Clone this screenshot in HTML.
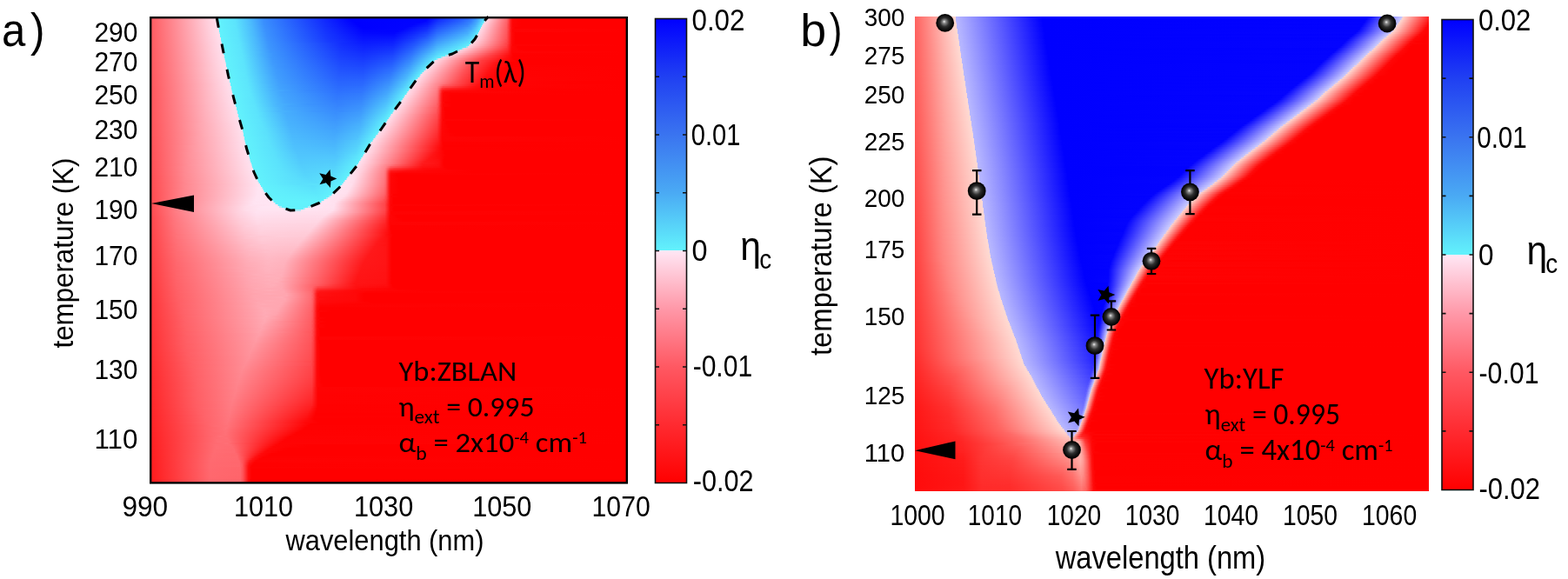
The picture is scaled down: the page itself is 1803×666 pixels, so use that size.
<!DOCTYPE html>
<html><head><meta charset="utf-8"><title>Cooling efficiency maps</title>
<style>
html,body{margin:0;padding:0;background:#fff}
body{width:1803px;height:666px;overflow:hidden;position:relative}
.hm{position:absolute;overflow:hidden}
.hm i{position:absolute;left:0;width:100%;display:block}
svg{position:absolute;left:0;top:0}
</style></head><body>
<div class="hm" style="left:172px;top:19px;width:550px;height:537px"><i style="top:0px;height:2px;background:linear-gradient(90deg,#ff5a60 0.5px,#ffd4e1 69.5px,#ffdeec 76.5px,#62f2fc 77.5px,#5de5fc 96.5px,#4ec0fd 113.5px,#3a8efd 130.5px,#1027ff 201.5px,#00f 230.5px,#0103ff 321.5px,#1027ff 334.5px,#2050fe 357.5px,#2c6dfe 369.5px,#3b93fd 376.5px,#5febfc 387.5px,#ffd6e3 389.5px,#ff6c72 410.5px,#ff5156 412.5px,#ff191a 415.5px,#ff0505 417.5px,#f00 427.5px,#f00 549.5px)"></i><i style="top:2px;height:2px;background:linear-gradient(90deg,#ff5a60 0.5px,#ffd7e4 71.5px,#ffdeec 76.5px,#62f2fc 78.5px,#5ce4fc 97.5px,#4dbefd 114.5px,#398dfd 131.5px,#1129fe 201.5px,#0101ff 230.5px,#0103ff 319.5px,#122cfe 333.5px,#2a67fe 365.5px,#398dfd 374.5px,#5de6fc 385.5px,#ffd9e6 387.5px,#ff696f 410.5px,#ff4f54 412.5px,#ff1819 415.5px,#ff0505 417.5px,#f00 427.5px,#f00 549.5px)"></i><i style="top:4px;height:2px;background:linear-gradient(90deg,#ff5a60 0.5px,#ffd8e5 72.5px,#ffdfec 77.5px,#62f2fc 78.5px,#5ce3fc 98.5px,#4cbcfd 115.5px,#3a8efd 131.5px,#1129fe 202.5px,#0001ff 233.5px,#0104ff 317.5px,#1533fe 332.5px,#2760fe 357.5px,#337efd 369.5px,#42a4fd 376.5px,#5de7fc 384.5px,#ffd8e5 386.5px,#ff656c 410.5px,#ff4c51 412.5px,#ff1719 415.5px,#ff0505 417.5px,#f00 427.5px,#f00 549.5px)"></i><i style="top:6px;height:2px;background:linear-gradient(90deg,#ff5a5f 0.5px,#ffcad7 64.5px,#ffdeec 77.5px,#62f2fc 78.5px,#5ce4fc 98.5px,#4cbbfd 116.5px,#3a8ffd 131.5px,#112bfe 202.5px,#00f 236.5px,#0204ff 310.5px,#0610ff 319.5px,#173afe 331.5px,#2b6afe 358.5px,#3686fd 369.5px,#46adfd 376.5px,#5ee8fc 383.5px,#ffd8e5 385.5px,#ff6268 410.5px,#ff4a4f 412.5px,#ff1618 415.5px,#ff0505 417.5px,#f00 427.5px,#f00 549.5px)"></i><i style="top:8px;height:2px;background:linear-gradient(90deg,#ff5a5f 0.5px,#ffcdda 66.5px,#ffdfed 78.5px,#62f2fc 79.5px,#5ce3fc 99.5px,#4ab6fd 118.5px,#3a90fd 131.5px,#122dfe 202.5px,#00f 238.5px,#0204ff 303.5px,#0a18ff 319.5px,#1a40fe 330.5px,#3481fd 365.5px,#44a8fd 374.5px,#5ee8fc 382.5px,#ffdae8 383.5px,#ff6066 410.5px,#ff373b 413.5px,#ff1617 415.5px,#ff0405 417.5px,#f00 427.5px,#f00 549.5px)"></i><i style="top:10px;height:2px;background:linear-gradient(90deg,#ff5a5f 0.5px,#ffcedb 67.5px,#ffdfec 78.5px,#62f2fc 79.5px,#5de5fc 98.5px,#4dbdfd 116.5px,#3a90fd 132.5px,#122dfe 203.5px,#00f 241.5px,#0204ff 299.5px,#0d21ff 319.5px,#1e49fe 330.5px,#388afd 365.5px,#48b2fd 374.5px,#5ee9fc 381.5px,#ffdae8 382.5px,#ff5e63 410.5px,#ff3639 413.5px,#ff1517 415.5px,#ff0405 417.5px,#f00 427.5px,#f00 549.5px)"></i><i style="top:12px;height:2px;background:linear-gradient(90deg,#ff5a5f 0.5px,#ffd1de 69.5px,#ffdeec 78.5px,#62f2fc 79.5px,#5ce4fc 99.5px,#4cbcfd 117.5px,#3b91fd 132.5px,#132ffe 203.5px,#00f 244.5px,#0204ff 294.5px,#112afe 319.5px,#2254fe 331.5px,#3787fd 359.5px,#41a1fd 369.5px,#52cafd 376.5px,#5ee9fc 380.5px,#ffdae8 381.5px,#ff5c61 410.5px,#ff3538 413.5px,#ff0a0b 416.5px,#f00 420.5px,#f00 549.5px)"></i><i style="top:14px;height:2px;background:linear-gradient(90deg,#ff5a5f 0.5px,#ffd2df 70.5px,#ffdfed 79.5px,#62f2fc 80.5px,#5ce3fc 100.5px,#4bbafd 118.5px,#3b91fd 133.5px,#1431fe 203.5px,#0102ff 245.5px,#0204ff 290.5px,#132ffe 318.5px,#255bfe 330.5px,#398efd 358.5px,#45aafd 369.5px,#55d3fc 376.5px,#5ee9fc 379.5px,#ffdae8 380.5px,#ff5a5f 410.5px,#ff4448 412.5px,#ff1516 415.5px,#ff0404 417.5px,#f00 549.5px)"></i><i style="top:16px;height:2px;background:linear-gradient(90deg,#ff595f 0.5px,#ffcedb 68.5px,#ffdfec 79.5px,#62f2fc 80.5px,#5ce4fc 100.5px,#4bb9fd 119.5px,#3c93fd 132.5px,#1533fe 203.5px,#0205ff 245.5px,#0103ff 284.5px,#1738fe 318.5px,#2863fe 330.5px,#42a2fd 364.5px,#51c7fd 373.5px,#5ee9fc 378.5px,#ffdae8 379.5px,#ff585e 410.5px,#ff3336 413.5px,#ff1415 415.5px,#ff0404 417.5px,#f00 549.5px)"></i><i style="top:18px;height:2px;background:linear-gradient(90deg,#ff595f 0.5px,#ffd1de 70.5px,#ffdeec 79.5px,#62f2fc 81.5px,#5ce3fc 101.5px,#4ab7fd 120.5px,#3b91fd 134.5px,#1535fe 203.5px,#0308ff 245.5px,#0205ff 281.5px,#112afe 305.5px,#1c44fe 319.5px,#2c6cfe 330.5px,#46adfd 365.5px,#57d7fc 374.5px,#5feafc 377.5px,#ffdae8 378.5px,#ff575c 410.5px,#ff3235 413.5px,#ff0a0a 416.5px,#f00 420.5px,#f00 549.5px)"></i><i style="top:20px;height:2px;background:linear-gradient(90deg,#ff595f 0.5px,#ffd2df 71.5px,#ffdfec 80.5px,#62f2fc 81.5px,#5ce4fc 101.5px,#48b3fd 122.5px,#3b92fd 134.5px,#1637fe 203.5px,#050bff 245.5px,#0409ff 280.5px,#1431fe 305.5px,#1f4dfe 319.5px,#2f75fe 330.5px,#4ab6fd 365.5px,#5adffc 374.5px,#5febfc 376.5px,#ffdae7 377.5px,#ff555a 410.5px,#ff3134 413.5px,#ff0a0a 416.5px,#f00 420.5px,#f00 549.5px)"></i><i style="top:22px;height:2px;background:linear-gradient(90deg,#ff595f 0.5px,#ffd3e0 72.5px,#ffdeec 80.5px,#62f2fc 81.5px,#5ce4fc 101.5px,#4bbafd 120.5px,#3c93fd 134.5px,#1637fe 204.5px,#060fff 245.5px,#060fff 281.5px,#1f4cfe 316.5px,#3480fd 331.5px,#48b3fd 359.5px,#52c9fd 368.5px,#5ee7fc 374.5px,#ffd9e7 376.5px,#ff5358 410.5px,#ff3033 413.5px,#ff090a 416.5px,#f00 420.5px,#f00 549.5px)"></i><i style="top:24px;height:2px;background:linear-gradient(90deg,#ff595e 0.5px,#ffccd9 68.5px,#ffdfed 81.5px,#62f2fc 82.5px,#5de5fc 101.5px,#4bb9fd 121.5px,#3c93fd 135.5px,#1636fe 206.5px,#0712ff 245.5px,#0814ff 280.5px,#1738fe 302.5px,#265ffe 319.5px,#3789fd 331.5px,#4ab8fd 357.5px,#55d2fc 368.5px,#5feafc 373.5px,#ffd9e6 375.5px,#ff5156 410.5px,#ff2f31 413.5px,#ff090a 416.5px,#f00 420.5px,#f00 549.5px)"></i><i style="top:26px;height:2px;background:linear-gradient(90deg,#ff595e 0.5px,#ffc8d5 66.5px,#ffdfec 81.5px,#62f2fc 82.5px,#5ce4fc 102.5px,#4ab7fd 122.5px,#3c94fd 135.5px,#1738fe 206.5px,#0915ff 245.5px,#0a19ff 280.5px,#1b42fe 303.5px,#2b6bfe 320.5px,#3a8ffd 330.5px,#54cefc 364.5px,#60ecfc 372.5px,#ffd7e4 374.5px,#ff5b61 407.5px,#ff464a 411.5px,#ff0909 416.5px,#f00 420.5px,#f00 549.5px)"></i><i style="top:28px;height:2px;background:linear-gradient(90deg,#ff595e 0.5px,#ffc9d6 67.5px,#ffdeec 81.5px,#62f2fc 83.5px,#5ce3fc 103.5px,#48b3fd 124.5px,#3c94fd 136.5px,#173afe 206.5px,#0a19ff 245.5px,#0c1dff 279.5px,#1c46fe 302.5px,#2f74fe 320.5px,#3e98fd 330.5px,#58d9fc 365.5px,#5febfc 370.5px,#ffd8e5 372.5px,#ff4b50 410.5px,#ff2b2e 413.5px,#ff0809 416.5px,#f00 420.5px,#f00 549.5px)"></i><i style="top:30px;height:2px;background:linear-gradient(90deg,#ff595e 0.5px,#ffcad7 68.5px,#ffdfec 82.5px,#62f2fc 83.5px,#5ce3fc 104.5px,#47affd 126.5px,#3c95fd 136.5px,#122dfe 221.5px,#0b1cff 246.5px,#0e23ff 280.5px,#2357fe 306.5px,#337dfd 320.5px,#41a1fd 330.5px,#5ce2fc 365.5px,#5febfc 368.5px,#ffd8e5 370.5px,#ff5a5f 405.5px,#ff4044 411.5px,#ff0809 416.5px,#f00 420.5px,#f00 549.5px)"></i><i style="top:32px;height:2px;background:linear-gradient(90deg,#ff595e 0.5px,#ffd0dd 72.5px,#ffdeec 82.5px,#62f2fc 83.5px,#5de5fc 103.5px,#49b3fd 125.5px,#3c95fd 137.5px,#1430fe 220.5px,#0d20ff 246.5px,#1027ff 279.5px,#2459fe 304.5px,#3686fd 320.5px,#46acfd 331.5px,#5adffc 359.5px,#60ecfc 366.5px,#ffd6e3 368.5px,#ff5459 405.5px,#ff4247 410.5px,#ff1a1b 414.5px,#ff0303 417.5px,#f00 549.5px)"></i><i style="top:34px;height:2px;background:linear-gradient(90deg,#ff595e 0.5px,#ffd1de 73.5px,#ffdfed 83.5px,#62f2fc 84.5px,#5ce4fc 104.5px,#48b2fd 126.5px,#3d97fd 136.5px,#1533fe 219.5px,#0e23ff 247.5px,#132efe 280.5px,#255bfe 302.5px,#3a8efd 320.5px,#48b3fd 330.5px,#60eefc 363.5px,#b0e1ee 364.5px,#b0e0ed 365.5px,#ffd2de 366.5px,#ff5358 403.5px,#ff3c40 410.5px,#ff0707 416.5px,#f00 423.5px,#f00 549.5px)"></i><i style="top:36px;height:2px;background:linear-gradient(90deg,#ff585e 0.5px,#ffccd8 70.5px,#ffdfec 83.5px,#62f2fc 84.5px,#5de4fc 104.5px,#4ab6fd 125.5px,#3d97fd 137.5px,#1534fe 221.5px,#1026ff 246.5px,#1432fe 279.5px,#265ffe 301.5px,#3f9bfd 321.5px,#4dbefd 331.5px,#60edfc 358.5px,#afe1ef 359.5px,#b0e1ee 360.5px,#ffd3e0 361.5px,#ff9ea8 377.5px,#ff4549 405.5px,#ff2f32 411.5px,#ff0606 416.5px,#f00 425.5px,#f00 549.5px)"></i><i style="top:38px;height:2px;background:linear-gradient(90deg,#ff585e 0.5px,#ffcdda 71.5px,#ffdeec 83.5px,#62f2fc 85.5px,#5ce4fc 105.5px,#46acfd 129.5px,#3d95fd 139.5px,#1738fe 219.5px,#1129fe 245.5px,#1637fe 279.5px,#2966fe 301.5px,#43a4fd 321.5px,#4fc4fd 330.5px,#60edfc 354.5px,#b0e1ef 355.5px,#b0e1ee 356.5px,#ffd3e0 357.5px,#ff494d 400.5px,#ff282b 411.5px,#ff0505 416.5px,#f00 431.5px,#f00 549.5px)"></i><i style="top:40px;height:2px;background:linear-gradient(90deg,#ff585e 0.5px,#ffcedb 72.5px,#ffdfec 84.5px,#62f2fc 85.5px,#5ce4fc 105.5px,#4ab6fd 126.5px,#3d98fd 138.5px,#183bfe 219.5px,#122dfe 246.5px,#183cfe 279.5px,#2b6afe 300.5px,#44a9fd 320.5px,#53cdfc 330.5px,#60edfc 350.5px,#b0e0ee 351.5px,#b0e0ed 352.5px,#ffd2df 353.5px,#ff474b 397.5px,#ff2123 411.5px,#ff0404 416.5px,#f00 549.5px)"></i><i style="top:42px;height:2px;background:linear-gradient(90deg,#ff585d 0.5px,#ffc7d4 68.5px,#ffdeec 84.5px,#62f2fc 85.5px,#5ce4fc 106.5px,#46acfd 130.5px,#3c94fd 142.5px,#183cfe 220.5px,#1430fe 246.5px,#1a41fe 279.5px,#2f73fe 301.5px,#4bbafd 322.5px,#58dafc 332.5px,#60edfc 345.5px,#afe0ee 346.5px,#b0dfec 348.5px,#ffcfdc 349.5px,#ff494e 392.5px,#ff1617 412.5px,#ff0101 417.5px,#f00 549.5px)"></i><i style="top:44px;height:2px;background:linear-gradient(90deg,#ff585d 0.5px,#ffc8d5 69.5px,#ffdfed 85.5px,#62f2fc 86.5px,#5ce3fc 107.5px,#45abfd 131.5px,#3c95fd 142.5px,#1a3ffe 219.5px,#1533fe 245.5px,#1d47fe 279.5px,#3077fe 300.5px,#4fc3fd 322.5px,#5ce3fc 332.5px,#60eefc 339.5px,#b0e1ef 340.5px,#b0dfec 342.5px,#ffd0dd 343.5px,#ff939c 363.5px,#ff3b3f 393.5px,#ff0c0d 413.5px,#f00 418.5px,#f00 549.5px)"></i><i style="top:46px;height:2px;background:linear-gradient(90deg,#ff585d 0.5px,#ffc9d6 70.5px,#ffdfec 85.5px,#62f2fc 86.5px,#5de5fc 106.5px,#48b2fd 129.5px,#3e9afd 139.5px,#1b42fe 218.5px,#1637fe 246.5px,#1f4cfe 279.5px,#327bfd 299.5px,#51c7fd 321.5px,#5ee7fc 330.5px,#60eefc 334.5px,#b0e2ef 335.5px,#b0e1ee 336.5px,#ffd4e1 337.5px,#ff4549 385.5px,#ff0101 417.5px,#f00 549.5px)"></i><i style="top:48px;height:2px;background:linear-gradient(90deg,#ff585d 0.5px,#ffcad7 71.5px,#ffdeec 85.5px,#62f2fc 87.5px,#5ce4fc 107.5px,#48b1fd 130.5px,#3e98fd 141.5px,#1c44fe 219.5px,#183afe 246.5px,#2151fe 279.5px,#3481fd 299.5px,#56d4fc 322.5px,#60edfc 329.5px,#afe3f1 330.5px,#b0e3f0 331.5px,#ffd7e4 332.5px,#ff474b 380.5px,#ff1112 406.5px,#f00 419.5px,#f00 549.5px)"></i><i style="top:50px;height:2px;background:linear-gradient(90deg,#ff585d 0.5px,#ffcbd8 72.5px,#ffdfec 86.5px,#62f2fc 87.5px,#5de5fc 107.5px,#47b0fd 131.5px,#3e9afd 141.5px,#1d47fe 218.5px,#193dfe 245.5px,#2356fe 279.5px,#388bfd 300.5px,#5fecfc 326.5px,#ffd9e6 328.5px,#ff929b 351.5px,#ff3a3d 382.5px,#ff090a 408.5px,#f00 422.5px,#f00 549.5px)"></i><i style="top:52px;height:2px;background:linear-gradient(90deg,#ff575d 0.5px,#ffcfdc 75.5px,#ffdeec 86.5px,#62f2fc 88.5px,#5ce4fc 108.5px,#48b1fd 131.5px,#3e99fd 142.5px,#1d48fe 220.5px,#1a41fe 246.5px,#245afe 278.5px,#388bfd 298.5px,#60ecfc 324.5px,#ffd9e6 326.5px,#ff5257 370.5px,#ff1719 396.5px,#f00 416.5px,#f00 549.5px)"></i><i style="top:54px;height:2px;background:linear-gradient(90deg,#ff575d 0.5px,#ffcfdb 75.5px,#ffdfed 87.5px,#62f2fc 88.5px,#5de4fc 108.5px,#48b3fd 131.5px,#3f9cfd 141.5px,#1e4bfe 219.5px,#1b44fe 245.5px,#265ffe 278.5px,#3c95fd 299.5px,#60ecfc 322.5px,#ffd9e6 324.5px,#ff5156 368.5px,#ff1314 396.5px,#f00 416.5px,#f00 549.5px)"></i><i style="top:56px;height:2px;background:linear-gradient(90deg,#ff575d 0.5px,#ffd1de 77.5px,#ffdfec 87.5px,#62f2fc 88.5px,#5ce4fc 109.5px,#47affd 133.5px,#3e99fd 144.5px,#1f4dfe 220.5px,#1d47fe 245.5px,#2864fe 278.5px,#3c95fd 297.5px,#60edfc 320.5px,#ffd9e6 322.5px,#ff5156 366.5px,#ff1314 394.5px,#ff0101 413.5px,#f00 549.5px)"></i><i style="top:58px;height:2px;background:linear-gradient(90deg,#ff575c 0.5px,#ffc5d1 69.5px,#ffdfed 88.5px,#62f2fc 89.5px,#5ce4fc 109.5px,#49b3fd 132.5px,#3e99fd 145.5px,#2050fe 219.5px,#1e4bfe 246.5px,#2b69fe 278.5px,#409ffd 298.5px,#60edfc 318.5px,#ffd9e6 320.5px,#ff5257 364.5px,#ff1315 392.5px,#ff0202 408.5px,#f00 549.5px)"></i><i style="top:60px;height:2px;background:linear-gradient(90deg,#ff575c 0.5px,#ffc6d2 70.5px,#ffdfec 88.5px,#62f2fc 89.5px,#5de5fc 109.5px,#48b2fd 133.5px,#3f9cfd 144.5px,#2152fe 219.5px,#1f4efe 245.5px,#2e70fe 279.5px,#45a9fd 299.5px,#60ecfc 316.5px,#ffd9e6 318.5px,#ff5055 363.5px,#ff1011 392.5px,#ff0202 408.5px,#f00 549.5px)"></i><i style="top:62px;height:2px;background:linear-gradient(90deg,#ff575c 0.5px,#ffcad6 73.5px,#ffdeec 88.5px,#62f2fc 90.5px,#5ce4fc 110.5px,#48b1fd 134.5px,#3f9dfd 144.5px,#2355fe 218.5px,#2151fe 245.5px,#2f73fe 278.5px,#46acfd 298.5px,#60ecfc 314.5px,#ffdae7 316.5px,#ff4f53 362.5px,#ff1112 390.5px,#ff0303 405.5px,#f00 549.5px)"></i><i style="top:64px;height:2px;background:linear-gradient(90deg,#ff575c 0.5px,#ffcbd7 74.5px,#ffdfed 89.5px,#62f2fc 90.5px,#5de5fc 110.5px,#47b0fd 135.5px,#3f9dfd 145.5px,#2458fe 217.5px,#2254fe 245.5px,#2f75fe 276.5px,#45abfd 296.5px,#5febfc 312.5px,#ffdae8 314.5px,#ff5055 360.5px,#ff1112 388.5px,#ff0303 403.5px,#f00 549.5px)"></i><i style="top:66px;height:2px;background:linear-gradient(90deg,#ff565c 0.5px,#ffcad6 74.5px,#ffdfec 89.5px,#62f2fc 90.5px,#5de7fc 109.5px,#4ab7fd 133.5px,#409ffd 144.5px,#255afe 217.5px,#2358fe 245.5px,#327cfd 277.5px,#49b5fd 297.5px,#5febfc 310.5px,#ffdbe8 312.5px,#ff494e 361.5px,#ff0e0f 388.5px,#ff0303 404.5px,#f00 549.5px)"></i><i style="top:68px;height:2px;background:linear-gradient(90deg,#ff565c 0.5px,#ffceda 77.5px,#ffdfed 90.5px,#62f2fc 91.5px,#5de5fc 111.5px,#4ab6fd 134.5px,#409efd 146.5px,#265dfe 216.5px,#255bfe 245.5px,#337ffd 276.5px,#49b4fd 295.5px,#60edfc 309.5px,#ffd9e7 311.5px,#ff4b4f 359.5px,#ff0d0e 387.5px,#ff0304 402.5px,#f00 549.5px)"></i><i style="top:70px;height:2px;background:linear-gradient(90deg,#ff565b 0.5px,#ffc5d1 71.5px,#ffdfec 90.5px,#62f2fc 91.5px,#5ce4fc 112.5px,#49b5fd 135.5px,#409ffd 146.5px,#2760fe 215.5px,#265efe 245.5px,#3584fd 276.5px,#4ab7fd 294.5px,#60ecfc 307.5px,#ffdae7 309.5px,#ff474b 359.5px,#ff0b0b 387.5px,#ff0404 405.5px,#f00 549.5px)"></i><i style="top:72px;height:2px;background:linear-gradient(90deg,#ff565b 0.5px,#ffc8d5 74.5px,#ffdfed 91.5px,#62f2fc 92.5px,#5de5fc 112.5px,#49b4fd 136.5px,#409efd 148.5px,#2761fe 217.5px,#2862fe 245.5px,#3787fd 275.5px,#4dbdfd 294.5px,#5febfc 305.5px,#ffdbe9 307.5px,#ff464a 358.5px,#ff0b0c 385.5px,#ff0404 403.5px,#f00 549.5px)"></i><i style="top:74px;height:2px;background:linear-gradient(90deg,#ff565b 0.5px,#ffc8d4 74.5px,#ffdfec 91.5px,#62f2fc 92.5px,#5de7fc 111.5px,#48b3fd 137.5px,#419ffd 148.5px,#2964fe 216.5px,#2965fe 245.5px,#398cfd 275.5px,#52cbfc 296.5px,#60ecfc 304.5px,#ffdae8 306.5px,#ff4a4e 355.5px,#ff0c0d 383.5px,#ff0405 397.5px,#f00 497.5px,#f00 549.5px)"></i><i style="top:76px;height:2px;background:linear-gradient(90deg,#ff565b 0.5px,#ffcbd8 77.5px,#ffdfed 92.5px,#62f2fc 93.5px,#5de5fc 113.5px,#48b2fd 138.5px,#409efd 150.5px,#2966fe 217.5px,#2a68fe 245.5px,#3b91fd 275.5px,#52cafc 294.5px,#5febfc 302.5px,#ffdbe9 304.5px,#ff565b 348.5px,#ff0c0d 381.5px,#ff0405 397.5px,#f00 497.5px,#f00 549.5px)"></i><i style="top:78px;height:2px;background:linear-gradient(90deg,#ff565b 0.5px,#ffcfdc 80.5px,#ffdfec 92.5px,#62f2fc 93.5px,#5de7fc 112.5px,#4bb9fd 136.5px,#42a3fd 147.5px,#2a68fe 217.5px,#2b6afe 244.5px,#3d96fd 275.5px,#54d0fc 294.5px,#60ecfc 301.5px,#ffdbe8 303.5px,#ff858d 331.5px,#ff6268 338.5px,#ff1112 376.5px,#ff0404 390.5px,#f00 549.5px)"></i><i style="top:80px;height:2px;background:linear-gradient(90deg,#ff555b 0.5px,#ffc9d5 76.5px,#ffdfed 93.5px,#62f2fc 94.5px,#5de5fc 114.5px,#48b3fd 139.5px,#41a1fd 150.5px,#2b6bfe 216.5px,#2c6efe 244.5px,#3d97fd 273.5px,#51c7fd 290.5px,#60edfc 300.5px,#ffdce9 301.5px,#ff848c 330.5px,#ff4c51 337.5px,#ff0f0f 374.5px,#ff0303 390.5px,#f00 549.5px)"></i><i style="top:82px;height:2px;background:linear-gradient(90deg,#ff555a 0.5px,#ffc0cc 70.5px,#ffdfec 93.5px,#62f2fc 94.5px,#5de7fc 113.5px,#4bbafd 137.5px,#42a3fd 149.5px,#2c6dfe 216.5px,#2e72fe 245.5px,#409dfd 274.5px,#59dcfc 294.5px,#60ecfc 298.5px,#ffdbe8 300.5px,#ff7f87 330.5px,#ff5d63 333.5px,#ff3539 336.5px,#ff282a 340.5px,#ff0202 385.5px,#f00 549.5px)"></i><i style="top:84px;height:2px;background:linear-gradient(90deg,#ff555a 0.5px,#ffc6d3 75.5px,#ffdeec 93.5px,#62f2fc 95.5px,#5de5fc 115.5px,#47affd 142.5px,#388afd 179.5px,#2d6ffe 218.5px,#3075fe 245.5px,#42a2fd 274.5px,#5ce2fc 294.5px,#60edfc 297.5px,#ffdcea 298.5px,#ff8189 329.5px,#ff7178 331.5px,#ff2c2e 335.5px,#ff1819 337.5px,#ff0e0f 347.5px,#ff0101 394.5px,#f00 549.5px)"></i><i style="top:86px;height:2px;background:linear-gradient(90deg,#ff555a 0.5px,#ffc6d2 75.5px,#ffdfec 94.5px,#62f2fc 95.5px,#5de7fc 114.5px,#4ab6fd 140.5px,#42a3fd 151.5px,#2e72fe 215.5px,#3076fe 243.5px,#44a7fd 274.5px,#5ee8fc 294.5px,#5fecfc 295.5px,#ffdbe9 297.5px,#ff7d85 329.5px,#ff6d73 331.5px,#ff1314 336.5px,#ff0606 339.5px,#f00 462.5px,#f00 549.5px)"></i><i style="top:88px;height:2px;background:linear-gradient(90deg,#ff555a 0.5px,#ffc4d0 74.5px,#ffdeec 94.5px,#62f2fc 96.5px,#5de5fc 116.5px,#4ab7fd 140.5px,#43a5fd 151.5px,#2f74fe 216.5px,#327bfd 244.5px,#44a7fd 272.5px,#5de6fc 292.5px,#60edfc 294.5px,#ffdbe8 296.5px,#ff7a81 329.5px,#ff696f 331.5px,#ff4549 333.5px,#ff1d1e 335.5px,#ff0707 337.5px,#ff0101 346.5px,#f00 549.5px)"></i><i style="top:90px;height:2px;background:linear-gradient(90deg,#ff555a 0.5px,#ffc2ce 73.5px,#ffdfed 95.5px,#62f2fc 96.5px,#5de7fc 115.5px,#4cbbfd 139.5px,#43a6fd 151.5px,#3077fe 215.5px,#337dfd 243.5px,#46acfd 272.5px,#5fecfc 292.5px,#ffdce9 294.5px,#ff777e 329.5px,#ff666c 331.5px,#ff1b1d 335.5px,#ff0606 337.5px,#f00 346.5px,#f00 549.5px)"></i><i style="top:92px;height:2px;background:linear-gradient(90deg,#ff555a 0.5px,#ffc0cc 72.5px,#ffdeec 95.5px,#62f2fc 97.5px,#5de5fc 117.5px,#4ab6fd 142.5px,#43a5fd 154.5px,#3179fd 215.5px,#3481fd 244.5px,#49b3fd 273.5px,#60edfc 291.5px,#ffdbe8 293.5px,#ff737a 329.5px,#ff6369 331.5px,#ff1a1c 335.5px,#ff0506 337.5px,#f00 346.5px,#f00 549.5px)"></i><i style="top:94px;height:2px;background:linear-gradient(90deg,#ff545a 0.5px,#ffbdc9 70.5px,#ffdfed 96.5px,#62f2fc 97.5px,#5ce4fc 118.5px,#4ab8fd 142.5px,#43a6fd 154.5px,#327bfd 215.5px,#3583fd 243.5px,#4ab6fd 272.5px,#60eefc 290.5px,#ffdce9 291.5px,#ff7077 329.5px,#ff6066 331.5px,#ff191b 335.5px,#ff0506 337.5px,#f00 346.5px,#f00 549.5px)"></i><i style="top:96px;height:2px;background:linear-gradient(90deg,#ff5459 0.5px,#ffb6c1 65.5px,#ffdeec 96.5px,#62f2fc 98.5px,#5ce4fc 119.5px,#49b5fd 144.5px,#43a4fd 157.5px,#337efd 214.5px,#3787fd 243.5px,#4bbafd 272.5px,#60edfc 288.5px,#ffdbe9 290.5px,#ff6c73 329.5px,#ff5d63 331.5px,#ff181a 335.5px,#ff0505 337.5px,#f00 347.5px,#f00 549.5px)"></i><i style="top:98px;height:2px;background:linear-gradient(90deg,#ff5459 0.5px,#ffb4bf 64.5px,#ffdfed 97.5px,#62f2fc 98.5px,#5ce4fc 119.5px,#4bb9fd 143.5px,#44a7fd 155.5px,#3480fd 215.5px,#388afd 243.5px,#4dbffd 272.5px,#60eefc 287.5px,#ffdcea 288.5px,#ff6970 329.5px,#ff5a5f 331.5px,#ff0c0c 336.5px,#f00 340.5px,#f00 549.5px)"></i><i style="top:100px;height:2px;background:linear-gradient(90deg,#ff5459 0.5px,#ffb5c0 65.5px,#ffdeec 97.5px,#62f2fc 99.5px,#5ce3fc 121.5px,#49b4fd 146.5px,#3c95fd 181.5px,#3582fd 217.5px,#3a8efd 244.5px,#4fc4fd 272.5px,#60edfc 285.5px,#ffdbe9 287.5px,#ff666c 329.5px,#ff4a4e 332.5px,#ff1718 335.5px,#ff0505 337.5px,#f00 347.5px,#f00 549.5px)"></i><i style="top:102px;height:2px;background:linear-gradient(90deg,#ff5459 0.5px,#ffb8c4 68.5px,#ffdfed 98.5px,#62f2fc 99.5px,#5de5fc 120.5px,#4ab8fd 145.5px,#43a6fd 159.5px,#3684fd 216.5px,#3b92fd 244.5px,#50c6fd 271.5px,#60eefc 284.5px,#ffdcea 285.5px,#ff6268 329.5px,#ff5459 331.5px,#ff1617 335.5px,#ff0505 337.5px,#f00 347.5px,#f00 549.5px)"></i><i style="top:104px;height:2px;background:linear-gradient(90deg,#ff5459 0.5px,#ffb7c2 67.5px,#ffdfed 99.5px,#62f2fc 100.5px,#5ce3fc 122.5px,#46acfd 154.5px,#3787fd 214.5px,#3b92fd 242.5px,#51c8fd 270.5px,#60edfc 282.5px,#ffdce9 284.5px,#ff5a5f 330.5px,#ff3538 333.5px,#ff0b0b 336.5px,#f00 339.5px,#f00 549.5px)"></i><i style="top:106px;height:2px;background:linear-gradient(90deg,#ff5459 0.5px,#ffb8c3 68.5px,#ffdfec 99.5px,#62f2fc 100.5px,#5ce4fc 122.5px,#46acfd 155.5px,#3889fd 214.5px,#3d95fd 242.5px,#55d2fc 272.5px,#60eefc 281.5px,#ffddea 282.5px,#ff5c61 329.5px,#ff4246 332.5px,#ff0a0b 336.5px,#f00 339.5px,#f00 549.5px)"></i><i style="top:108px;height:2px;background:linear-gradient(90deg,#ff5359 0.5px,#ffafba 62.5px,#ffdfed 100.5px,#62f2fc 101.5px,#5ce3fc 123.5px,#4ab6fd 148.5px,#3d96fd 190.5px,#388bfd 219.5px,#3e9afd 243.5px,#56d4fc 271.5px,#60edfc 279.5px,#ffdce9 281.5px,#ff595e 329.5px,#ff4044 332.5px,#ff0a0a 336.5px,#f00 340.5px,#f00 549.5px)"></i><i style="top:110px;height:2px;background:linear-gradient(90deg,#ff5358 0.5px,#ffadb8 61.5px,#ffdfec 100.5px,#62f2fc 101.5px,#5be2fc 125.5px,#47affd 155.5px,#398efd 213.5px,#409dfd 243.5px,#58d8fc 271.5px,#60eefc 278.5px,#ffdbe8 280.5px,#ff555b 329.5px,#ff3d41 332.5px,#ff090a 336.5px,#f00 340.5px,#f00 549.5px)"></i><i style="top:112px;height:2px;background:linear-gradient(90deg,#ff5358 0.5px,#ffaeb9 62.5px,#ffdfed 101.5px,#62f2fc 102.5px,#5ce4fc 124.5px,#47aefd 157.5px,#3a90fd 214.5px,#409ffd 242.5px,#58dafc 270.5px,#60edfc 276.5px,#ffdce9 278.5px,#ff4d52 330.5px,#ff2d30 333.5px,#ff0909 336.5px,#f00 340.5px,#f00 549.5px)"></i><i style="top:114px;height:2px;background:linear-gradient(90deg,#ff5358 0.5px,#ffafba 63.5px,#ffdfec 101.5px,#62f2fc 102.5px,#5ce4fc 124.5px,#47b0fd 157.5px,#3b92fd 214.5px,#42a2fd 242.5px,#5adffc 270.5px,#60eefc 275.5px,#ffdbe9 277.5px,#ff4a4f 330.5px,#ff2b2e 333.5px,#ff0909 336.5px,#f00 340.5px,#f00 549.5px)"></i><i style="top:116px;height:2px;background:linear-gradient(90deg,#ff5358 0.5px,#ffadb8 62.5px,#ffdfed 102.5px,#62f2fc 103.5px,#5be2fc 127.5px,#48b1fd 157.5px,#3c94fd 215.5px,#44a7fd 243.5px,#5de6fc 271.5px,#61effc 274.5px,#ffdcea 275.5px,#ff484c 330.5px,#ff2a2c 333.5px,#ff0809 336.5px,#f00 340.5px,#f00 549.5px)"></i><i style="top:118px;height:2px;background:linear-gradient(90deg,#ff5358 0.5px,#ffaeb9 63.5px,#ffdfec 102.5px,#62f2fc 104.5px,#5ce4fc 126.5px,#48b1fd 158.5px,#3d96fd 213.5px,#44a7fd 241.5px,#5de5fc 269.5px,#60edfc 272.5px,#ffdce9 274.5px,#ff4549 330.5px,#ff1b1d 334.5px,#ff0303 337.5px,#f00 549.5px)"></i><i style="top:120px;height:2px;background:linear-gradient(90deg,#ff5358 0.5px,#ffb3be 67.5px,#ffdfed 103.5px,#62f2fc 104.5px,#5ce2fc 128.5px,#48b2fd 159.5px,#3e99fd 213.5px,#45aafd 241.5px,#60eefc 271.5px,#ffdbe9 273.5px,#ff4246 330.5px,#ff2628 333.5px,#ff0808 336.5px,#f00 341.5px,#f00 549.5px)"></i><i style="top:122px;height:2px;background:linear-gradient(90deg,#ff5258 0.5px,#ffa7b1 58.5px,#ffdfed 104.5px,#62f2fc 105.5px,#5be2fc 129.5px,#48b2fd 160.5px,#3f9bfd 214.5px,#47affd 242.5px,#60edfc 269.5px,#ffdcea 271.5px,#ff3f43 330.5px,#ff2427 333.5px,#ff0708 336.5px,#f00 341.5px,#f00 549.5px)"></i><i style="top:124px;height:2px;background:linear-gradient(90deg,#ff5257 0.5px,#ffa4ae 56.5px,#ffdfed 104.5px,#62f2fc 105.5px,#5ce3fc 129.5px,#49b4fd 159.5px,#409dfd 214.5px,#48b2fd 242.5px,#60eefc 268.5px,#ffdce9 270.5px,#ff3c40 330.5px,#ff0707 336.5px,#f00 343.5px,#f00 549.5px)"></i><i style="top:126px;height:2px;background:linear-gradient(90deg,#ff5257 0.5px,#ffa5af 57.5px,#ffdfed 105.5px,#62f2fc 106.5px,#5ce2fc 130.5px,#49b4fd 161.5px,#419ffd 213.5px,#49b5fd 242.5px,#61effc 267.5px,#ffddea 268.5px,#ff3a3d 330.5px,#ff0607 336.5px,#f00 343.5px,#f00 549.5px)"></i><i style="top:128px;height:2px;background:linear-gradient(90deg,#ff5257 0.5px,#ffa6b0 58.5px,#ffdfec 105.5px,#62f2fc 107.5px,#5be0fc 133.5px,#4ab6fd 161.5px,#41a1fd 212.5px,#49b5fd 240.5px,#60eefc 265.5px,#ffdcea 267.5px,#ff373a 330.5px,#ff0606 336.5px,#f00 345.5px,#f00 549.5px)"></i><i style="top:130px;height:2px;background:linear-gradient(90deg,#ff5257 0.5px,#ffa7b1 59.5px,#ffdfed 106.5px,#62f2fc 107.5px,#5be2fc 132.5px,#4ab6fd 162.5px,#42a4fd 214.5px,#4bbafd 241.5px,#61effc 264.5px,#ffdbe9 266.5px,#ff3437 330.5px,#ff0606 336.5px,#f00 345.5px,#f00 549.5px)"></i><i style="top:132px;height:2px;background:linear-gradient(90deg,#ff5257 0.5px,#ffaab5 62.5px,#ffdfec 106.5px,#62f2fc 108.5px,#5be0fc 134.5px,#4ab7fd 162.5px,#43a6fd 214.5px,#4dbdfd 241.5px,#60eefc 262.5px,#ffdcea 264.5px,#ff3134 330.5px,#ff0506 336.5px,#f00 345.5px,#f00 549.5px)"></i><i style="top:134px;height:2px;background:linear-gradient(90deg,#ff5257 0.5px,#ffaab4 62.5px,#ffdfed 107.5px,#62f2fc 108.5px,#5be0fc 135.5px,#4bb8fd 163.5px,#44a8fd 213.5px,#4ec0fd 241.5px,#61effc 261.5px,#ffdbe9 263.5px,#ff2e31 330.5px,#ff0505 336.5px,#f00 351.5px,#f00 549.5px)"></i><i style="top:136px;height:2px;background:linear-gradient(90deg,#ff5257 0.5px,#ffaab4 62.5px,#ffdfed 107.5px,#62f2fc 108.5px,#5be2fc 134.5px,#4bbafd 163.5px,#45aafd 212.5px,#4ec0fd 239.5px,#60eefc 259.5px,#ffdcea 261.5px,#ff2b2e 330.5px,#ff0505 336.5px,#f00 351.5px,#f00 549.5px)"></i><i style="top:138px;height:2px;background:linear-gradient(90deg,#ff5156 0.5px,#ff9fa9 54.5px,#ffdfed 108.5px,#62f2fc 109.5px,#5ce3fc 134.5px,#4bbafd 164.5px,#46acfd 212.5px,#4fc3fd 239.5px,#61effc 258.5px,#ffdbe9 260.5px,#ff282b 330.5px,#ff0404 336.5px,#f00 549.5px)"></i><i style="top:140px;height:2px;background:linear-gradient(90deg,#ff5156 0.5px,#ffa0aa 55.5px,#ffdfed 108.5px,#62f2fc 109.5px,#5ce2fc 135.5px,#4cbcfd 164.5px,#47aefd 211.5px,#4fc3fd 237.5px,#60eefc 256.5px,#ffdcea 258.5px,#ff2123 331.5px,#ff0404 336.5px,#f00 549.5px)"></i><i style="top:142px;height:2px;background:linear-gradient(90deg,#ff5156 0.5px,#ffa0aa 55.5px,#ffdfec 108.5px,#62f2fc 110.5px,#5be1fc 137.5px,#4dbdfd 164.5px,#48b1fd 213.5px,#53cdfc 241.5px,#61effc 255.5px,#ffdce9 257.5px,#ff1e20 331.5px,#ff0304 336.5px,#f00 549.5px)"></i><i style="top:144px;height:2px;background:linear-gradient(90deg,#ff5156 0.5px,#ff9da7 53.5px,#ffdfed 109.5px,#62f2fc 110.5px,#5ce3fc 136.5px,#4dbdfd 166.5px,#49b3fd 213.5px,#54cefc 240.5px,#60eefc 253.5px,#ffddeb 255.5px,#ff1a1c 331.5px,#ff0101 337.5px,#f00 549.5px)"></i><i style="top:146px;height:2px;background:linear-gradient(90deg,#ff5156 0.5px,#ffa2ac 57.5px,#ffdfed 109.5px,#62f2fc 111.5px,#5ce2fc 137.5px,#4dbffd 165.5px,#49b5fd 212.5px,#55d1fc 240.5px,#61eefc 252.5px,#ffddea 254.5px,#ff1719 331.5px,#ff0101 337.5px,#f00 549.5px)"></i><i style="top:148px;height:2px;background:linear-gradient(90deg,#ff5055 0.5px,#ff97a0 48.5px,#ffe0ed 110.5px,#62f2fc 111.5px,#5ce2fc 138.5px,#4ec0fd 166.5px,#4ab7fd 212.5px,#55d1fc 238.5px,#61effc 251.5px,#ffdeec 252.5px,#ff1011 332.5px,#f00 338.5px,#f00 549.5px)"></i><i style="top:150px;height:2px;background:linear-gradient(90deg,#ff5055 0.5px,#ff98a1 49.5px,#ffdfed 110.5px,#62f2fc 111.5px,#5be2fc 139.5px,#4ec1fd 166.5px,#4bbafd 213.5px,#56d4fc 238.5px,#61effc 250.5px,#ffdeec 251.5px,#ff0101 337.5px,#f00 549.5px)"></i><i style="top:152px;height:2px;background:linear-gradient(90deg,#ff5055 0.5px,#ff9aa4 51.5px,#ffe0ed 111.5px,#62f2fc 112.5px,#5be2fc 140.5px,#4fc2fd 167.5px,#4cbcfd 213.5px,#57d7fc 238.5px,#60eefc 248.5px,#ffdfec 250.5px,#ff0101 337.5px,#f00 549.5px)"></i><i style="top:154px;height:2px;background:linear-gradient(90deg,#ff5055 0.5px,#ff9ba5 52.5px,#ffe0ed 111.5px,#62f2fc 113.5px,#5be1fc 142.5px,#4fc3fd 168.5px,#4dbefd 212.5px,#57d8fc 237.5px,#60eefc 247.5px,#ffdfec 249.5px,#ff1213 329.5px,#f00 339.5px,#f00 549.5px)"></i><i style="top:156px;height:2px;background:linear-gradient(90deg,#ff4f54 0.5px,#ff929b 45.5px,#ffe0ee 112.5px,#62f2fc 113.5px,#5be2fc 142.5px,#50c4fd 169.5px,#4ec0fd 212.5px,#59dbfc 237.5px,#61effc 246.5px,#ffdfec 248.5px,#ff1416 326.5px,#f00 339.5px,#f00 549.5px)"></i><i style="top:158px;height:2px;background:linear-gradient(90deg,#ff4f54 0.5px,#ff939c 46.5px,#ffe0ee 113.5px,#62f2fc 114.5px,#5ce2fc 142.5px,#50c5fd 171.5px,#4fc3fd 213.5px,#5be0fc 238.5px,#61effc 245.5px,#ffe0ee 246.5px,#ff6b72 291.5px,#ff1415 325.5px,#ff0a0a 333.5px,#f00 340.5px,#f00 549.5px)"></i><i style="top:160px;height:2px;background:linear-gradient(90deg,#ff4f54 0.5px,#ff939c 46.5px,#ffe0ee 113.5px,#62f2fc 115.5px,#5ce2fc 143.5px,#50c6fd 171.5px,#50c6fd 215.5px,#5ee7fc 240.5px,#61effc 244.5px,#ffe0ee 245.5px,#ff8088 282.5px,#ff1516 323.5px,#ff0a0b 333.5px,#f00 339.5px,#f00 549.5px)"></i><i style="top:162px;height:2px;background:linear-gradient(90deg,#ff4f54 0.5px,#ff949d 47.5px,#ffe0ee 114.5px,#62f2fc 115.5px,#5ce3fc 143.5px,#51c7fd 172.5px,#51c8fd 214.5px,#5de6fc 238.5px,#61eefc 242.5px,#ffe0ee 244.5px,#ff777e 284.5px,#ff1617 321.5px,#ff0b0b 333.5px,#f00 339.5px,#f00 549.5px)"></i><i style="top:164px;height:2px;background:linear-gradient(90deg,#ff4f53 0.5px,#ff8d96 42.5px,#ffe0ee 114.5px,#62f2fc 116.5px,#5be2fc 146.5px,#51c9fd 172.5px,#52cafc 214.5px,#5febfc 239.5px,#61effc 241.5px,#ffe0ee 243.5px,#ff7077 285.5px,#ff1718 319.5px,#ff0e0f 332.5px,#f00 338.5px,#f00 549.5px)"></i><i style="top:166px;height:2px;background:linear-gradient(90deg,#ff4e53 0.5px,#ff8d96 42.5px,#ffe1ee 115.5px,#62f2fc 116.5px,#5be2fc 147.5px,#52cafc 173.5px,#52cbfc 212.5px,#5ee8fc 236.5px,#61effc 240.5px,#ffe1ef 241.5px,#ffbdc9 256.5px,#ff191a 316.5px,#ff0f10 332.5px,#f00 338.5px,#f00 549.5px)"></i><i style="top:168px;height:2px;background:linear-gradient(90deg,#ff4e53 0.5px,#ff8e97 43.5px,#ffe1ef 116.5px,#62f2fc 117.5px,#5be2fc 148.5px,#52cbfc 173.5px,#53cefc 213.5px,#61eefc 238.5px,#61f0fc 239.5px,#ffe1ef 240.5px,#ffbdc8 255.5px,#ff1b1d 313.5px,#ff1415 326.5px,#ff0f10 332.5px,#f00 338.5px,#f00 549.5px)"></i><i style="top:170px;height:2px;background:linear-gradient(90deg,#ff4e53 0.5px,#ff929b 46.5px,#ffe1ee 116.5px,#62f2fc 118.5px,#5be2fc 149.5px,#53cdfc 174.5px,#54d0fc 213.5px,#61effc 237.5px,#ffe1ef 239.5px,#ffaeb8 259.5px,#ff828a 273.5px,#ff646a 282.5px,#ff1617 314.5px,#ff0e0f 332.5px,#f00 338.5px,#f00 549.5px)"></i><i style="top:172px;height:2px;background:linear-gradient(90deg,#ff4e52 0.5px,#ff8a93 40.5px,#ffe1ef 117.5px,#62f2fc 118.5px,#5be2fc 150.5px,#53cefc 175.5px,#55d2fc 212.5px,#61f0fc 236.5px,#ffe1ee 238.5px,#ffbbc7 253.5px,#ff848c 271.5px,#ff5c62 277.5px,#ff1213 313.5px,#ff0c0d 332.5px,#f00 339.5px,#f00 549.5px)"></i><i style="top:174px;height:2px;background:linear-gradient(90deg,#ff4d52 0.5px,#ff8b94 41.5px,#ffe2ef 118.5px,#62f2fc 119.5px,#5ce2fc 151.5px,#54cffc 176.5px,#56d5fc 213.5px,#61effc 234.5px,#ffe2ef 236.5px,#ffc9d5 247.5px,#ff848c 270.5px,#ff666d 273.5px,#ff4549 276.5px,#ff3639 281.5px,#ff0b0c 314.5px,#ff0607 333.5px,#f00 343.5px,#f00 549.5px)"></i><i style="top:176px;height:2px;background:linear-gradient(90deg,#ff4d52 0.5px,#ff8a92 40.5px,#ffe1ef 118.5px,#62f2fc 120.5px,#5be1fc 154.5px,#55d1fc 176.5px,#57d6fc 212.5px,#61f0fc 233.5px,#ffe2f0 234.5px,#ffcedb 244.5px,#ff848c 269.5px,#ff767d 271.5px,#ff3539 275.5px,#ff2325 277.5px,#ff1011 296.5px,#ff0506 319.5px,#f00 373.5px,#f00 549.5px)"></i><i style="top:178px;height:2px;background:linear-gradient(90deg,#ff4d52 0.5px,#ff8d96 43.5px,#ffe2ef 119.5px,#62f2fc 120.5px,#5ce4fc 151.5px,#55d2fc 178.5px,#58d9fc 213.5px,#61f0fc 231.5px,#ffe2f0 233.5px,#ffd1de 242.5px,#ff8189 269.5px,#ff7177 271.5px,#ff2628 275.5px,#ff1011 277.5px,#ff0708 290.5px,#f00 370.5px,#f00 549.5px)"></i><i style="top:180px;height:2px;background:linear-gradient(90deg,#ff4d51 0.5px,#ff8890 39.5px,#ffe2f0 120.5px,#62f2fc 121.5px,#5ce3fc 154.5px,#56d4fc 178.5px,#59dbfc 212.5px,#61effc 229.5px,#ffe3f1 231.5px,#ffd7e4 239.5px,#ff7f87 269.5px,#ff6d74 271.5px,#ff1f21 275.5px,#ff0909 277.5px,#ff0202 284.5px,#f00 549.5px)"></i><i style="top:182px;height:2px;background:linear-gradient(90deg,#ff4c51 0.5px,#ff8991 40.5px,#ffe2f0 121.5px,#62f2fc 122.5px,#5ce2fc 157.5px,#56d5fc 179.5px,#5adefc 213.5px,#61f0fc 228.5px,#ffe3f1 230.5px,#ffd8e5 238.5px,#ff7d85 269.5px,#ff6c72 271.5px,#ff1d1e 275.5px,#ff0607 277.5px,#f00 284.5px,#f00 549.5px)"></i><i style="top:184px;height:2px;background:linear-gradient(90deg,#ff4c51 0.5px,#ff8b93 42.5px,#ffe2f0 122.5px,#62f2fc 123.5px,#5be1fc 160.5px,#57d7fc 181.5px,#5be0fc 213.5px,#61f0fc 226.5px,#ffe3f1 228.5px,#ffdce9 236.5px,#ff7b83 269.5px,#ff6a71 271.5px,#ff1c1e 275.5px,#ff0606 277.5px,#f00 286.5px,#f00 549.5px)"></i><i style="top:186px;height:2px;background:linear-gradient(90deg,#ff4c50 0.5px,#ff8890 40.5px,#ffe2f0 122.5px,#62f2fc 124.5px,#5be0fc 163.5px,#58d9fc 184.5px,#5ce3fc 214.5px,#61f0fc 225.5px,#ffe3f1 227.5px,#ffdcea 235.5px,#ff7a81 269.5px,#ff696f 271.5px,#ff1c1d 275.5px,#ff0606 277.5px,#f00 286.5px,#f00 549.5px)"></i><i style="top:188px;height:2px;background:linear-gradient(90deg,#ff4b50 0.5px,#ff868e 39.5px,#ffe2f0 123.5px,#62f2fc 125.5px,#5ce2fc 162.5px,#58dafc 186.5px,#5ee7fc 216.5px,#61f0fc 223.5px,#ffe4f1 225.5px,#ffddeb 234.5px,#ff7880 269.5px,#ff676e 271.5px,#ff1b1d 275.5px,#ff0606 277.5px,#f00 286.5px,#f00 549.5px)"></i><i style="top:190px;height:2px;background:linear-gradient(90deg,#ff4b50 0.5px,#ff8b93 43.5px,#ffe3f0 124.5px,#62f2fc 126.5px,#5be1fc 166.5px,#59dcfc 191.5px,#5febfc 217.5px,#61f0fc 222.5px,#ffe4f2 223.5px,#ffdbe9 234.5px,#ff777e 269.5px,#ff666c 271.5px,#ff1b1c 275.5px,#ff0606 277.5px,#f00 286.5px,#f00 549.5px)"></i><i style="top:192px;height:2px;background:linear-gradient(90deg,#ff4b4f 0.5px,#ff848c 38.5px,#ffe3f1 125.5px,#ffe4f1 126.5px,#62f2fc 127.5px,#5be0fc 171.5px,#5ce2fc 204.5px,#61f0fc 220.5px,#ffe4f2 222.5px,#ffdeec 232.5px,#ff757c 269.5px,#ff646b 271.5px,#ff1a1c 275.5px,#ff0506 277.5px,#f00 286.5px,#f00 549.5px)"></i><i style="top:194px;height:2px;background:linear-gradient(90deg,#ff4b4f 0.5px,#ff878f 40.5px,#ffe4f2 126.5px,#ffe4f2 127.5px,#62f2fc 128.5px,#5adffc 187.5px,#60eefc 216.5px,#61f0fc 218.5px,#ffe4f2 220.5px,#ffdfec 231.5px,#ff737a 269.5px,#ff6369 271.5px,#ff1a1b 275.5px,#ff0506 277.5px,#f00 286.5px,#f00 549.5px)"></i><i style="top:196px;height:2px;background:linear-gradient(90deg,#ff4a4f 0.5px,#ff8890 41.5px,#ffe4f2 125.5px,#ffe4f2 128.5px,#62f2fc 130.5px,#5be1fc 188.5px,#61f0fc 216.5px,#ffe4f2 218.5px,#ffdeec 230.5px,#ff7077 269.5px,#ff6066 271.5px,#ff191b 275.5px,#ff0506 277.5px,#f00 286.5px,#f00 549.5px)"></i><i style="top:198px;height:2px;background:linear-gradient(90deg,#ff4a4e 0.5px,#ff848c 38.5px,#ffe4f2 125.5px,#ffe4f2 129.5px,#62f2fc 131.5px,#5ce3fc 188.5px,#61f0fc 214.5px,#ffe4f2 216.5px,#ffdeec 229.5px,#ff6e74 269.5px,#ff5e64 271.5px,#ff191a 275.5px,#ff0505 277.5px,#f00 287.5px,#f00 549.5px)"></i><i style="top:200px;height:2px;background:linear-gradient(90deg,#ff4a4e 0.5px,#ff848c 38.5px,#ffe4f2 124.5px,#ffe4f2 130.5px,#62f2fc 132.5px,#5de5fc 190.5px,#61f0fc 212.5px,#ffe4f2 214.5px,#ffe0ed 227.5px,#ff6b71 269.5px,#ff5b61 271.5px,#ff1819 275.5px,#ff0505 277.5px,#f00 287.5px,#f00 549.5px)"></i><i style="top:202px;height:2px;background:linear-gradient(90deg,#ff494e 0.5px,#ff878f 40.5px,#ffe4f2 124.5px,#ffe5f3 132.5px,#62f2fc 134.5px,#5de7fc 191.5px,#61f0fc 210.5px,#ffe5f3 212.5px,#ffdfed 226.5px,#ff686e 269.5px,#ff595e 271.5px,#ff1719 275.5px,#ff0505 277.5px,#f00 287.5px,#f00 549.5px)"></i><i style="top:204px;height:2px;background:linear-gradient(90deg,#ff494e 0.5px,#ff878f 40.5px,#ffe4f2 124.5px,#ffe5f3 133.5px,#62f2fc 135.5px,#5ee9fc 192.5px,#61f1fc 208.5px,#ffe5f3 210.5px,#ffdeeb 225.5px,#ff646a 269.5px,#ff555b 271.5px,#ff0b0c 276.5px,#f00 280.5px,#f00 549.5px)"></i><i style="top:206px;height:2px;background:linear-gradient(90deg,#ff494d 0.5px,#ff838b 37.5px,#ffe4f2 123.5px,#ffe5f3 135.5px,#62f2fc 137.5px,#5febfc 194.5px,#61f1fc 205.5px,#b0ebf7 206.5px,#b0ebf7 207.5px,#ffe5f3 208.5px,#ffdeeb 223.5px,#ff5f65 269.5px,#ff4549 272.5px,#ff1516 275.5px,#ff0405 277.5px,#f00 287.5px,#f00 549.5px)"></i><i style="top:208px;height:2px;background:linear-gradient(90deg,#ff494d 0.5px,#ff868e 39.5px,#ffe4f2 122.5px,#ffe5f3 137.5px,#62f2fc 139.5px,#60edfc 195.5px,#62f1fc 202.5px,#b0ebf7 203.5px,#b0ebf7 204.5px,#ffe5f3 205.5px,#ffdeec 220.5px,#ff5a5f 269.5px,#ff4044 272.5px,#ff0a0a 276.5px,#f00 280.5px,#f00 549.5px)"></i><i style="top:210px;height:2px;background:linear-gradient(90deg,#ff494d 0.5px,#ff8189 35.5px,#ffe4f2 121.5px,#ffe5f3 139.5px,#62f2fc 141.5px,#61effc 195.5px,#62f1fc 199.5px,#ffe5f3 201.5px,#ffdfec 217.5px,#ff5b60 267.5px,#ff474b 271.5px,#ff090a 276.5px,#f00 280.5px,#f00 549.5px)"></i><i style="top:212px;height:2px;background:linear-gradient(90deg,#ff494d 0.5px,#ff828a 35.5px,#ffe3f1 119.5px,#ffe5f3 141.5px,#62f2fc 143.5px,#62f1fc 196.5px,#ffe5f3 198.5px,#ffe0ee 214.5px,#ff4f54 269.5px,#ff383b 272.5px,#ff0809 276.5px,#f00 280.5px,#f00 549.5px)"></i><i style="top:214px;height:2px;background:linear-gradient(90deg,#ff494e 0.5px,#ff838b 35.5px,#ffe4f2 120.5px,#ffe5f3 143.5px,#62f2fc 145.5px,#62f1fc 191.5px,#b0ebf7 192.5px,#b0ebf7 194.5px,#ffe5f3 195.5px,#ffe1ef 212.5px,#ff464b 270.5px,#ff292b 273.5px,#ff0809 276.5px,#f00 280.5px,#f00 549.5px)"></i><i style="top:216px;height:2px;background:linear-gradient(90deg,#ff494e 0.5px,#ff828a 34.5px,#ffe1ef 116.5px,#ffe5f3 146.5px,#62f2fc 148.5px,#62f1fc 186.5px,#b0ebf7 187.5px,#b0ebf7 189.5px,#ffe5f3 190.5px,#ffe0ee 212.5px,#ff4549 270.5px,#ff1b1d 274.5px,#ff0303 277.5px,#f00 549.5px)"></i><i style="top:218px;height:2px;background:linear-gradient(90deg,#ff494e 0.5px,#ff8088 32.5px,#ffddea 111.5px,#ffe5f3 129.5px,#ffe5f3 148.5px,#b0ebf7 149.5px,#b0ebf7 151.5px,#62f2fc 152.5px,#62f1fc 181.5px,#b0ebf7 182.5px,#b0ebf7 184.5px,#ffe5f3 185.5px,#ffe1ef 211.5px,#ff454a 270.5px,#ff282b 273.5px,#ff0808 276.5px,#f00 281.5px,#f00 549.5px)"></i><i style="top:220px;height:2px;background:linear-gradient(90deg,#ff494e 0.5px,#ff7f87 31.5px,#ffdbe8 109.5px,#ffe4f2 125.5px,#ffe4f2 154.5px,#b0ebf7 155.5px,#b0ebf7 157.5px,#62f2fc 158.5px,#62f2fc 176.5px,#b0ebf7 177.5px,#b0ebf7 178.5px,#ffe4f2 179.5px,#ffe0ee 211.5px,#ff464a 270.5px,#ff292b 273.5px,#ff0809 276.5px,#f00 280.5px,#f00 549.5px)"></i><i style="top:222px;height:2px;background:linear-gradient(90deg,#ff494d 0.5px,#ff7f87 31.5px,#ffddea 111.5px,#ffe4f1 127.5px,#ffe4f1 160.5px,#b0ebf7 161.5px,#b0ebf7 173.5px,#ffe4f1 174.5px,#ffdfed 210.5px,#ff454a 270.5px,#ff282b 273.5px,#ff0808 276.5px,#f00 281.5px,#f00 549.5px)"></i><i style="top:224px;height:2px;background:linear-gradient(90deg,#ff484d 0.5px,#ff7d84 30.5px,#ffd1de 101.5px,#ffe2f0 122.5px,#ffdeec 207.5px,#ff9da7 235.5px,#ff4246 270.5px,#ff1a1c 274.5px,#ff0303 277.5px,#f00 549.5px)"></i><i style="top:226px;height:2px;background:linear-gradient(90deg,#ff484c 0.5px,#ff7a82 29.5px,#ffd2df 103.5px,#ffe1ef 123.5px,#ffdeeb 203.5px,#ffbbc7 220.5px,#ff3e42 270.5px,#ff181a 274.5px,#ff0303 277.5px,#f00 549.5px)"></i><i style="top:228px;height:2px;background:linear-gradient(90deg,#ff474b 0.5px,#ff7981 29.5px,#ffcedb 101.5px,#ffdfed 122.5px,#ffdbe9 201.5px,#ffafb9 222.5px,#ff383c 270.5px,#ff0607 276.5px,#f00 283.5px,#f00 549.5px)"></i><i style="top:230px;height:2px;background:linear-gradient(90deg,#ff464a 0.5px,#ff7880 29.5px,#ffd0dd 104.5px,#ffdeeb 124.5px,#ffdae8 198.5px,#ffacb6 220.5px,#ff3336 270.5px,#ff0606 276.5px,#f00 285.5px,#f00 549.5px)"></i><i style="top:232px;height:2px;background:linear-gradient(90deg,#ff454a 0.5px,#ff767d 28.5px,#ffc8d4 98.5px,#ffdce9 122.5px,#ffd8e6 196.5px,#ff7980 239.5px,#ff2f31 270.5px,#ff0505 276.5px,#f00 291.5px,#f00 549.5px)"></i><i style="top:234px;height:2px;background:linear-gradient(90deg,#ff4549 0.5px,#ff7981 31.5px,#ffcedb 106.5px,#ffdae8 124.5px,#ffd7e4 194.5px,#ff2a2d 270.5px,#ff0505 276.5px,#f00 291.5px,#f00 549.5px)"></i><i style="top:236px;height:2px;background:linear-gradient(90deg,#ff4449 0.5px,#ff767d 29.5px,#ffcbd7 104.5px,#ffd9e6 124.5px,#ffd6e3 192.5px,#ff2729 270.5px,#ff0404 276.5px,#f00 549.5px)"></i><i style="top:238px;height:2px;background:linear-gradient(90deg,#ff4448 0.5px,#ff747b 28.5px,#ffc9d5 104.5px,#ffd7e4 124.5px,#ffd3e0 191.5px,#ff1f21 271.5px,#ff0404 276.5px,#f00 549.5px)"></i><i style="top:240px;height:2px;background:linear-gradient(90deg,#ff4448 0.5px,#ff767d 30.5px,#ffcfdc 112.5px,#ffd6e3 133.5px,#ffd2df 189.5px,#ff1c1e 271.5px,#ff0101 277.5px,#f00 549.5px)"></i><i style="top:242px;height:2px;background:linear-gradient(90deg,#ff4448 0.5px,#ff757c 30.5px,#ffcad7 109.5px,#ffd4e1 127.5px,#ffd1de 187.5px,#ff1a1b 271.5px,#ff0101 277.5px,#f00 549.5px)"></i><i style="top:244px;height:2px;background:linear-gradient(90deg,#ff4347 0.5px,#ff737a 29.5px,#ffc8d4 108.5px,#ffd3e0 128.5px,#ffd0dc 185.5px,#ff1415 272.5px,#ff0101 277.5px,#f00 549.5px)"></i><i style="top:246px;height:2px;background:linear-gradient(90deg,#ff4347 0.5px,#ff737b 30.5px,#ffc5d1 107.5px,#ffd1de 127.5px,#ffcdda 184.5px,#ff1214 272.5px,#f00 278.5px,#f00 549.5px)"></i><i style="top:248px;height:2px;background:linear-gradient(90deg,#ff4347 0.5px,#ff747b 31.5px,#ffc5d1 109.5px,#ffd0dc 127.5px,#ffccd8 182.5px,#ff0e0f 273.5px,#f00 278.5px,#f00 549.5px)"></i><i style="top:250px;height:2px;background:linear-gradient(90deg,#ff4246 0.5px,#ff6e75 27.5px,#ffbeca 103.5px,#ffcedb 127.5px,#ffcbd7 180.5px,#ff191a 268.5px,#ff090a 274.5px,#f00 280.5px,#f00 549.5px)"></i><i style="top:252px;height:2px;background:linear-gradient(90deg,#ff4246 0.5px,#ff737a 31.5px,#ffc8d4 116.5px,#ffcdd9 151.5px,#ffc9d6 178.5px,#ff181a 267.5px,#ff0e0e 273.5px,#f00 279.5px,#f00 549.5px)"></i><i style="top:254px;height:2px;background:linear-gradient(90deg,#ff4246 0.5px,#ff7279 31.5px,#ffc1cd 110.5px,#ffcbd7 130.5px,#ffc7d3 177.5px,#ff191a 265.5px,#ff1112 272.5px,#f00 278.5px,#f00 549.5px)"></i><i style="top:256px;height:2px;background:linear-gradient(90deg,#ff4145 0.5px,#ff6d74 28.5px,#ffb9c4 103.5px,#ffcad6 128.5px,#ffc6d2 175.5px,#ff181a 264.5px,#ff1112 272.5px,#f00 278.5px,#f00 549.5px)"></i><i style="top:258px;height:2px;background:linear-gradient(90deg,#ff4145 0.5px,#ff6e75 29.5px,#ffbcc7 108.5px,#ffc8d4 129.5px,#ffc5d1 173.5px,#ff191a 262.5px,#ff1112 272.5px,#f00 278.5px,#f00 549.5px)"></i><i style="top:260px;height:2px;background:linear-gradient(90deg,#ff4145 0.5px,#ff6e75 30.5px,#ffb7c3 105.5px,#ffc6d3 129.5px,#ffc3cf 171.5px,#ff181a 261.5px,#ff1415 271.5px,#f00 278.5px,#f00 549.5px)"></i><i style="top:262px;height:2px;background:linear-gradient(90deg,#ff4145 0.5px,#ff7077 32.5px,#ffc0cb 117.5px,#ffc5d1 141.5px,#ffc1cd 170.5px,#ff181a 260.5px,#ff1112 272.5px,#f00 278.5px,#f00 549.5px)"></i><i style="top:264px;height:2px;background:linear-gradient(90deg,#ff4044 0.5px,#ff6b71 28.5px,#ffbbc6 113.5px,#ffc3cf 132.5px,#ffc0cb 168.5px,#ff181a 258.5px,#ff1415 271.5px,#f00 278.5px,#f00 549.5px)"></i><i style="top:266px;height:2px;background:linear-gradient(90deg,#ff4044 0.5px,#ff6c73 30.5px,#ffb6c1 109.5px,#ffc2ce 133.5px,#ffbeca 166.5px,#ff181a 257.5px,#ff1415 271.5px,#f00 278.5px,#f00 549.5px)"></i><i style="top:268px;height:2px;background:linear-gradient(90deg,#ff4044 0.5px,#ff6e75 32.5px,#ffbac6 117.5px,#ffc0cc 141.5px,#ffbcc7 165.5px,#ff191a 255.5px,#ff1415 271.5px,#f00 278.5px,#f00 549.5px)"></i><i style="top:270px;height:2px;background:linear-gradient(90deg,#ff3f43 0.5px,#ff696f 28.5px,#ffb1bc 107.5px,#ffbfcb 133.5px,#ffbbc6 163.5px,#ff181a 254.5px,#ff1415 271.5px,#f00 278.5px,#f00 549.5px)"></i><i style="top:272px;height:2px;background:linear-gradient(90deg,#ff3f43 0.5px,#ff6a71 30.5px,#ffb5c0 114.5px,#ffbdc9 137.5px,#ffb8c4 162.5px,#ff1819 253.5px,#ff1415 271.5px,#f00 278.5px,#f00 549.5px)"></i><i style="top:274px;height:2px;background:linear-gradient(90deg,#ff3f43 0.5px,#ff6b71 31.5px,#ffb4bf 115.5px,#ffbcc7 137.5px,#ffb7c2 160.5px,#ff181a 251.5px,#ff1415 271.5px,#f00 278.5px,#f00 549.5px)"></i><i style="top:276px;height:2px;background:linear-gradient(90deg,#ff3f42 0.5px,#ff696f 30.5px,#ffafba 111.5px,#ffbac6 136.5px,#ffb5c0 159.5px,#ff1819 250.5px,#ff1415 271.5px,#f00 278.5px,#f00 549.5px)"></i><i style="top:278px;height:2px;background:linear-gradient(90deg,#ff3e42 0.5px,#ff6970 31.5px,#ffb0ba 114.5px,#ffb9c4 135.5px,#ffb4bf 157.5px,#ff181a 248.5px,#ff1415 271.5px,#f00 278.5px,#f00 549.5px)"></i><i style="top:280px;height:2px;background:linear-gradient(90deg,#ff3e42 0.5px,#ff6a70 32.5px,#ffb0bb 116.5px,#ffb8c3 140.5px,#ffb3be 156.5px,#ff1819 247.5px,#ff1415 271.5px,#f00 278.5px,#f00 549.5px)"></i><i style="top:282px;height:2px;background:linear-gradient(90deg,#ff3e41 0.5px,#ff676d 30.5px,#ffabb6 111.5px,#ffb7c2 136.5px,#ffb2bd 155.5px,#ff1719 246.5px,#ff1415 271.5px,#f00 278.5px,#f00 549.5px)"></i><i style="top:284px;height:2px;background:linear-gradient(90deg,#ff3d41 0.5px,#ff666d 30.5px,#ffacb6 113.5px,#ffb6c1 136.5px,#ffb2bd 154.5px,#ff1719 245.5px,#ff1415 271.5px,#f00 278.5px,#f00 549.5px)"></i><i style="top:286px;height:2px;background:linear-gradient(90deg,#ff3d41 0.5px,#ff676d 31.5px,#ffabb6 113.5px,#ffb5c0 138.5px,#ffb1bb 154.5px,#ff1718 244.5px,#ff1315 271.5px,#f00 278.5px,#f00 549.5px)"></i><i style="top:288px;height:2px;background:linear-gradient(90deg,#ff3c40 0.5px,#ff6369 28.5px,#ffa2ac 101.5px,#ffb4bf 133.5px,#ffb1bc 153.5px,#ff1718 243.5px,#ff1314 271.5px,#f00 278.5px,#f00 549.5px)"></i><i style="top:290px;height:2px;background:linear-gradient(90deg,#ff3c40 0.5px,#ff656b 30.5px,#ffa8b3 111.5px,#ffb4bf 136.5px,#ffaeb9 154.5px,#ff1617 243.5px,#ff1314 271.5px,#f00 278.5px,#f00 549.5px)"></i><i style="top:292px;height:2px;background:linear-gradient(90deg,#ff3c3f 0.5px,#ff6167 27.5px,#ffa3ad 104.5px,#ffb3be 135.5px,#ffafb9 153.5px,#ff1617 242.5px,#ff1314 271.5px,#f00 278.5px,#f00 549.5px)"></i><i style="top:294px;height:2px;background:linear-gradient(90deg,#ff3b3f 0.5px,#ff646a 30.5px,#ffa8b3 113.5px,#ffb2bd 136.5px,#ffadb8 153.5px,#ff1617 241.5px,#ff1213 271.5px,#f00 278.5px,#f00 549.5px)"></i><i style="top:296px;height:2px;background:linear-gradient(90deg,#ff3b3f 0.5px,#ff666c 32.5px,#ffaeb9 122.5px,#ffafba 151.5px,#ff1517 240.5px,#ff1213 271.5px,#f00 278.5px,#f00 549.5px)"></i><i style="top:298px;height:2px;background:linear-gradient(90deg,#ff3b3e 0.5px,#ff6167 28.5px,#ffa4ae 108.5px,#ffb1bc 136.5px,#ffadb7 152.5px,#ff1516 239.5px,#ff1213 271.5px,#f00 278.5px,#f00 549.5px)"></i><i style="top:300px;height:2px;background:linear-gradient(90deg,#ff3a3e 0.5px,#ff646a 31.5px,#ffabb6 120.5px,#ffb0ba 148.5px,#ff1516 238.5px,#ff1213 271.5px,#f00 278.5px,#f00 549.5px)"></i><i style="top:302px;height:2px;background:linear-gradient(90deg,#ff3a3e 0.5px,#ff6369 31.5px,#ffa6b1 114.5px,#ffb0ba 137.5px,#ffacb6 151.5px,#ff1415 238.5px,#ff1112 271.5px,#f00 278.5px,#f00 549.5px)"></i><i style="top:304px;height:2px;background:linear-gradient(90deg,#ff3a3d 0.5px,#ff6369 31.5px,#ffa9b4 119.5px,#ffafb9 146.5px,#ff959e 163.5px,#ff1415 237.5px,#ff1112 271.5px,#f00 278.5px,#f00 549.5px)"></i><i style="top:306px;height:2px;background:linear-gradient(90deg,#ff393d 0.5px,#ff6167 30.5px,#ffa4af 113.5px,#ffaeb9 136.5px,#ffa9b4 151.5px,#ff1415 235.5px,#ff1011 271.5px,#f00 278.5px,#f00 549.5px)"></i><i style="top:308px;height:2px;background:linear-gradient(90deg,#ff393c 0.5px,#ff6167 30.5px,#ffa7b1 117.5px,#ffaeb8 142.5px,#ffa7b1 152.5px,#ff6167 189.5px,#ff3639 212.5px,#ff1213 237.5px,#ff0d0e 272.5px,#f00 279.5px,#f00 549.5px)"></i><i style="top:310px;height:2px;background:linear-gradient(90deg,#ff393c 0.5px,#ff6167 31.5px,#ffa5af 115.5px,#ffadb7 139.5px,#ffa7b1 152.5px,#ff646a 187.5px,#ff494d 193.5px,#ff1011 237.5px,#ff0a0b 272.5px,#f00 280.5px,#f00 549.5px)"></i><i style="top:312px;height:2px;background:linear-gradient(90deg,#ff383c 0.5px,#ff6268 32.5px,#ffa9b4 123.5px,#ffa8b3 151.5px,#ff676d 186.5px,#ff3639 193.5px,#ff090a 243.5px,#ff0506 273.5px,#f00 285.5px,#f00 549.5px)"></i><i style="top:314px;height:2px;background:linear-gradient(90deg,#ff383b 0.5px,#ff5f65 30.5px,#ffa2ac 113.5px,#ffacb6 138.5px,#ffa5b0 154.5px,#ff666d 186.5px,#ff4a4e 189.5px,#ff282b 192.5px,#ff1e20 196.5px,#ff0808 238.5px,#f00 316.5px,#f00 549.5px)"></i><i style="top:316px;height:2px;background:linear-gradient(90deg,#ff383b 0.5px,#ff6268 33.5px,#ffa7b1 121.5px,#ffa7b1 154.5px,#ff6c72 185.5px,#ff5459 188.5px,#ff1d1f 192.5px,#ff1314 195.5px,#ff0708 237.5px,#ff0202 249.5px,#f00 549.5px)"></i><i style="top:318px;height:2px;background:linear-gradient(90deg,#ff373b 0.5px,#ff5f65 31.5px,#ffa0aa 112.5px,#ffaab5 137.5px,#ffa5af 157.5px,#ff6d73 185.5px,#ff6066 187.5px,#ff2325 191.5px,#ff1213 193.5px,#ff0d0d 208.5px,#ff0809 236.5px,#f00 246.5px,#f00 549.5px)"></i><i style="top:320px;height:2px;background:linear-gradient(90deg,#ff373a 0.5px,#ff5f65 31.5px,#ffa6b0 121.5px,#ffa6b0 157.5px,#ff6d74 185.5px,#ff5459 188.5px,#ff2224 191.5px,#ff1011 193.5px,#ff0c0c 213.5px,#ff0808 236.5px,#f00 246.5px,#f00 549.5px)"></i><i style="top:322px;height:2px;background:linear-gradient(90deg,#ff373a 0.5px,#ff6166 33.5px,#ffa5af 120.5px,#ffa9b4 152.5px,#ff949d 166.5px,#ff6d74 185.5px,#ff6066 187.5px,#ff1718 192.5px,#ff0c0d 195.5px,#ff0808 236.5px,#f00 246.5px,#f00 549.5px)"></i><i style="top:324px;height:2px;background:linear-gradient(90deg,#ff363a 0.5px,#ff6066 33.5px,#ffa6b1 123.5px,#ffa7b1 155.5px,#ff6c73 185.5px,#ff5358 188.5px,#ff2123 191.5px,#ff1011 193.5px,#ff0b0c 203.5px,#ff0808 236.5px,#f00 246.5px,#f00 549.5px)"></i><i style="top:326px;height:2px;background:linear-gradient(90deg,#ff3639 0.5px,#ff5d62 30.5px,#ffa1ab 115.5px,#ffaab4 138.5px,#ffa5af 155.5px,#ff6b71 185.5px,#ff5e64 187.5px,#ff1517 192.5px,#ff0a0b 196.5px,#ff0708 236.5px,#f00 246.5px,#f00 549.5px)"></i><i style="top:328px;height:2px;background:linear-gradient(90deg,#ff3639 0.5px,#ff5f65 33.5px,#ffa7b1 124.5px,#ffa7b1 152.5px,#ff6a70 185.5px,#ff5d62 187.5px,#ff1415 192.5px,#ff090a 195.5px,#ff0505 237.5px,#f00 257.5px,#f00 549.5px)"></i><i style="top:330px;height:2px;background:linear-gradient(90deg,#ff3539 0.5px,#ff6268 36.5px,#ffaab4 129.5px,#ffa6b0 151.5px,#ff686e 185.5px,#ff5b61 187.5px,#ff1112 192.5px,#ff0607 195.5px,#ff0202 238.5px,#f00 549.5px)"></i><i style="top:332px;height:2px;background:linear-gradient(90deg,#ff3538 0.5px,#ff5f64 33.5px,#ffa7b1 124.5px,#ffa7b1 149.5px,#ff676d 185.5px,#ff5a5f 187.5px,#ff0e0f 192.5px,#ff0303 196.5px,#f00 549.5px)"></i><i style="top:334px;height:2px;background:linear-gradient(90deg,#ff3538 0.5px,#ff6066 35.5px,#ffaab4 129.5px,#ffa6b0 148.5px,#ff656c 185.5px,#ff585e 187.5px,#ff0d0d 192.5px,#ff0101 196.5px,#f00 549.5px)"></i><i style="top:336px;height:2px;background:linear-gradient(90deg,#ff3538 0.5px,#ff6369 38.5px,#ffabb5 132.5px,#ffa6b0 147.5px,#ff646a 185.5px,#ff575d 187.5px,#ff0c0d 192.5px,#ff0101 195.5px,#f00 549.5px)"></i><i style="top:338px;height:2px;background:linear-gradient(90deg,#ff3438 0.5px,#ff6167 37.5px,#ffabb5 131.5px,#ffa4ae 147.5px,#ff6369 185.5px,#ff4a4e 188.5px,#ff1718 191.5px,#ff0505 193.5px,#f00 208.5px,#f00 549.5px)"></i><i style="top:340px;height:2px;background:linear-gradient(90deg,#ff3437 0.5px,#ff6167 37.5px,#ffabb6 133.5px,#ffa3ad 146.5px,#ff6268 185.5px,#ff555b 187.5px,#ff0b0c 192.5px,#f00 196.5px,#f00 549.5px)"></i><i style="top:342px;height:2px;background:linear-gradient(90deg,#ff3437 0.5px,#ff6066 37.5px,#ffaab5 131.5px,#ffa4ae 144.5px,#ff6167 185.5px,#ff545a 187.5px,#ff0b0c 192.5px,#f00 196.5px,#f00 549.5px)"></i><i style="top:344px;height:2px;background:linear-gradient(90deg,#ff3437 0.5px,#ff656b 42.5px,#ffabb5 134.5px,#ff959e 152.5px,#ff6066 185.5px,#ff5459 187.5px,#ff0b0c 192.5px,#f00 196.5px,#f00 549.5px)"></i><i style="top:346px;height:2px;background:linear-gradient(90deg,#ff3337 0.5px,#ff6166 38.5px,#ffaab4 131.5px,#ffa1aa 143.5px,#ff5f65 185.5px,#ff5358 187.5px,#ff1617 191.5px,#ff0505 193.5px,#f00 203.5px,#f00 549.5px)"></i><i style="top:348px;height:2px;background:linear-gradient(90deg,#ff3336 0.5px,#ff6268 40.5px,#ffa9b3 132.5px,#ff949d 150.5px,#ff5e64 185.5px,#ff5257 187.5px,#ff0b0c 192.5px,#f00 196.5px,#f00 549.5px)"></i><i style="top:350px;height:2px;background:linear-gradient(90deg,#ff3336 0.5px,#ff636a 42.5px,#ffa8b2 132.5px,#ff5d63 185.5px,#ff464a 188.5px,#ff1617 191.5px,#ff0505 193.5px,#f00 203.5px,#f00 549.5px)"></i><i style="top:352px;height:2px;background:linear-gradient(90deg,#ff3336 0.5px,#ff6167 40.5px,#ffa7b1 130.5px,#ff8088 161.5px,#ff5d62 185.5px,#ff5156 187.5px,#ff0b0b 192.5px,#f00 196.5px,#f00 549.5px)"></i><i style="top:354px;height:2px;background:linear-gradient(90deg,#ff3235 0.5px,#ff6167 40.5px,#ffa5af 129.5px,#ff9099 148.5px,#ff5c61 185.5px,#ff4449 188.5px,#ff1517 191.5px,#ff0405 193.5px,#f00 203.5px,#f00 549.5px)"></i><i style="top:356px;height:2px;background:linear-gradient(90deg,#ff3235 0.5px,#ff5f64 38.5px,#ffa4ae 128.5px,#ff8b94 150.5px,#ff5b61 185.5px,#ff4448 188.5px,#ff1517 191.5px,#ff0405 193.5px,#f00 203.5px,#f00 549.5px)"></i><i style="top:358px;height:2px;background:linear-gradient(90deg,#ff3235 0.5px,#ff6268 42.5px,#ffa3ad 129.5px,#ff5a60 185.5px,#ff4f53 187.5px,#ff0b0b 192.5px,#f00 195.5px,#f00 549.5px)"></i><i style="top:360px;height:2px;background:linear-gradient(90deg,#ff3235 0.5px,#ff6267 42.5px,#ffa2ac 127.5px,#ff595f 185.5px,#ff4347 188.5px,#ff0a0b 192.5px,#f00 196.5px,#f00 549.5px)"></i><i style="top:362px;height:2px;background:linear-gradient(90deg,#ff3134 0.5px,#ff5d63 38.5px,#ffa1aa 125.5px,#ff828a 153.5px,#ff555a 186.5px,#ff3336 189.5px,#ff0a0b 192.5px,#f00 196.5px,#f00 549.5px)"></i><i style="top:364px;height:2px;background:linear-gradient(90deg,#ff3134 0.5px,#ff6167 42.5px,#ff9fa9 126.5px,#ff585d 185.5px,#ff4246 188.5px,#ff0a0b 192.5px,#f00 196.5px,#f00 549.5px)"></i><i style="top:366px;height:2px;background:linear-gradient(90deg,#ff3134 0.5px,#ff6066 42.5px,#ff9ea8 125.5px,#ff575c 185.5px,#ff4c51 187.5px,#ff0a0b 192.5px,#f00 196.5px,#f00 549.5px)"></i><i style="top:368px;height:2px;background:linear-gradient(90deg,#ff3033 0.5px,#ff5c62 38.5px,#ff9da6 123.5px,#ff565c 185.5px,#ff4044 188.5px,#ff1415 191.5px,#ff0404 193.5px,#f00 549.5px)"></i><i style="top:370px;height:2px;background:linear-gradient(90deg,#ff3033 0.5px,#ff5d63 39.5px,#ff9ca5 122.5px,#ff555b 185.5px,#ff4044 188.5px,#ff1415 191.5px,#ff0404 193.5px,#f00 549.5px)"></i><i style="top:372px;height:2px;background:linear-gradient(90deg,#ff3033 0.5px,#ff5f65 42.5px,#ff9aa4 122.5px,#ff555a 185.5px,#ff4a4f 187.5px,#ff0a0b 192.5px,#f00 195.5px,#f00 549.5px)"></i><i style="top:374px;height:2px;background:linear-gradient(90deg,#ff3033 0.5px,#ff5f65 42.5px,#ff99a2 121.5px,#ff5459 185.5px,#ff3f43 188.5px,#ff0a0b 192.5px,#f00 195.5px,#f00 549.5px)"></i><i style="top:376px;height:2px;background:linear-gradient(90deg,#ff2f32 0.5px,#ff5a5f 37.5px,#ff98a1 119.5px,#ff5358 185.5px,#ff3e42 188.5px,#ff0a0a 192.5px,#f00 196.5px,#f00 549.5px)"></i><i style="top:378px;height:2px;background:linear-gradient(90deg,#ff2f32 0.5px,#ff5e64 42.5px,#ff97a0 119.5px,#ff5257 185.5px,#ff3e42 188.5px,#ff0a0a 192.5px,#f00 196.5px,#f00 549.5px)"></i><i style="top:380px;height:2px;background:linear-gradient(90deg,#ff2f32 0.5px,#ff5e63 42.5px,#ff969f 118.5px,#ff5257 185.5px,#ff3d41 188.5px,#ff0a0a 192.5px,#f00 196.5px,#f00 549.5px)"></i><i style="top:382px;height:2px;background:linear-gradient(90deg,#ff2f31 0.5px,#ff5b61 40.5px,#ff959e 117.5px,#ff5156 185.5px,#ff3d40 188.5px,#ff0a0a 192.5px,#f00 196.5px,#f00 549.5px)"></i><i style="top:384px;height:2px;background:linear-gradient(90deg,#ff2e31 0.5px,#ff5a60 39.5px,#ff949d 116.5px,#ff5055 185.5px,#ff3c40 188.5px,#ff090a 192.5px,#f00 196.5px,#f00 549.5px)"></i><i style="top:386px;height:2px;background:linear-gradient(90deg,#ff2e31 0.5px,#ff6066 46.5px,#ff939c 115.5px,#ff4f54 185.5px,#ff3b3f 188.5px,#ff090a 192.5px,#f00 196.5px,#f00 549.5px)"></i><i style="top:388px;height:2px;background:linear-gradient(90deg,#ff2e30 0.5px,#ff5c62 42.5px,#ff929b 114.5px,#ff4e53 185.5px,#ff3b3e 188.5px,#ff090a 192.5px,#f00 196.5px,#f00 549.5px)"></i><i style="top:390px;height:2px;background:linear-gradient(90deg,#ff2d30 0.5px,#ff5d63 44.5px,#ff919a 114.5px,#ff4d52 185.5px,#ff3a3e 188.5px,#ff090a 192.5px,#f00 196.5px,#f00 549.5px)"></i><i style="top:392px;height:2px;background:linear-gradient(90deg,#ff2d30 0.5px,#ff5f64 46.5px,#ff9099 113.5px,#ff4d51 185.5px,#ff393d 188.5px,#ff090a 192.5px,#f00 196.5px,#f00 549.5px)"></i><i style="top:394px;height:2px;background:linear-gradient(90deg,#ff2d2f 0.5px,#ff5b60 42.5px,#ff8f98 112.5px,#ff4c50 185.5px,#ff393c 188.5px,#ff090a 192.5px,#f00 196.5px,#f00 549.5px)"></i><i style="top:396px;height:2px;background:linear-gradient(90deg,#ff2c2f 0.5px,#ff6066 48.5px,#ff8e97 111.5px,#ff484c 186.5px,#ff2c2e 189.5px,#ff0909 192.5px,#f00 196.5px,#f00 549.5px)"></i><i style="top:398px;height:2px;background:linear-gradient(90deg,#ff2c2f 0.5px,#ff6268 51.5px,#ff8d96 110.5px,#ff4a4f 185.5px,#ff383b 188.5px,#ff0909 192.5px,#f00 196.5px,#f00 549.5px)"></i><i style="top:400px;height:2px;background:linear-gradient(90deg,#ff2c2e 0.5px,#ff5d63 46.5px,#ff8c95 109.5px,#ff494e 185.5px,#ff373a 188.5px,#ff0909 192.5px,#f00 196.5px,#f00 549.5px)"></i><i style="top:402px;height:2px;background:linear-gradient(90deg,#ff2b2e 0.5px,#ff5f64 48.5px,#ff8c94 108.5px,#ff454a 186.5px,#ff2a2d 189.5px,#ff0909 192.5px,#f00 196.5px,#f00 549.5px)"></i><i style="top:404px;height:2px;background:linear-gradient(90deg,#ff2b2e 0.5px,#ff6369 53.5px,#ff8b93 107.5px,#ff4549 186.5px,#ff2a2c 189.5px,#ff0809 192.5px,#f00 196.5px,#f00 549.5px)"></i><i style="top:406px;height:2px;background:linear-gradient(90deg,#ff2b2d 0.5px,#ff5f65 49.5px,#ff8a92 106.5px,#ff4448 186.5px,#ff292c 189.5px,#ff0809 192.5px,#f00 196.5px,#f00 549.5px)"></i><i style="top:408px;height:2px;background:linear-gradient(90deg,#ff2a2d 0.5px,#ff6066 51.5px,#ff8991 105.5px,#ff4347 186.5px,#ff292b 189.5px,#ff0809 192.5px,#f00 196.5px,#f00 549.5px)"></i><i style="top:410px;height:2px;background:linear-gradient(90deg,#ff2a2d 0.5px,#ff6268 53.5px,#ff8890 105.5px,#ff4246 186.5px,#ff282b 189.5px,#ff0809 192.5px,#f00 196.5px,#f00 549.5px)"></i><i style="top:412px;height:2px;background:linear-gradient(90deg,#ff2a2c 0.5px,#ff5e64 49.5px,#ff8790 104.5px,#ff4145 186.5px,#ff282a 189.5px,#ff0809 192.5px,#f00 196.5px,#f00 549.5px)"></i><i style="top:414px;height:2px;background:linear-gradient(90deg,#ff292c 0.5px,#ff5f65 51.5px,#ff878f 103.5px,#ff4044 186.5px,#ff2729 189.5px,#ff0808 192.5px,#f00 197.5px,#f00 549.5px)"></i><i style="top:416px;height:2px;background:linear-gradient(90deg,#ff292c 0.5px,#ff6268 54.5px,#ff868e 103.5px,#ff3e42 186.5px,#ff2628 189.5px,#ff0808 192.5px,#f00 197.5px,#f00 549.5px)"></i><i style="top:418px;height:2px;background:linear-gradient(90deg,#ff292b 0.5px,#ff5f65 51.5px,#ff858d 102.5px,#ff3d40 186.5px,#ff2527 189.5px,#ff0708 192.5px,#f00 197.5px,#f00 549.5px)"></i><i style="top:420px;height:2px;background:linear-gradient(90deg,#ff292b 0.5px,#ff6167 54.5px,#ff858d 101.5px,#ff3b3f 186.5px,#ff2426 189.5px,#ff0708 192.5px,#f00 197.5px,#f00 549.5px)"></i><i style="top:422px;height:2px;background:linear-gradient(90deg,#ff282b 0.5px,#ff6167 54.5px,#ff848c 101.5px,#ff393d 186.5px,#ff2325 189.5px,#ff0707 192.5px,#f00 199.5px,#f00 549.5px)"></i><i style="top:424px;height:2px;background:linear-gradient(90deg,#ff282b 0.5px,#ff6267 55.5px,#ff838b 100.5px,#ff383b 186.5px,#ff2224 189.5px,#ff0707 192.5px,#f00 199.5px,#f00 549.5px)"></i><i style="top:426px;height:2px;background:linear-gradient(90deg,#ff282a 0.5px,#ff5e64 51.5px,#ff838b 99.5px,#ff3639 186.5px,#ff1618 190.5px,#ff0303 193.5px,#f00 549.5px)"></i><i style="top:428px;height:2px;background:linear-gradient(90deg,#ff282a 0.5px,#ff6066 54.5px,#ff828a 99.5px,#ff3437 186.5px,#ff1517 190.5px,#ff0303 193.5px,#f00 549.5px)"></i><i style="top:430px;height:2px;background:linear-gradient(90deg,#ff272a 0.5px,#ff6066 54.5px,#ff8189 99.5px,#ff3235 186.5px,#ff1516 190.5px,#ff0303 193.5px,#f00 549.5px)"></i><i style="top:432px;height:2px;background:linear-gradient(90deg,#ff2729 0.5px,#ff5d63 51.5px,#ff8188 98.5px,#ff3033 186.5px,#ff1415 190.5px,#ff0203 193.5px,#f00 549.5px)"></i><i style="top:434px;height:2px;background:linear-gradient(90deg,#ff2729 0.5px,#ff5d63 51.5px,#ff8088 97.5px,#ff2e31 186.5px,#ff0202 193.5px,#f00 549.5px)"></i><i style="top:436px;height:2px;background:linear-gradient(90deg,#ff2629 0.5px,#ff5d62 51.5px,#ff7f87 97.5px,#ff2c2f 186.5px,#ff0202 193.5px,#f00 549.5px)"></i><i style="top:438px;height:2px;background:linear-gradient(90deg,#ff2629 0.5px,#ff5f65 54.5px,#ff7f86 96.5px,#ff2a2d 186.5px,#ff0202 193.5px,#f00 549.5px)"></i><i style="top:440px;height:2px;background:linear-gradient(90deg,#ff2628 0.5px,#ff5e64 53.5px,#ff7e86 95.5px,#ff282b 186.5px,#ff0202 193.5px,#f00 549.5px)"></i><i style="top:442px;height:2px;background:linear-gradient(90deg,#ff2628 0.5px,#ff5d62 52.5px,#ff7d85 95.5px,#ff2628 186.5px,#ff0202 193.5px,#f00 549.5px)"></i><i style="top:444px;height:2px;background:linear-gradient(90deg,#ff2528 0.5px,#ff5d62 52.5px,#ff7d84 94.5px,#ff2325 186.5px,#ff0202 193.5px,#f00 549.5px)"></i><i style="top:446px;height:2px;background:linear-gradient(90deg,#ff2527 0.5px,#ff5b61 51.5px,#ff7c84 94.5px,#ff2022 186.5px,#ff0101 193.5px,#f00 549.5px)"></i><i style="top:448px;height:2px;background:linear-gradient(90deg,#ff2527 0.5px,#ff5c62 52.5px,#ff7b83 93.5px,#ff1e20 185.5px,#ff0101 193.5px,#f00 549.5px)"></i><i style="top:450px;height:2px;background:linear-gradient(90deg,#ff2527 0.5px,#ff6369 60.5px,#ff7b82 93.5px,#ff1d1e 184.5px,#ff0101 192.5px,#f00 549.5px)"></i><i style="top:452px;height:2px;background:linear-gradient(90deg,#ff2426 0.5px,#ff5e64 55.5px,#ff7a81 93.5px,#ff1b1c 183.5px,#ff0101 192.5px,#f00 549.5px)"></i><i style="top:454px;height:2px;background:linear-gradient(90deg,#ff2426 0.5px,#ff5f65 57.5px,#ff7981 92.5px,#ff191a 182.5px,#ff0101 191.5px,#f00 549.5px)"></i><i style="top:456px;height:2px;background:linear-gradient(90deg,#ff2426 0.5px,#ff6066 58.5px,#ff7880 92.5px,#ff1718 181.5px,#f00 191.5px,#f00 549.5px)"></i><i style="top:458px;height:2px;background:linear-gradient(90deg,#ff2326 0.5px,#ff656c 65.5px,#ff787f 91.5px,#ff1516 180.5px,#ff0001 190.5px,#f00 549.5px)"></i><i style="top:460px;height:2px;background:linear-gradient(90deg,#ff2325 0.5px,#ff6268 61.5px,#ff777e 91.5px,#ff1314 179.5px,#ff0101 189.5px,#f00 549.5px)"></i><i style="top:462px;height:2px;background:linear-gradient(90deg,#ff2325 0.5px,#ff6268 62.5px,#ff767e 90.5px,#ff1011 178.5px,#f00 189.5px,#f00 549.5px)"></i><i style="top:464px;height:2px;background:linear-gradient(90deg,#ff2225 0.5px,#ff636a 64.5px,#ff757d 90.5px,#ff0c0d 178.5px,#f00 191.5px,#f00 549.5px)"></i><i style="top:466px;height:2px;background:linear-gradient(90deg,#ff2224 0.5px,#ff5f65 59.5px,#ff757c 89.5px,#ff0708 179.5px,#f00 195.5px,#f00 549.5px)"></i><i style="top:468px;height:2px;background:linear-gradient(90deg,#ff2224 0.5px,#ff666d 68.5px,#ff747b 89.5px,#f00 185.5px,#f00 549.5px)"></i><i style="top:470px;height:2px;background:linear-gradient(90deg,#ff2224 0.5px,#ff6c73 75.5px,#ff7279 90.5px,#ff0101 182.5px,#f00 549.5px)"></i><i style="top:472px;height:2px;background:linear-gradient(90deg,#ff2123 0.5px,#ff6066 62.5px,#ff737a 88.5px,#ff0101 179.5px,#f00 549.5px)"></i><i style="top:474px;height:2px;background:linear-gradient(90deg,#ff2123 0.5px,#ff646b 67.5px,#ff7279 87.5px,#ff0101 177.5px,#f00 549.5px)"></i><i style="top:476px;height:2px;background:linear-gradient(90deg,#ff2123 0.5px,#ff6b72 75.5px,#ff7077 88.5px,#ff0202 172.5px,#f00 549.5px)"></i><i style="top:478px;height:2px;background:linear-gradient(90deg,#ff2022 0.5px,#ff666d 70.5px,#ff7077 87.5px,#ff0202 169.5px,#f00 549.5px)"></i><i style="top:480px;height:2px;background:linear-gradient(90deg,#ff2022 0.5px,#ff676e 71.5px,#ff7077 87.5px,#ff0202 166.5px,#f00 549.5px)"></i><i style="top:482px;height:2px;background:linear-gradient(90deg,#ff2022 0.5px,#ff7077 81.5px,#ff6b71 91.5px,#ff0303 161.5px,#f00 549.5px)"></i><i style="top:484px;height:2px;background:linear-gradient(90deg,#ff1f21 0.5px,#ff6a71 74.5px,#ff6f76 88.5px,#ff0303 158.5px,#f00 549.5px)"></i><i style="top:486px;height:2px;background:linear-gradient(90deg,#ff1f21 0.5px,#ff6d74 77.5px,#ff6d74 90.5px,#ff0304 155.5px,#f00 549.5px)"></i><i style="top:488px;height:2px;background:linear-gradient(90deg,#ff1f21 0.5px,#ff6e75 78.5px,#ff6c72 92.5px,#ff0304 152.5px,#f00 549.5px)"></i><i style="top:490px;height:2px;background:linear-gradient(90deg,#ff1f20 0.5px,#ff686f 71.5px,#ff6f76 89.5px,#ff393d 119.5px,#ff0404 149.5px,#f00 549.5px)"></i><i style="top:492px;height:2px;background:linear-gradient(90deg,#ff1e20 0.5px,#ff6c73 75.5px,#ff6c73 93.5px,#ff0505 145.5px,#f00 185.5px,#f00 549.5px)"></i><i style="top:494px;height:2px;background:linear-gradient(90deg,#ff1e20 0.5px,#ff6d74 76.5px,#ff6a71 95.5px,#ff0505 142.5px,#f00 182.5px,#f00 549.5px)"></i><i style="top:496px;height:2px;background:linear-gradient(90deg,#ff1e20 0.5px,#ff6d74 76.5px,#ff6a70 96.5px,#ff0707 138.5px,#f00 159.5px,#f00 549.5px)"></i><i style="top:498px;height:2px;background:linear-gradient(90deg,#ff1d1f 0.5px,#ff6c72 74.5px,#ff6970 97.5px,#ff0707 135.5px,#f00 156.5px,#f00 549.5px)"></i><i style="top:500px;height:2px;background:linear-gradient(90deg,#ff1d1f 0.5px,#ff6c72 74.5px,#ff6a71 97.5px,#ff0808 132.5px,#f00 148.5px,#f00 549.5px)"></i><i style="top:502px;height:2px;background:linear-gradient(90deg,#ff1d1f 0.5px,#ff6b72 73.5px,#ff686f 99.5px,#ff0a0b 128.5px,#f00 140.5px,#f00 549.5px)"></i><i style="top:504px;height:2px;background:linear-gradient(90deg,#ff1d1e 0.5px,#ff6b71 72.5px,#ff686e 100.5px,#ff0b0c 125.5px,#f00 137.5px,#f00 549.5px)"></i><i style="top:506px;height:2px;background:linear-gradient(90deg,#ff1c1e 0.5px,#ff6b71 72.5px,#ff696f 100.5px,#ff555a 106.5px,#ff1011 121.5px,#ff0101 130.5px,#f00 549.5px)"></i><i style="top:508px;height:2px;background:linear-gradient(90deg,#ff1c1e 0.5px,#ff6a71 71.5px,#ff686f 101.5px,#ff5055 107.5px,#ff1314 118.5px,#ff0202 126.5px,#f00 549.5px)"></i><i style="top:510px;height:2px;background:linear-gradient(90deg,#ff1c1d 0.5px,#ff6a70 70.5px,#ff686e 102.5px,#ff5156 107.5px,#ff1718 115.5px,#ff0303 122.5px,#f00 549.5px)"></i><i style="top:512px;height:2px;background:linear-gradient(90deg,#ff1c1d 0.5px,#ff6970 70.5px,#ff676d 103.5px,#ff5156 107.5px,#ff1415 114.5px,#ff0202 120.5px,#f00 549.5px)"></i><i style="top:514px;height:2px;background:linear-gradient(90deg,#ff1b1d 0.5px,#ff696f 69.5px,#ff676e 103.5px,#ff5a60 106.5px,#ff0d0e 114.5px,#ff0101 119.5px,#f00 549.5px)"></i><i style="top:516px;height:2px;background:linear-gradient(90deg,#ff1b1d 0.5px,#ff696f 69.5px,#ff686e 103.5px,#ff5b60 106.5px,#ff1011 113.5px,#ff0101 117.5px,#f00 549.5px)"></i><i style="top:518px;height:2px;background:linear-gradient(90deg,#ff1b1d 0.5px,#ff696f 69.5px,#ff656b 104.5px,#ff5257 107.5px,#ff0f10 113.5px,#ff0202 116.5px,#f00 549.5px)"></i><i style="top:520px;height:2px;background:linear-gradient(90deg,#ff1b1c 0.5px,#ff686f 69.5px,#ff656b 104.5px,#ff5256 107.5px,#ff0e0f 113.5px,#f00 117.5px,#f00 549.5px)"></i><i style="top:522px;height:2px;background:linear-gradient(90deg,#ff1a1c 0.5px,#ff686f 69.5px,#ff656b 104.5px,#ff5156 107.5px,#ff0e0f 113.5px,#f00 117.5px,#f00 549.5px)"></i><i style="top:524px;height:2px;background:linear-gradient(90deg,#ff1a1c 0.5px,#ff686e 69.5px,#ff656b 104.5px,#ff5156 107.5px,#ff0e0f 113.5px,#f00 117.5px,#f00 549.5px)"></i><i style="top:526px;height:2px;background:linear-gradient(90deg,#ff1a1c 0.5px,#ff686e 69.5px,#ff656b 104.5px,#ff5156 107.5px,#ff0e0f 113.5px,#f00 117.5px,#f00 549.5px)"></i><i style="top:528px;height:2px;background:linear-gradient(90deg,#ff1a1b 0.5px,#ff686e 69.5px,#ff646a 104.5px,#ff5156 107.5px,#ff0e0f 113.5px,#f00 117.5px,#f00 549.5px)"></i><i style="top:530px;height:2px;background:linear-gradient(90deg,#ff1a1b 0.5px,#ff676e 69.5px,#ff646a 104.5px,#ff5156 107.5px,#ff0e0f 113.5px,#f00 117.5px,#f00 549.5px)"></i><i style="top:532px;height:2px;background:linear-gradient(90deg,#ff191b 0.5px,#ff676d 68.5px,#ff646a 104.5px,#ff5156 107.5px,#ff0e0f 113.5px,#ff0101 116.5px,#f00 549.5px)"></i><i style="top:534px;height:2px;background:linear-gradient(90deg,#ff191b 0.5px,#ff676d 69.5px,#ff646a 104.5px,#ff5055 107.5px,#ff0e0e 113.5px,#f00 117.5px,#f00 549.5px)"></i><i style="top:536px;height:1px;background:linear-gradient(90deg,#ff191b 0.5px,#ff676d 69.5px,#ff646a 104.5px,#ff5055 107.5px,#ff0e0e 113.5px,#f00 117.5px,#f00 549.5px)"></i></div>
<div class="hm" style="left:1052px;top:19px;width:591px;height:546px"><i style="top:0px;height:2px;background:linear-gradient(90deg,#ff6360 0.5px,#ffbdb6 33.5px,#ffdad2 46.5px,#b7b7ff 47.5px,#00f 146.5px,#0202ff 520.5px,#c6c6ff 559.5px,#ffd4cd 561.5px,#ff2827 590.5px)"></i><i style="top:2px;height:2px;background:linear-gradient(90deg,#ff6360 0.5px,#ffbfb8 34.5px,#ffdad2 46.5px,#b8b8ff 47.5px,#00f 146.5px,#0303ff 519.5px,#c8c8ff 558.5px,#ffd3cb 560.5px,#ff2120 590.5px)"></i><i style="top:4px;height:2px;background:linear-gradient(90deg,#ff635f 0.5px,#ffb9b3 32.5px,#ffd9d2 46.5px,#b8b8ff 47.5px,#00f 146.5px,#0202ff 517.5px,#cacaff 557.5px,#ffd5ce 558.5px,#ff1918 590.5px)"></i><i style="top:6px;height:2px;background:linear-gradient(90deg,#ff635f 0.5px,#ffbeb7 34.5px,#ffd9d1 46.5px,#b7b7ff 48.5px,#00f 147.5px,#0303ff 516.5px,#c7c7ff 555.5px,#ffd3cc 557.5px,#ff100f 590.5px)"></i><i style="top:8px;height:2px;background:linear-gradient(90deg,#ff625f 0.5px,#ffb6b0 31.5px,#ffdad2 47.5px,#b8b8ff 48.5px,#00f 147.5px,#0202ff 514.5px,#c9c9ff 554.5px,#ffd6ce 555.5px,#ff0808 590.5px)"></i><i style="top:10px;height:2px;background:linear-gradient(90deg,#ff625f 0.5px,#ffbab4 33.5px,#ffd9d2 47.5px,#b8b8ff 48.5px,#00f 147.5px,#0303ff 513.5px,#c6c6ff 552.5px,#ffd4cd 554.5px,#ff0505 589.5px,#ff0303 590.5px)"></i><i style="top:12px;height:2px;background:linear-gradient(90deg,#ff625f 0.5px,#ffbcb6 34.5px,#ffd9d2 47.5px,#b9b9ff 48.5px,#00f 148.5px,#0202ff 511.5px,#c8c8ff 551.5px,#ffd2cb 553.5px,#ff0707 587.5px,#ff0101 590.5px)"></i><i style="top:14px;height:2px;background:linear-gradient(90deg,#ff625f 0.5px,#ffb9b3 33.5px,#ffdad3 48.5px,#b7b7ff 49.5px,#00f 148.5px,#0303ff 510.5px,#c5c5ff 549.5px,#ffd5cd 551.5px,#ff0605 586.5px,#f00 590.5px)"></i><i style="top:16px;height:2px;background:linear-gradient(90deg,#ff625e 0.5px,#ffbdb7 35.5px,#ffdad2 48.5px,#b8b8ff 49.5px,#00f 148.5px,#0303ff 508.5px,#c8c8ff 548.5px,#ffd2cb 550.5px,#ff0807 584.5px,#f00 590.5px)"></i><i style="top:18px;height:2px;background:linear-gradient(90deg,#ff615e 0.5px,#ffb6b0 32.5px,#ffd9d2 48.5px,#b8b8ff 49.5px,#00f 149.5px,#0404ff 506.5px,#c8c8ff 546.5px,#ffd1ca 548.5px,#ff0808 582.5px,#f00 590.5px)"></i><i style="top:20px;height:2px;background:linear-gradient(90deg,#ff615e 0.5px,#ffbab4 34.5px,#ffdad3 49.5px,#b7b7ff 50.5px,#00f 149.5px,#0202ff 503.5px,#c5c5ff 543.5px,#ffd3cc 545.5px,#ff0707 580.5px,#f00 589.5px,#f00 590.5px)"></i><i style="top:22px;height:2px;background:linear-gradient(90deg,#ff615e 0.5px,#ffb7b1 33.5px,#ffdad2 49.5px,#b8b8ff 50.5px,#00f 149.5px,#0404ff 501.5px,#c8c8ff 541.5px,#ffd2ca 543.5px,#ff0909 577.5px,#f00 586.5px,#f00 590.5px)"></i><i style="top:24px;height:2px;background:linear-gradient(90deg,#ff615e 0.5px,#ffbbb5 35.5px,#ffd9d2 49.5px,#b8b8ff 50.5px,#00f 149.5px,#0202ff 498.5px,#c5c5ff 538.5px,#e3cee7 539.5px,#e5cfe5 540.5px,#ffd0c9 541.5px,#ff0707 575.5px,#f00 584.5px,#f00 590.5px)"></i><i style="top:26px;height:2px;background:linear-gradient(90deg,#ff615d 0.5px,#ffb8b2 34.5px,#ffd9d2 49.5px,#b7b7ff 51.5px,#00f 150.5px,#0303ff 496.5px,#c6c6ff 536.5px,#ffd3cc 538.5px,#ff0606 573.5px,#f00 585.5px,#f00 590.5px)"></i><i style="top:28px;height:2px;background:linear-gradient(90deg,#ff605d 0.5px,#ffb1ab 31.5px,#ffdad3 50.5px,#b7b7ff 51.5px,#00f 150.5px,#0404ff 494.5px,#c7c7ff 534.5px,#ffd3cc 536.5px,#ff0909 570.5px,#f00 576.5px,#f00 590.5px)"></i><i style="top:30px;height:2px;background:linear-gradient(90deg,#ff605d 0.5px,#ffb5af 33.5px,#ffdad2 50.5px,#b8b8ff 51.5px,#00f 150.5px,#0404ff 492.5px,#c7c7ff 532.5px,#ffd3cb 534.5px,#ff0505 569.5px,#f00 589.5px,#f00 590.5px)"></i><i style="top:32px;height:2px;background:linear-gradient(90deg,#ff605d 0.5px,#ffb7b1 34.5px,#ffd9d2 50.5px,#b9b9ff 51.5px,#00f 151.5px,#0404ff 490.5px,#c7c7ff 530.5px,#ffd2cb 532.5px,#ff0909 566.5px,#f00 572.5px,#f00 590.5px)"></i><i style="top:34px;height:2px;background:linear-gradient(90deg,#ff605d 0.5px,#ffb4ae 33.5px,#ffdad3 51.5px,#b7b7ff 52.5px,#00f 151.5px,#0404ff 488.5px,#c7c7ff 528.5px,#ffd2cb 530.5px,#ff0908 564.5px,#f00 570.5px,#f00 590.5px)"></i><i style="top:36px;height:2px;background:linear-gradient(90deg,#ff605c 0.5px,#ffb6b0 34.5px,#ffdad2 51.5px,#b8b8ff 52.5px,#00f 151.5px,#0202ff 485.5px,#c8c8ff 526.5px,#ffd2cb 528.5px,#ff0908 562.5px,#f00 568.5px,#f00 590.5px)"></i><i style="top:38px;height:2px;background:linear-gradient(90deg,#ff5f5c 0.5px,#ffb3ad 33.5px,#ffd9d2 51.5px,#b8b8ff 52.5px,#00f 152.5px,#0303ff 483.5px,#c9c9ff 524.5px,#ffd1ca 526.5px,#ff0808 560.5px,#f00 568.5px,#f00 590.5px)"></i><i style="top:40px;height:2px;background:linear-gradient(90deg,#ff5f5c 0.5px,#ffb3ad 33.5px,#ffd9d2 51.5px,#b7b7ff 53.5px,#00f 152.5px,#0404ff 481.5px,#c5c5ff 521.5px,#ffd4cc 523.5px,#ff0707 558.5px,#f00 567.5px,#f00 590.5px)"></i><i style="top:42px;height:2px;background:linear-gradient(90deg,#ff5f5c 0.5px,#ffb9b3 36.5px,#ffdad2 52.5px,#b8b8ff 53.5px,#00f 152.5px,#0303ff 478.5px,#9b9bff 510.5px,#c7c7ff 519.5px,#ffd2cb 521.5px,#ff0909 555.5px,#f00 564.5px,#f00 590.5px)"></i><i style="top:44px;height:2px;background:linear-gradient(90deg,#ff5f5c 0.5px,#ffb4ae 34.5px,#ffd9d2 52.5px,#b8b8ff 53.5px,#00f 153.5px,#0404ff 476.5px,#c8c8ff 517.5px,#ffd1ca 519.5px,#ff0808 553.5px,#f00 561.5px,#f00 590.5px)"></i><i style="top:46px;height:2px;background:linear-gradient(90deg,#ff5f5b 0.5px,#ffafa9 32.5px,#ffd9d2 52.5px,#b9b9ff 53.5px,#00f 153.5px,#0404ff 474.5px,#c9c9ff 515.5px,#ffd1c9 517.5px,#ff0707 551.5px,#f00 560.5px,#f00 590.5px)"></i><i style="top:48px;height:2px;background:linear-gradient(90deg,#ff5e5b 0.5px,#ffb1ab 33.5px,#ffdad3 53.5px,#b7b7ff 54.5px,#00f 153.5px,#0404ff 472.5px,#cacaff 513.5px,#ffd0c9 515.5px,#ff0707 549.5px,#f00 558.5px,#f00 590.5px)"></i><i style="top:50px;height:2px;background:linear-gradient(90deg,#ff5e5b 0.5px,#ffb3ad 34.5px,#ffdad2 53.5px,#b8b8ff 54.5px,#00f 154.5px,#0202ff 469.5px,#cacaff 511.5px,#ffd0c9 513.5px,#ff0707 547.5px,#f00 556.5px,#f00 590.5px)"></i><i style="top:52px;height:2px;background:linear-gradient(90deg,#ff5e5b 0.5px,#ffb2ac 34.5px,#ffd9d2 53.5px,#b8b8ff 54.5px,#00f 154.5px,#0202ff 467.5px,#cacaff 509.5px,#ffd0c9 511.5px,#ff0707 545.5px,#f00 554.5px,#f00 590.5px)"></i><i style="top:54px;height:2px;background:linear-gradient(90deg,#ff5e5b 0.5px,#ffb6b0 36.5px,#ffdad3 54.5px,#b7b7ff 55.5px,#00f 154.5px,#0303ff 465.5px,#cacaff 507.5px,#ffd0c9 509.5px,#ff0707 543.5px,#f00 552.5px,#f00 590.5px)"></i><i style="top:56px;height:2px;background:linear-gradient(90deg,#ff5e5b 0.5px,#ffb1ab 34.5px,#ffdad2 54.5px,#b8b8ff 55.5px,#00f 155.5px,#0303ff 463.5px,#c5c5ff 504.5px,#e3cfe7 505.5px,#e6cfe5 506.5px,#ffd0c9 507.5px,#ff0707 541.5px,#f00 550.5px,#f00 590.5px)"></i><i style="top:58px;height:2px;background:linear-gradient(90deg,#ff5e5a 0.5px,#ffafa9 33.5px,#ffd9d2 54.5px,#b8b8ff 55.5px,#00f 155.5px,#0303ff 461.5px,#c5c5ff 502.5px,#ffd4cd 504.5px,#ff0707 539.5px,#f00 548.5px,#f00 590.5px)"></i><i style="top:60px;height:2px;background:linear-gradient(90deg,#ff5d5a 0.5px,#ffaca6 32.5px,#ffd9d2 54.5px,#b7b7ff 56.5px,#00f 155.5px,#0303ff 459.5px,#c5c5ff 500.5px,#ffd4cd 502.5px,#ff0706 537.5px,#f00 546.5px,#f00 590.5px)"></i><i style="top:62px;height:2px;background:linear-gradient(90deg,#ff5d5a 0.5px,#ffb0aa 34.5px,#ffdad3 55.5px,#b7b7ff 56.5px,#00f 156.5px,#0404ff 457.5px,#c5c5ff 498.5px,#ffd4cd 500.5px,#ff0706 535.5px,#f00 544.5px,#f00 590.5px)"></i><i style="top:64px;height:2px;background:linear-gradient(90deg,#ff5d5a 0.5px,#ffaba6 32.5px,#ffdad2 55.5px,#b8b8ff 56.5px,#00f 156.5px,#0404ff 455.5px,#c6c6ff 496.5px,#ffd4cd 498.5px,#ff0606 533.5px,#f00 545.5px,#f00 590.5px)"></i><i style="top:66px;height:2px;background:linear-gradient(90deg,#ff5d5a 0.5px,#ffb1ab 35.5px,#ffd9d2 55.5px,#b9b9ff 56.5px,#00f 156.5px,#0404ff 453.5px,#c6c6ff 494.5px,#ffd4cc 496.5px,#ff0606 531.5px,#f00 543.5px,#f00 590.5px)"></i><i style="top:68px;height:2px;background:linear-gradient(90deg,#ff5d59 0.5px,#ffada7 33.5px,#ffdad3 56.5px,#b7b7ff 57.5px,#00f 157.5px,#0303ff 450.5px,#c7c7ff 492.5px,#ffd2cb 494.5px,#ff0a09 528.5px,#f00 534.5px,#f00 590.5px)"></i><i style="top:70px;height:2px;background:linear-gradient(90deg,#ff5c59 0.5px,#ffaaa4 32.5px,#ffdad2 56.5px,#b8b8ff 57.5px,#00f 157.5px,#0404ff 448.5px,#c9c9ff 490.5px,#ffd1ca 492.5px,#ff0808 526.5px,#f00 534.5px,#f00 590.5px)"></i><i style="top:72px;height:2px;background:linear-gradient(90deg,#ff5c59 0.5px,#ffb0aa 35.5px,#ffd9d2 56.5px,#b8b8ff 57.5px,#00f 157.5px,#0303ff 445.5px,#c6c6ff 487.5px,#ffd3cc 489.5px,#ff0b0a 523.5px,#f00 529.5px,#f00 590.5px)"></i><i style="top:74px;height:2px;background:linear-gradient(90deg,#ff5c59 0.5px,#ffaba6 33.5px,#ffdad3 57.5px,#b7b7ff 58.5px,#00f 158.5px,#0404ff 443.5px,#c8c8ff 485.5px,#ffd2cb 487.5px,#ff0909 521.5px,#f00 530.5px,#f00 590.5px)"></i><i style="top:76px;height:2px;background:linear-gradient(90deg,#ff5c59 0.5px,#ffada7 34.5px,#ffdad3 57.5px,#b8b8ff 58.5px,#00f 158.5px,#0303ff 440.5px,#9696ff 472.5px,#c5c5ff 482.5px,#e3cee7 483.5px,#e5cfe5 484.5px,#ffd0c9 485.5px,#ff0707 519.5px,#f00 528.5px,#f00 590.5px)"></i><i style="top:78px;height:2px;background:linear-gradient(90deg,#ff5c58 0.5px,#ffafa9 35.5px,#ffdad2 57.5px,#b8b8ff 58.5px,#00f 158.5px,#0404ff 438.5px,#c7c7ff 480.5px,#ffd2cb 482.5px,#ff0a09 516.5px,#f00 523.5px,#f00 590.5px)"></i><i style="top:80px;height:2px;background:linear-gradient(90deg,#ff5b58 0.5px,#ffa8a2 32.5px,#ffd9d2 57.5px,#b7b7ff 59.5px,#00f 159.5px,#0303ff 435.5px,#c9c9ff 478.5px,#ffd0c9 480.5px,#ff0808 514.5px,#f00 522.5px,#f00 590.5px)"></i><i style="top:82px;height:2px;background:linear-gradient(90deg,#ff5b58 0.5px,#ffaaa4 33.5px,#ffdad3 58.5px,#b7b7ff 59.5px,#00f 159.5px,#0404ff 433.5px,#c7c7ff 475.5px,#ffd3cc 477.5px,#ff0606 512.5px,#f00 524.5px,#f00 590.5px)"></i><i style="top:84px;height:2px;background:linear-gradient(90deg,#ff5b58 0.5px,#ffa9a4 33.5px,#ffdad2 58.5px,#b8b8ff 59.5px,#00f 159.5px,#0303ff 430.5px,#c9c9ff 473.5px,#ffd1ca 475.5px,#ff0808 509.5px,#f00 517.5px,#f00 590.5px)"></i><i style="top:86px;height:2px;background:linear-gradient(90deg,#ff5b58 0.5px,#ffafa9 36.5px,#ffd9d2 58.5px,#b9b9ff 59.5px,#00f 160.5px,#0404ff 428.5px,#c5c5ff 470.5px,#ffd4cd 472.5px,#ff0707 507.5px,#f00 516.5px,#f00 590.5px)"></i><i style="top:88px;height:2px;background:linear-gradient(90deg,#ff5b58 0.5px,#ffb3ad 38.5px,#ffdad3 59.5px,#b7b7ff 60.5px,#00f 160.5px,#0404ff 426.5px,#c6c6ff 468.5px,#ffd4cd 470.5px,#ff0a0a 504.5px,#f00 511.5px,#f00 590.5px)"></i><i style="top:90px;height:2px;background:linear-gradient(90deg,#ff5a57 0.5px,#ffa8a2 33.5px,#ffdad2 59.5px,#b8b8ff 60.5px,#00f 160.5px,#0202ff 423.5px,#c6c6ff 466.5px,#ffd3cc 468.5px,#ff0606 503.5px,#f00 515.5px,#f00 590.5px)"></i><i style="top:92px;height:2px;background:linear-gradient(90deg,#ff5a57 0.5px,#ffaea8 36.5px,#ffd9d2 59.5px,#b8b8ff 60.5px,#00f 161.5px,#0303ff 421.5px,#c7c7ff 464.5px,#ffd3cc 466.5px,#ff0909 500.5px,#f00 506.5px,#f00 590.5px)"></i><i style="top:94px;height:2px;background:linear-gradient(90deg,#ff5a57 0.5px,#ffa7a2 33.5px,#ffdad3 60.5px,#b7b7ff 61.5px,#00f 161.5px,#0303ff 419.5px,#c8c8ff 462.5px,#ffd2cb 464.5px,#ff0908 498.5px,#f00 504.5px,#f00 590.5px)"></i><i style="top:96px;height:2px;background:linear-gradient(90deg,#ff5a57 0.5px,#ffaba5 35.5px,#ffdad3 60.5px,#b8b8ff 61.5px,#00f 161.5px,#0303ff 416.5px,#4848ff 432.5px,#c5c5ff 459.5px,#e3cee6 460.5px,#e5cee5 461.5px,#ffd0c9 462.5px,#ff0707 496.5px,#f00 505.5px,#f00 590.5px)"></i><i style="top:98px;height:2px;background:linear-gradient(90deg,#ff5a57 0.5px,#ffa8a3 34.5px,#ffdad2 60.5px,#b8b8ff 61.5px,#00f 162.5px,#0404ff 414.5px,#c8c8ff 457.5px,#ffd1ca 459.5px,#ff0908 493.5px,#f00 502.5px,#f00 590.5px)"></i><i style="top:100px;height:2px;background:linear-gradient(90deg,#ff5956 0.5px,#ffa49e 32.5px,#ffd9d2 60.5px,#b7b7ff 62.5px,#00f 162.5px,#0404ff 411.5px,#c6c6ff 454.5px,#ffd2cb 456.5px,#ff3c3a 481.5px,#ff0606 491.5px,#f00 503.5px,#f00 590.5px)"></i><i style="top:102px;height:2px;background:linear-gradient(90deg,#ff5956 0.5px,#ffa8a2 34.5px,#ffdad3 61.5px,#b8b8ff 62.5px,#00f 162.5px,#0303ff 408.5px,#c5c5ff 451.5px,#e3cee6 452.5px,#e5cee5 453.5px,#ffd0c9 454.5px,#ff0a0a 487.5px,#f00 494.5px,#f00 590.5px)"></i><i style="top:104px;height:2px;background:linear-gradient(90deg,#ff5956 0.5px,#ffa7a2 34.5px,#ffdad2 61.5px,#b8b8ff 62.5px,#00f 163.5px,#0303ff 405.5px,#c8c8ff 449.5px,#ffd1ca 451.5px,#ff0b0b 484.5px,#f00 490.5px,#f00 590.5px)"></i><i style="top:106px;height:2px;background:linear-gradient(90deg,#ff5956 0.5px,#ffa9a3 35.5px,#ffd9d2 61.5px,#b7b7ff 63.5px,#00f 163.5px,#0303ff 402.5px,#4747ff 418.5px,#c6c6ff 446.5px,#ffd2cb 448.5px,#ff0c0b 481.5px,#f00 487.5px,#f00 590.5px)"></i><i style="top:108px;height:2px;background:linear-gradient(90deg,#ff5956 0.5px,#ffa59f 33.5px,#ffdad3 62.5px,#b7b7ff 63.5px,#00f 163.5px,#0404ff 400.5px,#c5c5ff 443.5px,#e3cee6 444.5px,#e5cee5 445.5px,#ffd0c8 446.5px,#ff0d0c 478.5px,#f00 484.5px,#f00 590.5px)"></i><i style="top:110px;height:2px;background:linear-gradient(90deg,#ff5956 0.5px,#ffaaa4 36.5px,#ffdad2 62.5px,#b8b8ff 63.5px,#00f 164.5px,#0404ff 397.5px,#c8c8ff 441.5px,#ffd1ca 443.5px,#ff0909 476.5px,#f00 485.5px,#f00 590.5px)"></i><i style="top:112px;height:2px;background:linear-gradient(90deg,#ff5855 0.5px,#ffa29c 32.5px,#ffd9d2 62.5px,#b9b9ff 63.5px,#00f 164.5px,#0303ff 394.5px,#c6c6ff 438.5px,#ffd2cb 440.5px,#ff0a0a 473.5px,#f00 480.5px,#f00 590.5px)"></i><i style="top:114px;height:2px;background:linear-gradient(90deg,#ff5855 0.5px,#ffa39e 33.5px,#ffdad3 63.5px,#b7b7ff 64.5px,#00f 164.5px,#0303ff 391.5px,#c5c5ff 435.5px,#e3cee6 436.5px,#e5cee4 437.5px,#ffcfc8 438.5px,#ff0b0b 470.5px,#f00 476.5px,#f00 590.5px)"></i><i style="top:116px;height:2px;background:linear-gradient(90deg,#ff5855 0.5px,#ffa9a3 36.5px,#ffdad2 63.5px,#b8b8ff 64.5px,#00f 165.5px,#0303ff 388.5px,#5c5cff 409.5px,#c8c8ff 433.5px,#ffd1ca 435.5px,#ff0c0c 467.5px,#f00 473.5px,#f00 590.5px)"></i><i style="top:118px;height:2px;background:linear-gradient(90deg,#ff5855 0.5px,#ffa7a1 35.5px,#ffdad2 63.5px,#b8b8ff 64.5px,#00f 165.5px,#0404ff 386.5px,#c6c6ff 430.5px,#ffd2cb 432.5px,#ff0d0c 464.5px,#f00 470.5px,#f00 590.5px)"></i><i style="top:120px;height:2px;background:linear-gradient(90deg,#ff5855 0.5px,#ffaaa4 37.5px,#ffdad3 64.5px,#b7b7ff 65.5px,#00f 165.5px,#0404ff 383.5px,#c5c5ff 427.5px,#e3cee6 428.5px,#e5cee4 429.5px,#ffcfc8 430.5px,#ff0a09 462.5px,#f00 469.5px,#f00 590.5px)"></i><i style="top:122px;height:2px;background:linear-gradient(90deg,#ff5754 0.5px,#ffa09a 32.5px,#ffdad3 64.5px,#b8b8ff 65.5px,#00f 166.5px,#0303ff 380.5px,#c8c8ff 425.5px,#ffd1ca 427.5px,#ff0a0a 459.5px,#f00 466.5px,#f00 590.5px)"></i><i style="top:124px;height:2px;background:linear-gradient(90deg,#ff5754 0.5px,#ffa09a 32.5px,#ffdad2 64.5px,#b8b8ff 65.5px,#00f 166.5px,#0303ff 377.5px,#c7c7ff 422.5px,#ffd2cb 424.5px,#ff0b0b 456.5px,#f00 462.5px,#f00 590.5px)"></i><i style="top:126px;height:2px;background:linear-gradient(90deg,#ff5754 0.5px,#ffa39e 34.5px,#ffd9d2 64.5px,#b7b7ff 66.5px,#00f 166.5px,#0202ff 374.5px,#c5c5ff 419.5px,#e3cee6 420.5px,#e5cee5 421.5px,#ffcfc8 422.5px,#ff0c0c 453.5px,#f00 459.5px,#f00 590.5px)"></i><i style="top:128px;height:2px;background:linear-gradient(90deg,#ff5754 0.5px,#ffa59f 35.5px,#ffdad3 65.5px,#b8b8ff 66.5px,#00f 166.5px,#0404ff 372.5px,#c7c7ff 417.5px,#ffd2cb 419.5px,#ff0909 451.5px,#f00 460.5px,#f00 590.5px)"></i><i style="top:130px;height:2px;background:linear-gradient(90deg,#ff5653 0.5px,#ff9e99 32.5px,#ffdad2 65.5px,#b8b8ff 66.5px,#00f 167.5px,#0202ff 369.5px,#c9c9ff 415.5px,#ffd0c9 417.5px,#ff0b0b 448.5px,#f00 454.5px,#f00 590.5px)"></i><i style="top:132px;height:2px;background:linear-gradient(90deg,#ff5653 0.5px,#ffa09b 33.5px,#ffd9d2 65.5px,#b7b7ff 67.5px,#00f 167.5px,#0404ff 367.5px,#c6c6ff 412.5px,#e3cee6 413.5px,#e5cee4 414.5px,#ffcfc8 415.5px,#ff0909 446.5px,#f00 455.5px,#f00 590.5px)"></i><i style="top:134px;height:2px;background:linear-gradient(90deg,#ff5653 0.5px,#ffa39e 35.5px,#ffdad3 66.5px,#b7b7ff 67.5px,#00f 167.5px,#0202ff 364.5px,#c7c7ff 410.5px,#ffd2cb 412.5px,#ff0c0b 443.5px,#f00 449.5px,#f00 590.5px)"></i><i style="top:136px;height:2px;background:linear-gradient(90deg,#ff5553 0.5px,#ff9d98 32.5px,#ffdad3 66.5px,#b8b8ff 67.5px,#00f 168.5px,#0303ff 362.5px,#c9c9ff 408.5px,#ffd0c9 410.5px,#ff0a09 441.5px,#f00 447.5px,#f00 590.5px)"></i><i style="top:138px;height:2px;background:linear-gradient(90deg,#ff5552 0.5px,#ff9d97 32.5px,#ffdad2 66.5px,#b8b8ff 67.5px,#00f 168.5px,#0202ff 359.5px,#c6c6ff 405.5px,#ffd3cc 407.5px,#ff0c0c 438.5px,#f00 444.5px,#f00 590.5px)"></i><i style="top:140px;height:2px;background:linear-gradient(90deg,#ff5552 0.5px,#ffa29d 35.5px,#ffdad3 67.5px,#b7b7ff 68.5px,#00f 168.5px,#0303ff 357.5px,#c7c7ff 403.5px,#ffd1ca 405.5px,#ff0a0a 436.5px,#f00 442.5px,#f00 590.5px)"></i><i style="top:142px;height:2px;background:linear-gradient(90deg,#ff5552 0.5px,#ffa6a0 37.5px,#ffdad3 67.5px,#b8b8ff 68.5px,#00f 169.5px,#0202ff 354.5px,#c9c9ff 401.5px,#ffcfc8 403.5px,#ff0c0c 433.5px,#f00 439.5px,#f00 590.5px)"></i><i style="top:144px;height:2px;background:linear-gradient(90deg,#ff5451 0.5px,#ff9c96 32.5px,#ffdad2 67.5px,#b8b8ff 68.5px,#00f 169.5px,#0404ff 352.5px,#c7c7ff 398.5px,#ffd1ca 400.5px,#ff0909 431.5px,#f00 440.5px,#f00 590.5px)"></i><i style="top:146px;height:2px;background:linear-gradient(90deg,#ff5451 0.5px,#ffa19c 35.5px,#ffd9d2 67.5px,#b7b7ff 69.5px,#00f 169.5px,#0404ff 349.5px,#c6c6ff 395.5px,#e3cee6 396.5px,#e5cee4 397.5px,#ffcec7 398.5px,#ff0a0a 428.5px,#f00 435.5px,#f00 590.5px)"></i><i style="top:148px;height:2px;background:linear-gradient(90deg,#ff5451 0.5px,#ffa19b 35.5px,#ffdad3 68.5px,#b7b7ff 69.5px,#00f 170.5px,#0303ff 346.5px,#c9c9ff 393.5px,#ffcfc8 395.5px,#ff0b0b 425.5px,#f00 431.5px,#f00 590.5px)"></i><i style="top:150px;height:2px;background:linear-gradient(90deg,#ff5350 0.5px,#ff9993 31.5px,#ffdad3 68.5px,#b8b8ff 69.5px,#00f 170.5px,#0303ff 343.5px,#c7c7ff 390.5px,#ffd1ca 392.5px,#ff0c0c 422.5px,#f00 428.5px,#f00 590.5px)"></i><i style="top:152px;height:2px;background:linear-gradient(90deg,#ff5350 0.5px,#ff9e99 34.5px,#ffdad2 68.5px,#b9b9ff 69.5px,#00f 170.5px,#0202ff 340.5px,#c6c6ff 387.5px,#e3cee6 388.5px,#e5cee4 389.5px,#ffcec7 390.5px,#ff0d0d 419.5px,#f00 425.5px,#f00 590.5px)"></i><i style="top:154px;height:2px;background:linear-gradient(90deg,#ff5350 0.5px,#ff9e98 34.5px,#ffdad3 69.5px,#b7b7ff 70.5px,#00f 171.5px,#0404ff 338.5px,#c9c9ff 385.5px,#ffcfc8 387.5px,#ff0e0e 416.5px,#f00 422.5px,#f00 590.5px)"></i><i style="top:156px;height:2px;background:linear-gradient(90deg,#ff5250 0.5px,#ff9590 30.5px,#ffdad3 69.5px,#b8b8ff 70.5px,#00f 171.5px,#0303ff 335.5px,#c7c7ff 382.5px,#ffd1ca 384.5px,#ff2f2e 408.5px,#ff0706 415.5px,#f00 424.5px,#f00 590.5px)"></i><i style="top:158px;height:2px;background:linear-gradient(90deg,#ff524f 0.5px,#ff9b96 33.5px,#ffdad2 69.5px,#b8b8ff 70.5px,#00f 171.5px,#0303ff 332.5px,#c5c5ff 379.5px,#e3cee6 380.5px,#e5cee4 381.5px,#ffcfc8 382.5px,#ff0c0b 411.5px,#f00 417.5px,#f00 590.5px)"></i><i style="top:160px;height:2px;background:linear-gradient(90deg,#ff524f 0.5px,#ff9c97 34.5px,#ffd9d2 69.5px,#b7b7ff 71.5px,#00f 172.5px,#0404ff 330.5px,#c7c7ff 377.5px,#ffd1ca 379.5px,#ff0e0d 408.5px,#f00 414.5px,#f00 590.5px)"></i><i style="top:162px;height:2px;background:linear-gradient(90deg,#ff514f 0.5px,#ff948f 30.5px,#ffdad3 70.5px,#b8b8ff 71.5px,#00f 172.5px,#0303ff 327.5px,#c5c5ff 374.5px,#e3cee6 375.5px,#e5cee4 376.5px,#ffcec7 377.5px,#ff0a0a 406.5px,#f00 413.5px,#f00 590.5px)"></i><i style="top:164px;height:2px;background:linear-gradient(90deg,#ff514e 0.5px,#ff9893 32.5px,#ffdad2 70.5px,#b8b8ff 71.5px,#00f 172.5px,#0303ff 324.5px,#c8c8ff 372.5px,#ffd1ca 374.5px,#ff0c0c 403.5px,#f00 409.5px,#f00 590.5px)"></i><i style="top:166px;height:2px;background:linear-gradient(90deg,#ff514e 0.5px,#ff9b96 34.5px,#ffdad2 70.5px,#b9b9ff 71.5px,#00f 172.5px,#0404ff 322.5px,#c6c6ff 369.5px,#e3cee6 370.5px,#e5cee4 371.5px,#ffcec7 372.5px,#ff0e0d 400.5px,#f00 406.5px,#f00 590.5px)"></i><i style="top:168px;height:2px;background:linear-gradient(90deg,#ff514e 0.5px,#ff9f99 36.5px,#ffdad3 71.5px,#b7b7ff 72.5px,#00f 173.5px,#0303ff 319.5px,#c8c8ff 367.5px,#ffd1c9 369.5px,#ff0b0a 398.5px,#f00 404.5px,#f00 590.5px)"></i><i style="top:170px;height:2px;background:linear-gradient(90deg,#ff504e 0.5px,#ff9993 33.5px,#ffdad3 71.5px,#b8b8ff 72.5px,#00f 173.5px,#0404ff 317.5px,#c9c9ff 365.5px,#ffcfc8 367.5px,#ff0d0c 395.5px,#f00 401.5px,#f00 590.5px)"></i><i style="top:172px;height:2px;background:linear-gradient(90deg,#ff504d 0.5px,#ff9a95 34.5px,#ffdad2 71.5px,#b8b8ff 72.5px,#00f 173.5px,#0202ff 314.5px,#c9c9ff 363.5px,#ffcfc8 365.5px,#ff0c0b 393.5px,#f00 399.5px,#f00 590.5px)"></i><i style="top:174px;height:2px;background:linear-gradient(90deg,#ff504d 0.5px,#ff9c96 35.5px,#ffd9d2 71.5px,#b7b7ff 73.5px,#00f 174.5px,#0202ff 312.5px,#c9c9ff 361.5px,#ffd0c9 363.5px,#ff0b0b 391.5px,#f00 397.5px,#f00 590.5px)"></i><i style="top:176px;height:2px;background:linear-gradient(90deg,#ff4f4d 0.5px,#ff9892 33.5px,#ffdad3 72.5px,#b8b8ff 73.5px,#00f 174.5px,#0202ff 310.5px,#c8c8ff 359.5px,#ffd1c9 361.5px,#ff0b0b 389.5px,#f00 395.5px,#f00 590.5px)"></i><i style="top:178px;height:2px;background:linear-gradient(90deg,#ff4f4c 0.5px,#ff9792 33.5px,#ffdad3 72.5px,#b8b8ff 73.5px,#00f 174.5px,#0202ff 308.5px,#c8c8ff 357.5px,#ffd1ca 359.5px,#ff0b0b 387.5px,#f00 393.5px,#f00 590.5px)"></i><i style="top:180px;height:2px;background:linear-gradient(90deg,#ff4f4c 0.5px,#ff9792 33.5px,#ffdad2 72.5px,#b8b8ff 73.5px,#00f 175.5px,#0202ff 306.5px,#c7c7ff 355.5px,#ffd2cb 357.5px,#ff0b0b 385.5px,#f00 391.5px,#f00 590.5px)"></i><i style="top:182px;height:2px;background:linear-gradient(90deg,#ff4e4c 0.5px,#ff9590 32.5px,#ffdad3 73.5px,#b7b7ff 74.5px,#00f 175.5px,#0202ff 304.5px,#c7c7ff 353.5px,#ffd2cb 355.5px,#ff0b0b 383.5px,#f00 388.5px,#f00 590.5px)"></i><i style="top:184px;height:2px;background:linear-gradient(90deg,#ff4e4b 0.5px,#ff908c 30.5px,#ffdad3 73.5px,#b8b8ff 74.5px,#00f 175.5px,#0303ff 302.5px,#c7c7ff 351.5px,#ffd0c9 353.5px,#ff3836 374.5px,#ff0a09 381.5px,#f00 387.5px,#f00 590.5px)"></i><i style="top:186px;height:2px;background:linear-gradient(90deg,#ff4e4b 0.5px,#ff9691 33.5px,#ffdad3 73.5px,#b8b8ff 74.5px,#00f 175.5px,#0303ff 299.5px,#c5c5ff 348.5px,#e3cde6 349.5px,#e5cde4 350.5px,#ffcdc6 351.5px,#ff100f 377.5px,#f00 383.5px,#f00 590.5px)"></i><i style="top:188px;height:2px;background:linear-gradient(90deg,#ff4e4b 0.5px,#ff9994 35.5px,#ffdad2 73.5px,#b9b9ff 74.5px,#00f 176.5px,#0404ff 297.5px,#c8c8ff 346.5px,#ffcfc8 348.5px,#ff1010 374.5px,#ff0101 379.5px,#f00 590.5px)"></i><i style="top:190px;height:2px;background:linear-gradient(90deg,#ff4d4b 0.5px,#ff938e 32.5px,#ffdad3 74.5px,#b7b7ff 75.5px,#00f 176.5px,#0404ff 294.5px,#c7c7ff 343.5px,#ffd1ca 345.5px,#ff1110 371.5px,#ff0101 376.5px,#f00 590.5px)"></i><i style="top:192px;height:2px;background:linear-gradient(90deg,#ff4d4a 0.5px,#ff9590 33.5px,#ffdad3 74.5px,#b8b8ff 75.5px,#00f 176.5px,#0303ff 291.5px,#c9c9ff 341.5px,#ffcdc6 343.5px,#f11 368.5px,#ff0101 373.5px,#f00 590.5px)"></i><i style="top:194px;height:2px;background:linear-gradient(90deg,#ff4d4a 0.5px,#ff9893 35.5px,#ffdad2 74.5px,#b8b8ff 75.5px,#00f 177.5px,#0303ff 288.5px,#c8c8ff 338.5px,#ffcec7 340.5px,#ff5552 356.5px,#ff0c0c 366.5px,#f00 372.5px,#f00 590.5px)"></i><i style="top:196px;height:2px;background:linear-gradient(90deg,#ff4c4a 0.5px,#ff928d 32.5px,#ffdad2 74.5px,#b7b7ff 76.5px,#00f 177.5px,#0303ff 285.5px,#c7c7ff 335.5px,#ffcfc8 337.5px,#ff6d69 350.5px,#f11 362.5px,#ff0101 368.5px,#f00 590.5px)"></i><i style="top:198px;height:2px;background:linear-gradient(90deg,#ff4c49 0.5px,#ff948f 33.5px,#ffdad3 75.5px,#b7b7ff 76.5px,#00f 177.5px,#0303ff 282.5px,#c7c7ff 332.5px,#e3cce4 333.5px,#e5cce2 334.5px,#ffcac3 335.5px,#ff1010 359.5px,#ff0101 364.5px,#f00 590.5px)"></i><i style="top:200px;height:2px;background:linear-gradient(90deg,#ff4c49 0.5px,#ff918d 32.5px,#ffdad3 75.5px,#b8b8ff 76.5px,#00f 177.5px,#0303ff 279.5px,#c6c6ff 329.5px,#e3cce5 330.5px,#e5cce2 331.5px,#ffcbc4 332.5px,#ff0f0f 356.5px,#ff0101 362.5px,#f00 590.5px)"></i><i style="top:202px;height:2px;background:linear-gradient(90deg,#ff4b49 0.5px,#ff8d89 30.5px,#ffdad2 75.5px,#b8b8ff 76.5px,#00f 178.5px,#0303ff 276.5px,#c6c6ff 326.5px,#e3cde5 327.5px,#e5cce3 328.5px,#ffccc5 329.5px,#ff1414 352.5px,#ff0202 357.5px,#f00 590.5px)"></i><i style="top:204px;height:2px;background:linear-gradient(90deg,#ff4b49 0.5px,#ff938e 33.5px,#ffd9d2 75.5px,#b7b7ff 77.5px,#00f 178.5px,#0404ff 274.5px,#c8c8ff 324.5px,#ffcfc8 326.5px,#ff0f0e 350.5px,#ff0101 355.5px,#f00 590.5px)"></i><i style="top:206px;height:2px;background:linear-gradient(90deg,#ff4b48 0.5px,#ff908c 32.5px,#ffdad3 76.5px,#b8b8ff 77.5px,#00f 178.5px,#0202ff 271.5px,#c8c8ff 322.5px,#ffcfc8 324.5px,#ff0c0c 348.5px,#f00 354.5px,#f00 590.5px)"></i><i style="top:208px;height:2px;background:linear-gradient(90deg,#ff4a48 0.5px,#ff8c88 30.5px,#ffdad3 76.5px,#b8b8ff 77.5px,#00f 179.5px,#0303ff 269.5px,#c8c8ff 320.5px,#ffcfc8 322.5px,#ff1010 345.5px,#ff0101 350.5px,#f00 590.5px)"></i><i style="top:210px;height:2px;background:linear-gradient(90deg,#ff4a48 0.5px,#ff928d 33.5px,#ffdad2 76.5px,#b8b8ff 77.5px,#00f 179.5px,#0303ff 267.5px,#c8c8ff 318.5px,#ffcfc8 320.5px,#ff0f0e 343.5px,#f00 348.5px,#f00 590.5px)"></i><i style="top:212px;height:2px;background:linear-gradient(90deg,#ff4a47 0.5px,#ff8f8b 32.5px,#ffdad3 77.5px,#b7b7ff 78.5px,#00f 179.5px,#0303ff 265.5px,#c8c8ff 316.5px,#ffcfc8 318.5px,#ff0e0d 341.5px,#f00 346.5px,#f00 590.5px)"></i><i style="top:214px;height:2px;background:linear-gradient(90deg,#ff4a47 0.5px,#ff9590 35.5px,#ffdad3 77.5px,#b8b8ff 78.5px,#00f 180.5px,#0303ff 263.5px,#c8c8ff 314.5px,#ffcfc8 316.5px,#ff4543 332.5px,#ff0c0c 339.5px,#f00 345.5px,#f00 590.5px)"></i><i style="top:216px;height:2px;background:linear-gradient(90deg,#ff4947 0.5px,#ff918c 33.5px,#ffdad3 77.5px,#b8b8ff 78.5px,#00f 180.5px,#0303ff 261.5px,#c7c7ff 312.5px,#ffd0c9 314.5px,#ff4e4b 329.5px,#ff0b0b 337.5px,#f00 342.5px,#f00 590.5px)"></i><i style="top:218px;height:2px;background:linear-gradient(90deg,#ff4946 0.5px,#ff8d88 31.5px,#ffdad2 77.5px,#b9b9ff 78.5px,#00f 180.5px,#0303ff 259.5px,#cacaff 311.5px,#ffd2cb 312.5px,#ff6966 324.5px,#ff1110 334.5px,#ff0101 338.5px,#f00 590.5px)"></i><i style="top:220px;height:2px;background:linear-gradient(90deg,#ff4946 0.5px,#ff908b 33.5px,#ffdad3 78.5px,#b7b7ff 79.5px,#00f 181.5px,#0202ff 257.5px,#c9c9ff 309.5px,#ffcec7 311.5px,#ff1110 332.5px,#ff0101 336.5px,#f00 590.5px)"></i><i style="top:222px;height:2px;background:linear-gradient(90deg,#ff4846 0.5px,#ff908b 33.5px,#ffdad3 78.5px,#b8b8ff 79.5px,#00f 181.5px,#0404ff 256.5px,#c7c7ff 307.5px,#ffd0c9 309.5px,#f11 330.5px,#ff0101 334.5px,#f00 590.5px)"></i><i style="top:224px;height:2px;background:linear-gradient(90deg,#ff4846 0.5px,#ff8c87 31.5px,#ffdad2 78.5px,#b8b8ff 79.5px,#00f 181.5px,#0404ff 254.5px,#cacaff 306.5px,#ffd1ca 307.5px,#ff7874 317.5px,#ff1211 328.5px,#ff0101 332.5px,#f00 590.5px)"></i><i style="top:226px;height:2px;background:linear-gradient(90deg,#ff4845 0.5px,#ff8985 30.5px,#ffdad2 78.5px,#b7b7ff 80.5px,#00f 181.5px,#0303ff 252.5px,#c9c9ff 304.5px,#ffcdc6 306.5px,#ff0b0b 327.5px,#f00 332.5px,#f00 590.5px)"></i><i style="top:228px;height:2px;background:linear-gradient(90deg,#ff4745 0.5px,#ff8d88 32.5px,#ffdad3 79.5px,#b7b7ff 80.5px,#00f 182.5px,#0303ff 250.5px,#c7c7ff 302.5px,#ffcfc8 304.5px,#ff1312 324.5px,#ff0101 328.5px,#f00 590.5px)"></i><i style="top:230px;height:2px;background:linear-gradient(90deg,#ff4745 0.5px,#ff8b86 31.5px,#ffdad3 79.5px,#b8b8ff 80.5px,#00f 182.5px,#0202ff 248.5px,#cacaff 301.5px,#ffd1ca 302.5px,#ff7470 312.5px,#ff1312 322.5px,#ff0101 326.5px,#f00 590.5px)"></i><i style="top:232px;height:2px;background:linear-gradient(90deg,#ff4744 0.5px,#ff8a86 31.5px,#ffdad2 79.5px,#b8b8ff 80.5px,#00f 182.5px,#0404ff 247.5px,#c9c9ff 299.5px,#ffcdc6 301.5px,#ff1413 320.5px,#ff0202 324.5px,#f00 590.5px)"></i><i style="top:234px;height:2px;background:linear-gradient(90deg,#ff4744 0.5px,#ff8e89 33.5px,#ffdad2 79.5px,#b7b7ff 81.5px,#00f 183.5px,#0303ff 245.5px,#c7c7ff 297.5px,#ffcfc8 299.5px,#ff1414 318.5px,#ff0202 322.5px,#f00 590.5px)"></i><i style="top:236px;height:2px;background:linear-gradient(90deg,#ff4644 0.5px,#ff8a85 31.5px,#ffdad3 80.5px,#b8b8ff 81.5px,#00f 183.5px,#0404ff 244.5px,#cacaff 296.5px,#ffcac3 298.5px,#ff0d0d 317.5px,#f00 322.5px,#f00 590.5px)"></i><i style="top:238px;height:2px;background:linear-gradient(90deg,#ff4644 0.5px,#ff8b86 32.5px,#ffdad3 80.5px,#b8b8ff 81.5px,#00f 183.5px,#0404ff 243.5px,#c8c8ff 294.5px,#ffcdc6 296.5px,#ff0e0e 315.5px,#ff0101 319.5px,#f00 590.5px)"></i><i style="top:240px;height:2px;background:linear-gradient(90deg,#ff4643 0.5px,#ff8d88 33.5px,#ffdad2 80.5px,#b9b9ff 81.5px,#00f 183.5px,#0303ff 242.5px,#cacaff 293.5px,#ffd1ca 294.5px,#ff5653 306.5px,#ff100f 313.5px,#ff0101 317.5px,#f00 590.5px)"></i><i style="top:242px;height:2px;background:linear-gradient(90deg,#ff4543 0.5px,#ff8984 31.5px,#ffdad3 81.5px,#b7b7ff 82.5px,#00f 184.5px,#0303ff 241.5px,#c8c8ff 291.5px,#ffcdc6 293.5px,#ff1211 311.5px,#ff0101 315.5px,#f00 590.5px)"></i><i style="top:244px;height:2px;background:linear-gradient(90deg,#ff4543 0.5px,#ff8682 30.5px,#ffdad3 81.5px,#b8b8ff 82.5px,#00f 184.5px,#0202ff 240.5px,#c9c9ff 290.5px,#ffcac3 292.5px,#ff1413 309.5px,#ff0101 313.5px,#f00 590.5px)"></i><i style="top:246px;height:2px;background:linear-gradient(90deg,#ff4542 0.5px,#ff8681 30.5px,#ffdad3 81.5px,#b8b8ff 82.5px,#00f 184.5px,#0202ff 239.5px,#c7c7ff 288.5px,#ffcec7 290.5px,#ff0e0e 308.5px,#ff0101 312.5px,#f00 590.5px)"></i><i style="top:248px;height:2px;background:linear-gradient(90deg,#ff4442 0.5px,#ff8883 31.5px,#ffdad2 81.5px,#b7b7ff 83.5px,#00f 185.5px,#0404ff 239.5px,#c9c9ff 287.5px,#ffcac3 289.5px,#ff1010 306.5px,#ff0101 310.5px,#f00 590.5px)"></i><i style="top:250px;height:2px;background:linear-gradient(90deg,#ff4442 0.5px,#ff8581 30.5px,#ffdad3 82.5px,#b7b7ff 83.5px,#00f 185.5px,#0404ff 238.5px,#c7c7ff 285.5px,#ffcec7 287.5px,#ff605c 297.5px,#ff1212 304.5px,#ff0101 308.5px,#f00 590.5px)"></i><i style="top:252px;height:2px;background:linear-gradient(90deg,#ff4442 0.5px,#ff8b86 33.5px,#ffdad3 82.5px,#b8b8ff 83.5px,#00f 185.5px,#0303ff 237.5px,#c8c8ff 284.5px,#ffcac4 286.5px,#ff1514 302.5px,#ff0101 306.5px,#f00 590.5px)"></i><i style="top:254px;height:2px;background:linear-gradient(90deg,#ff4441 0.5px,#ff8884 32.5px,#ffdad2 82.5px,#b9b9ff 83.5px,#00f 186.5px,#0303ff 236.5px,#cacaff 283.5px,#ffcfc8 284.5px,#ff6965 293.5px,#ff0f0e 301.5px,#ff0101 305.5px,#f00 590.5px)"></i><i style="top:256px;height:2px;background:linear-gradient(90deg,#ff4341 0.5px,#ff8480 30.5px,#ffdad3 83.5px,#b7b7ff 84.5px,#00f 186.5px,#0303ff 235.5px,#c8c8ff 281.5px,#ffcbc4 283.5px,#f11 299.5px,#ff0101 303.5px,#f00 590.5px)"></i><i style="top:258px;height:2px;background:linear-gradient(90deg,#ff4341 0.5px,#ff8883 32.5px,#ffdad3 83.5px,#b8b8ff 84.5px,#00f 186.5px,#0202ff 234.5px,#c9c9ff 280.5px,#ffcfc8 281.5px,#ff9993 286.5px,#ff1414 297.5px,#ff0303 300.5px,#f00 590.5px)"></i><i style="top:260px;height:2px;background:linear-gradient(90deg,#ff4340 0.5px,#ff8783 32.5px,#ffdad2 83.5px,#b7b7ff 85.5px,#00f 187.5px,#0202ff 233.5px,#c7c7ff 278.5px,#ffccc5 280.5px,#ff1817 295.5px,#ff0404 298.5px,#f00 590.5px)"></i><i style="top:262px;height:2px;background:linear-gradient(90deg,#ff4240 0.5px,#ff837f 30.5px,#ffdad3 84.5px,#b7b7ff 85.5px,#00f 187.5px,#0404ff 233.5px,#c9c9ff 277.5px,#e5cde3 278.5px,#ffc8c1 279.5px,#ff1211 294.5px,#ff0202 297.5px,#f00 590.5px)"></i><i style="top:264px;height:2px;background:linear-gradient(90deg,#ff4240 0.5px,#ff8580 31.5px,#ffdad3 84.5px,#b8b8ff 85.5px,#00f 188.5px,#0404ff 232.5px,#c6c6ff 275.5px,#ffcdc6 277.5px,#ff1514 292.5px,#ff0303 295.5px,#f00 590.5px)"></i><i style="top:266px;height:2px;background:linear-gradient(90deg,#ff423f 0.5px,#ff8480 31.5px,#ffdad2 84.5px,#b7b7ff 86.5px,#00f 188.5px,#0303ff 231.5px,#c8c8ff 274.5px,#e5cde3 275.5px,#ffc9c2 276.5px,#ff1818 290.5px,#ff0404 293.5px,#f00 590.5px)"></i><i style="top:268px;height:2px;background:linear-gradient(90deg,#ff413f 0.5px,#ff827e 30.5px,#ffdad3 85.5px,#b8b8ff 86.5px,#00f 188.5px,#0303ff 230.5px,#cacaff 273.5px,#ffcdc6 274.5px,#ff7773 281.5px,#ff1211 289.5px,#ff0202 292.5px,#f00 590.5px)"></i><i style="top:270px;height:2px;background:linear-gradient(90deg,#ff413f 0.5px,#ff827d 30.5px,#ffdad3 85.5px,#b8b8ff 86.5px,#00f 189.5px,#0202ff 229.5px,#c7c7ff 271.5px,#e5cde4 272.5px,#ffc9c3 273.5px,#ff1515 287.5px,#ff0303 290.5px,#f00 590.5px)"></i><i style="top:272px;height:2px;background:linear-gradient(90deg,#ff413f 0.5px,#ff8782 33.5px,#ffdad2 85.5px,#b7b7ff 87.5px,#00f 189.5px,#0202ff 228.5px,#c9c9ff 270.5px,#ffcec7 271.5px,#ff837f 277.5px,#ff1918 285.5px,#ff0404 288.5px,#f00 590.5px)"></i><i style="top:274px;height:2px;background:linear-gradient(90deg,#ff403e 0.5px,#ff7f7b 29.5px,#ffdad3 86.5px,#b8b8ff 87.5px,#00f 189.5px,#0404ff 228.5px,#c6c6ff 268.5px,#e4cde4 269.5px,#ffcac3 270.5px,#ff524f 279.5px,#ff1312 284.5px,#ff0202 287.5px,#f00 590.5px)"></i><i style="top:276px;height:2px;background:linear-gradient(90deg,#ff403e 0.5px,#ff7f7a 29.5px,#ffdad3 86.5px,#b8b8ff 87.5px,#00f 190.5px,#0404ff 227.5px,#c8c8ff 267.5px,#e5cce2 268.5px,#ffc5be 269.5px,#ff1615 282.5px,#ff0303 285.5px,#f00 590.5px)"></i><i style="top:278px;height:2px;background:linear-gradient(90deg,#ff403e 0.5px,#ff847f 32.5px,#ffdad3 87.5px,#b7b7ff 88.5px,#00f 190.5px,#0303ff 226.5px,#c6c6ff 265.5px,#ffcac3 267.5px,#ff6c68 274.5px,#ff1918 280.5px,#ff0404 283.5px,#f00 590.5px)"></i><i style="top:280px;height:2px;background:linear-gradient(90deg,#ff403d 0.5px,#ff7e7a 29.5px,#ffdad3 87.5px,#b8b8ff 88.5px,#00f 191.5px,#0303ff 225.5px,#c8c8ff 264.5px,#e5cbe2 265.5px,#ffc5be 266.5px,#ff1d1c 278.5px,#ff0505 281.5px,#f00 296.5px,#f00 590.5px)"></i><i style="top:282px;height:2px;background:linear-gradient(90deg,#ff3f3d 0.5px,#ff837e 32.5px,#ffdad2 87.5px,#b7b7ff 89.5px,#00f 191.5px,#0202ff 224.5px,#c5c5ff 262.5px,#e4cce4 263.5px,#ffcac3 264.5px,#ff4a48 273.5px,#ff1514 277.5px,#ff0303 280.5px,#f00 590.5px)"></i><i style="top:284px;height:2px;background:linear-gradient(90deg,#ff3f3d 0.5px,#ff8681 34.5px,#ffdad3 88.5px,#b8b8ff 89.5px,#00f 192.5px,#0303ff 224.5px,#c8c8ff 261.5px,#e5cbe1 262.5px,#ffc4bd 263.5px,#ff1817 275.5px,#ff0303 278.5px,#f00 590.5px)"></i><i style="top:286px;height:2px;background:linear-gradient(90deg,#ff3f3c 0.5px,#ff8884 36.5px,#ffdad2 88.5px,#b7b7ff 90.5px,#00f 192.5px,#0202ff 223.5px,#c5c5ff 259.5px,#e4cce4 260.5px,#ffc9c2 261.5px,#ff7470 267.5px,#ff1b1a 273.5px,#ff0404 276.5px,#f00 590.5px)"></i><i style="top:288px;height:2px;background:linear-gradient(90deg,#ff3e3c 0.5px,#ff817c 32.5px,#ffdad3 89.5px,#b8b8ff 90.5px,#00f 193.5px,#0303ff 223.5px,#c8c8ff 258.5px,#e5cbe1 259.5px,#ffc4bd 260.5px,#ff1f1e 271.5px,#ff0505 274.5px,#f00 289.5px,#f00 590.5px)"></i><i style="top:290px;height:2px;background:linear-gradient(90deg,#ff3e3c 0.5px,#ff8581 35.5px,#ffdad2 89.5px,#b8b8ff 90.5px,#00f 193.5px,#0101ff 222.5px,#cacaff 257.5px,#ffcbc4 258.5px,#ff625f 265.5px,#ff1817 270.5px,#ff0303 273.5px,#f00 590.5px)"></i><i style="top:292px;height:2px;background:linear-gradient(90deg,#ff3e3c 0.5px,#ff8c87 39.5px,#ffdad3 90.5px,#b8b8ff 91.5px,#00f 194.5px,#0202ff 222.5px,#c5c5ff 255.5px,#e4cce4 256.5px,#ffc9c2 257.5px,#ff4d4a 265.5px,#ff1312 269.5px,#ff0202 272.5px,#f00 590.5px)"></i><i style="top:294px;height:2px;background:linear-gradient(90deg,#ff3d3b 0.5px,#ff8480 35.5px,#ffdad3 90.5px,#b8b8ff 91.5px,#00f 194.5px,#0202ff 222.5px,#c5c5ff 254.5px,#e4cce3 255.5px,#ffc7c1 256.5px,#ff1b1a 267.5px,#ff0303 270.5px,#f00 590.5px)"></i><i style="top:296px;height:2px;background:linear-gradient(90deg,#ff3d3b 0.5px,#ff8782 37.5px,#ffdad3 91.5px,#b7b7ff 92.5px,#00f 194.5px,#0202ff 222.5px,#c5c5ff 253.5px,#e4cce3 254.5px,#ffc6bf 255.5px,#ff1716 266.5px,#ff0202 269.5px,#f00 590.5px)"></i><i style="top:298px;height:2px;background:linear-gradient(90deg,#ff3d3b 0.5px,#ff8a85 39.5px,#ffdad3 91.5px,#b8b8ff 92.5px,#00f 195.5px,#0303ff 222.5px,#c6c6ff 252.5px,#e5cce2 253.5px,#ffc5be 254.5px,#ff201f 264.5px,#ff0404 267.5px,#f00 590.5px)"></i><i style="top:300px;height:2px;background:linear-gradient(90deg,#ff3d3a 0.5px,#ff8783 38.5px,#ffdad3 92.5px,#b7b7ff 93.5px,#00f 195.5px,#0303ff 222.5px,#c6c6ff 251.5px,#e5cbe2 252.5px,#ffc3bc 253.5px,#ff1c1b 263.5px,#ff0303 266.5px,#f00 590.5px)"></i><i style="top:302px;height:2px;background:linear-gradient(90deg,#ff3c3a 0.5px,#ff8782 38.5px,#ffdad3 92.5px,#b8b8ff 93.5px,#00f 196.5px,#0404ff 222.5px,#c6c6ff 250.5px,#e5cbe1 251.5px,#ffc1bb 252.5px,#ff1818 262.5px,#ff0202 265.5px,#f00 590.5px)"></i><i style="top:304px;height:2px;background:linear-gradient(90deg,#ff3c3a 0.5px,#ff8d88 42.5px,#ffdad2 92.5px,#b7b7ff 94.5px,#00f 196.5px,#0404ff 222.5px,#c7c7ff 249.5px,#ffccc5 250.5px,#ff8d88 254.5px,#ff2221 260.5px,#ff0b0a 262.5px,#f00 266.5px,#f00 590.5px)"></i><i style="top:306px;height:2px;background:linear-gradient(90deg,#ff3c3a 0.5px,#ff8e89 43.5px,#ffdad3 93.5px,#b8b8ff 94.5px,#00f 197.5px,#0101ff 221.5px,#4747ff 231.5px,#c8c8ff 248.5px,#ffcac3 249.5px,#ff8a85 253.5px,#ff1f1e 259.5px,#ff0403 262.5px,#f00 590.5px)"></i><i style="top:308px;height:2px;background:linear-gradient(90deg,#ff3b39 0.5px,#ff8a85 41.5px,#ffdad2 93.5px,#b7b7ff 95.5px,#00f 197.5px,#0202ff 221.5px,#33f 228.5px,#c8c8ff 247.5px,#ffc9c2 248.5px,#ff7470 253.5px,#ff1c1b 258.5px,#ff0707 260.5px,#f00 267.5px,#f00 590.5px)"></i><i style="top:310px;height:2px;background:linear-gradient(90deg,#ff3b39 0.5px,#ff8b86 42.5px,#ffdad3 94.5px,#b8b8ff 95.5px,#00f 198.5px,#0202ff 221.5px,#4646ff 230.5px,#c9c9ff 246.5px,#ffc7c1 247.5px,#ff847f 251.5px,#ff1918 257.5px,#ff0606 259.5px,#f00 268.5px,#f00 590.5px)"></i><i style="top:312px;height:2px;background:linear-gradient(90deg,#ff3b39 0.5px,#ff8f8a 45.5px,#ffdad2 94.5px,#b7b7ff 96.5px,#00f 199.5px,#0202ff 221.5px,#c1c1ff 244.5px,#e3cbe3 245.5px,#ffc6bf 246.5px,#ff6e6a 251.5px,#ff2423 255.5px,#ff0b0b 257.5px,#f00 261.5px,#f00 590.5px)"></i><i style="top:314px;height:2px;background:linear-gradient(90deg,#ff3a38 0.5px,#ff8681 40.5px,#ffdad3 95.5px,#b8b8ff 96.5px,#00f 199.5px,#0303ff 221.5px,#6969ff 233.5px,#c2c2ff 243.5px,#e4cbe3 244.5px,#ffc4be 245.5px,#ff6b67 250.5px,#ff2120 254.5px,#ff0a09 256.5px,#f00 260.5px,#f00 590.5px)"></i><i style="top:316px;height:2px;background:linear-gradient(90deg,#ff3a38 0.5px,#ff8f8a 46.5px,#ffdad3 96.5px,#b8b8ff 97.5px,#00f 200.5px,#0303ff 221.5px,#c2c2ff 242.5px,#e4cae2 243.5px,#ffc3bc 244.5px,#ff1e1d 253.5px,#ff0808 255.5px,#f00 260.5px,#f00 590.5px)"></i><i style="top:318px;height:2px;background:linear-gradient(90deg,#ff3a38 0.5px,#ff938e 49.5px,#ffdad2 96.5px,#b7b7ff 98.5px,#00f 200.5px,#0404ff 221.5px,#c3c3ff 241.5px,#e4cae1 242.5px,#ffc1bb 243.5px,#ff1b1a 252.5px,#ff0202 255.5px,#f00 590.5px)"></i><i style="top:320px;height:2px;background:linear-gradient(90deg,#ff3a38 0.5px,#ff9792 52.5px,#ffdad3 97.5px,#b8b8ff 98.5px,#00f 201.5px,#0101ff 220.5px,#2121ff 224.5px,#c3c3ff 240.5px,#e5cae1 241.5px,#ffc0b9 242.5px,#ff2827 250.5px,#ff0d0c 252.5px,#ff0101 255.5px,#f00 590.5px)"></i><i style="top:322px;height:2px;background:linear-gradient(90deg,#ff3937 0.5px,#ff908b 48.5px,#ffdad2 97.5px,#b7b7ff 99.5px,#00f 202.5px,#0303ff 220.5px,#3c3cff 226.5px,#c3c3ff 239.5px,#e5cae1 240.5px,#ffbfb8 241.5px,#ff2524 249.5px,#ff0b0b 251.5px,#f00 255.5px,#f00 590.5px)"></i><i style="top:324px;height:2px;background:linear-gradient(90deg,#ff3937 0.5px,#ff948f 51.5px,#ffdad3 98.5px,#b8b8ff 99.5px,#00f 202.5px,#0202ff 219.5px,#2424ff 223.5px,#c4c4ff 238.5px,#e5cae0 239.5px,#ffbdb7 240.5px,#ff2321 248.5px,#ff0a0a 250.5px,#f00 254.5px,#f00 590.5px)"></i><i style="top:326px;height:2px;background:linear-gradient(90deg,#ff3937 0.5px,#ff9893 54.5px,#ffdad3 99.5px,#b8b8ff 100.5px,#00f 203.5px,#0101ff 218.5px,#1616ff 221.5px,#c4c4ff 237.5px,#ffcac3 238.5px,#ff827e 242.5px,#ff201f 247.5px,#ff0808 249.5px,#f00 254.5px,#f00 590.5px)"></i><i style="top:328px;height:2px;background:linear-gradient(90deg,#ff3837 0.5px,#ff948f 52.5px,#ffdad2 99.5px,#b7b7ff 101.5px,#00f 204.5px,#0303ff 218.5px,#3f3fff 224.5px,#c5c5ff 236.5px,#ffc9c2 237.5px,#ff948f 240.5px,#ff1d1c 246.5px,#ff0707 248.5px,#f00 255.5px,#f00 590.5px)"></i><i style="top:330px;height:2px;background:linear-gradient(90deg,#ff3836 0.5px,#ff938e 52.5px,#ffdad3 100.5px,#b8b8ff 101.5px,#00f 204.5px,#0202ff 217.5px,#2626ff 221.5px,#c6c6ff 235.5px,#ffc8c1 236.5px,#ff7d79 240.5px,#ff2b2a 244.5px,#ff0e0e 246.5px,#ff0101 249.5px,#f00 590.5px)"></i><i style="top:332px;height:2px;background:linear-gradient(90deg,#ff3836 0.5px,#ff9a95 57.5px,#ffdad3 101.5px,#b7b7ff 102.5px,#00f 205.5px,#0101ff 216.5px,#1717ff 219.5px,#c6c6ff 234.5px,#ffc7c0 235.5px,#ff7b77 239.5px,#ff1817 244.5px,#ff0505 246.5px,#f00 256.5px,#f00 590.5px)"></i><i style="top:334px;height:2px;background:linear-gradient(90deg,#ff3836 0.5px,#ffa49e 64.5px,#ffdad2 101.5px,#b7b7ff 103.5px,#00f 206.5px,#0303ff 216.5px,#2a2aff 220.5px,#c6c6ff 233.5px,#ffc7c0 234.5px,#ff7975 238.5px,#ff2625 242.5px,#ff0b0b 244.5px,#f00 247.5px,#f00 590.5px)"></i><i style="top:336px;height:2px;background:linear-gradient(90deg,#ff3735 0.5px,#ff9893 57.5px,#ffdad3 102.5px,#b8b8ff 103.5px,#00f 206.5px,#0101ff 215.5px,#1a1aff 218.5px,#c6c6ff 232.5px,#ffc6c0 233.5px,#ff7874 237.5px,#ff2423 241.5px,#ff0a0a 243.5px,#f00 247.5px,#f00 590.5px)"></i><i style="top:338px;height:2px;background:linear-gradient(90deg,#ff3735 0.5px,#ff9d98 61.5px,#ffdad3 103.5px,#b8b8ff 104.5px,#00f 207.5px,#0404ff 215.5px,#2e2eff 219.5px,#c6c6ff 231.5px,#ffc6bf 232.5px,#ff7773 236.5px,#ff2322 240.5px,#ff0909 242.5px,#f00 246.5px,#f00 590.5px)"></i><i style="top:340px;height:2px;background:linear-gradient(90deg,#ff3735 0.5px,#ffa49e 66.5px,#ffdad2 103.5px,#b7b7ff 105.5px,#00f 208.5px,#0202ff 214.5px,#1d1dff 217.5px,#c6c6ff 230.5px,#ffc6bf 231.5px,#ff7672 235.5px,#ff2120 239.5px,#ff0808 241.5px,#f00 246.5px,#f00 590.5px)"></i><i style="top:342px;height:2px;background:linear-gradient(90deg,#ff3635 0.5px,#ffa29c 65.5px,#ffdad3 104.5px,#b8b8ff 105.5px,#00f 209.5px,#0404ff 214.5px,#6868ff 222.5px,#c5c5ff 229.5px,#ffc5bf 230.5px,#ff8b86 233.5px,#ff1f1e 238.5px,#ff0807 240.5px,#f00 245.5px,#f00 590.5px)"></i><i style="top:344px;height:2px;background:linear-gradient(90deg,#ff3634 0.5px,#ffa49e 67.5px,#ffdad3 105.5px,#b8b8ff 106.5px,#00f 209.5px,#0303ff 213.5px,#2121ff 216.5px,#c5c5ff 228.5px,#ffc5bf 229.5px,#ff8a85 232.5px,#ff302e 236.5px,#ff100f 238.5px,#ff0101 241.5px,#f00 590.5px)"></i><i style="top:346px;height:2px;background:linear-gradient(90deg,#ff3634 0.5px,#ffaca6 73.5px,#ffdad2 105.5px,#b7b7ff 107.5px,#00f 210.5px,#0505ff 213.5px,#4646ff 218.5px,#c4c4ff 227.5px,#ffc6bf 228.5px,#ff8a85 231.5px,#ff1c1c 236.5px,#ff0606 238.5px,#f00 247.5px,#f00 590.5px)"></i><i style="top:348px;height:2px;background:linear-gradient(90deg,#ff3634 0.5px,#ffb2ac 78.5px,#ffdad3 106.5px,#b8b8ff 107.5px,#00f 211.5px,#0909ff 213.5px,#c2c2ff 226.5px,#ffc8c1 227.5px,#ff8c87 230.5px,#ff302e 234.5px,#ff0f0e 236.5px,#ff0202 238.5px,#f00 590.5px)"></i><i style="top:350px;height:2px;background:linear-gradient(90deg,#ff3533 0.5px,#ffaaa4 73.5px,#ffdad3 107.5px,#b8b8ff 108.5px,#0101ff 211.5px,#0e0eff 213.5px,#bfbfff 225.5px,#e5c9e0 226.5px,#ffbab4 227.5px,#ff1e1d 234.5px,#ff0606 236.5px,#f00 245.5px,#f00 590.5px)"></i><i style="top:352px;height:2px;background:linear-gradient(90deg,#ff3533 0.5px,#ffb3ad 80.5px,#ffdad3 108.5px,#b8b8ff 109.5px,#0202ff 211.5px,#1313ff 213.5px,#bcbcff 224.5px,#e4c9e1 225.5px,#ffbdb6 226.5px,#ff1f1e 233.5px,#ff0707 235.5px,#f00 242.5px,#f00 590.5px)"></i><i style="top:354px;height:2px;background:linear-gradient(90deg,#ff3533 0.5px,#ffbbb4 86.5px,#ffdad2 108.5px,#b7b7ff 110.5px,#0303ff 210.5px,#0d0dff 212.5px,#c9c9ff 224.5px,#ffbfb9 225.5px,#ff201f 232.5px,#ff0707 234.5px,#f00 241.5px,#f00 590.5px)"></i><i style="top:356px;height:2px;background:linear-gradient(90deg,#ff3433 0.5px,#ffb1ab 80.5px,#ffdad2 109.5px,#b7b7ff 111.5px,#0505ff 210.5px,#1212ff 212.5px,#c6c6ff 223.5px,#ffc2bb 224.5px,#ff6763 228.5px,#ff2221 231.5px,#ff0807 233.5px,#f00 238.5px,#f00 590.5px)"></i><i style="top:358px;height:2px;background:linear-gradient(90deg,#ff3432 0.5px,#ffbdb7 89.5px,#ffdad3 110.5px,#b8b8ff 111.5px,#0808ff 210.5px,#1818ff 212.5px,#c3c3ff 222.5px,#ffc4be 223.5px,#ff837e 226.5px,#ff2322 230.5px,#ff0808 232.5px,#f00 237.5px,#f00 590.5px)"></i><i style="top:360px;height:2px;background:linear-gradient(90deg,#ff3432 0.5px,#ffc2bb 93.5px,#ffdad3 111.5px,#b8b8ff 112.5px,#0909ff 209.5px,#1212ff 211.5px,#bfbfff 221.5px,#ffc7c0 222.5px,#ff8682 225.5px,#ff2523 229.5px,#ff0908 231.5px,#f00 235.5px,#f00 590.5px)"></i><i style="top:362px;height:2px;background:linear-gradient(90deg,#ff3432 0.5px,#ffd0c9 104.5px,#ffdad2 111.5px,#b7b7ff 113.5px,#0b0bff 209.5px,#1818ff 211.5px,#bbf 220.5px,#e4c9e0 221.5px,#ffb9b3 222.5px,#ff2726 228.5px,#ff0909 230.5px,#f00 234.5px,#f00 590.5px)"></i><i style="top:364px;height:2px;background:linear-gradient(90deg,#ff3332 0.5px,#ffcfc8 104.5px,#ffdad2 112.5px,#b7b7ff 114.5px,#0d0dff 209.5px,#1c1cff 211.5px,#c7c7ff 220.5px,#ffc0b9 221.5px,#ff2c2a 227.5px,#ff0b0b 229.5px,#f00 232.5px,#f00 590.5px)"></i><i style="top:366px;height:2px;background:linear-gradient(90deg,#ff3331 0.5px,#ffcec7 104.5px,#ffdad3 113.5px,#b8b8ff 114.5px,#0e0eff 209.5px,#1f1fff 211.5px,#bdbdff 219.5px,#ffc7c1 220.5px,#ff9d98 222.5px,#ff1f1e 227.5px,#ff0606 229.5px,#f00 235.5px,#f00 590.5px)"></i><i style="top:368px;height:2px;background:linear-gradient(90deg,#ff3331 0.5px,#ffd9d2 113.5px,#ffdad3 114.5px,#b8b8ff 115.5px,#11f 209.5px,#1616ff 210.5px,#4c4cff 213.5px,#c6c6ff 219.5px,#ffbfb8 220.5px,#ff7672 223.5px,#ff2827 226.5px,#ff0909 228.5px,#f00 232.5px,#f00 590.5px)"></i><i style="top:370px;height:2px;background:linear-gradient(90deg,#ff3231 0.5px,#ffd4cd 110.5px,#ffdad3 115.5px,#b8b8ff 116.5px,#1212ff 208.5px,#1d1dff 210.5px,#9292ff 216.5px,#bcbcff 218.5px,#ffc8c1 219.5px,#ff837f 222.5px,#ff1e1d 226.5px,#ff0505 228.5px,#f00 238.5px,#f00 590.5px)"></i><i style="top:372px;height:2px;background:linear-gradient(90deg,#ff3231 0.5px,#ffdad2 115.5px,#b7b7ff 117.5px,#1414ff 208.5px,#2323ff 210.5px,#c5c5ff 218.5px,#ffbfb9 219.5px,#ff5b57 223.5px,#ff2827 225.5px,#ff0909 227.5px,#f00 231.5px,#f00 590.5px)"></i><i style="top:374px;height:2px;background:linear-gradient(90deg,#ff3230 0.5px,#ffdad3 116.5px,#b8b8ff 117.5px,#1717ff 208.5px,#2b2bff 210.5px,#bbf 217.5px,#ffc8c1 218.5px,#ff9e99 220.5px,#ff3432 224.5px,#ff0e0e 226.5px,#ff0101 228.5px,#f00 590.5px)"></i><i style="top:376px;height:2px;background:linear-gradient(90deg,#ff3230 0.5px,#ffdad3 117.5px,#b8b8ff 118.5px,#1818ff 207.5px,#2323ff 209.5px,#c5c5ff 217.5px,#ffc0b9 218.5px,#ff7672 221.5px,#ff2827 224.5px,#ff0909 226.5px,#f00 230.5px,#f00 590.5px)"></i><i style="top:378px;height:2px;background:linear-gradient(90deg,#ff3130 0.5px,#ffdad2 117.5px,#b7b7ff 119.5px,#1a1aff 207.5px,#2a2aff 209.5px,#babaff 216.5px,#ffc8c2 217.5px,#ff9e99 219.5px,#ff3432 223.5px,#ff0e0e 225.5px,#ff0101 227.5px,#f00 590.5px)"></i><i style="top:380px;height:2px;background:linear-gradient(90deg,#ff312f 0.5px,#ffdad3 118.5px,#b8b8ff 119.5px,#1d1dff 207.5px,#2323ff 208.5px,#5b5bff 211.5px,#c4c4ff 216.5px,#ffc0ba 217.5px,#ff7672 220.5px,#ff2827 223.5px,#ff0909 225.5px,#f00 229.5px,#f00 590.5px)"></i><i style="top:382px;height:2px;background:linear-gradient(90deg,#ff302f 0.5px,#ffdad3 119.5px,#b8b8ff 120.5px,#1e1eff 206.5px,#2a2aff 208.5px,#b9b9ff 215.5px,#e5c9e0 216.5px,#ffb7b0 217.5px,#ff1e1d 223.5px,#ff0505 225.5px,#f00 235.5px,#f00 590.5px)"></i><i style="top:384px;height:2px;background:linear-gradient(90deg,#ff302e 0.5px,#ffdad2 119.5px,#b7b7ff 121.5px,#1f1fff 206.5px,#3131ff 208.5px,#c3c3ff 215.5px,#ffc1bb 216.5px,#ff7873 219.5px,#ff2927 222.5px,#ff0909 224.5px,#f00 228.5px,#f00 590.5px)"></i><i style="top:386px;height:2px;background:linear-gradient(90deg,#ff2f2d 0.5px,#ffdad3 120.5px,#b8b8ff 121.5px,#22f 206.5px,#2828ff 207.5px,#8c8cff 212.5px,#b7b7ff 214.5px,#e4c9e0 215.5px,#ffb9b2 216.5px,#ff1f1e 222.5px,#ff0605 224.5px,#f00 230.5px,#f00 590.5px)"></i><i style="top:388px;height:2px;background:linear-gradient(90deg,#ff2e2c 0.5px,#ffdad3 121.5px,#b8b8ff 122.5px,#2323ff 205.5px,#2f2fff 207.5px,#aaf 213.5px,#c0c0ff 214.5px,#ffc3bd 215.5px,#ff7b77 218.5px,#ff2b2a 221.5px,#ff0a0a 223.5px,#f00 226.5px,#f00 590.5px)"></i><i style="top:390px;height:2px;background:linear-gradient(90deg,#ff2d2c 0.5px,#ffdad2 121.5px,#b7b7ff 123.5px,#2525ff 205.5px,#3535ff 207.5px,#c9c9ff 214.5px,#ffbbb5 215.5px,#ff2120 221.5px,#ff0606 223.5px,#f00 229.5px,#f00 590.5px)"></i><i style="top:392px;height:2px;background:linear-gradient(90deg,#ff2c2b 0.5px,#ffdad3 122.5px,#b8b8ff 123.5px,#2727ff 205.5px,#2d2dff 206.5px,#66f 209.5px,#bdbdff 213.5px,#ffc6bf 214.5px,#ff7e7a 217.5px,#ff2e2c 220.5px,#ff0b0b 222.5px,#f00 225.5px,#f00 590.5px)"></i><i style="top:394px;height:2px;background:linear-gradient(90deg,#ff2c2a 0.5px,#ffb8b2 100.5px,#ffdad3 123.5px,#b7b7ff 124.5px,#2828ff 204.5px,#33f 206.5px,#c6c6ff 213.5px,#ffbeb7 214.5px,#ff2423 220.5px,#ff0707 222.5px,#f00 226.5px,#f00 590.5px)"></i><i style="top:396px;height:2px;background:linear-gradient(90deg,#ff2b29 0.5px,#ff9c97 82.5px,#ffdad2 123.5px,#b7b7ff 125.5px,#2a2aff 204.5px,#2d2dff 205.5px,#4c4cff 207.5px,#b9b9ff 212.5px,#ffc8c1 213.5px,#ff9d98 215.5px,#ff312f 219.5px,#ff0c0c 221.5px,#f00 224.5px,#f00 590.5px)"></i><i style="top:398px;height:2px;background:linear-gradient(90deg,#ff2a29 0.5px,#ff8d88 73.5px,#ffdad2 124.5px,#b8b8ff 125.5px,#2c2cff 204.5px,#4040ff 206.5px,#c3c3ff 212.5px,#ffc0ba 213.5px,#ff7672 216.5px,#ff2625 219.5px,#ff0808 221.5px,#f00 225.5px,#f00 590.5px)"></i><i style="top:400px;height:2px;background:linear-gradient(90deg,#ff2928 0.5px,#ff8883 71.5px,#ffdad2 125.5px,#b8b8ff 126.5px,#3030ff 204.5px,#3737ff 205.5px,#a0a0ff 210.5px,#b6b6ff 211.5px,#e4c9e0 212.5px,#ffb8b2 213.5px,#ff1d1c 219.5px,#ff0505 221.5px,#f00 231.5px,#f00 590.5px)"></i><i style="top:402px;height:2px;background:linear-gradient(90deg,#ff2927 0.5px,#ff716e 57.5px,#ffdad2 126.5px,#b7b7ff 128.5px,#3131ff 203.5px,#3e3eff 205.5px,#bfbfff 211.5px,#ffc3bc 212.5px,#ff7975 215.5px,#ff2928 218.5px,#ff0909 220.5px,#f00 224.5px,#f00 590.5px)"></i><i style="top:404px;height:2px;background:linear-gradient(90deg,#ff2827 0.5px,#ff6e6a 56.5px,#ffd9d2 127.5px,#b7b7ff 129.5px,#3434ff 203.5px,#3838ff 204.5px,#5a5aff 206.5px,#c9c9ff 211.5px,#ffb9b3 212.5px,#ff1f1e 218.5px,#ff0505 220.5px,#f00 230.5px,#f00 590.5px)"></i><i style="top:406px;height:2px;background:linear-gradient(90deg,#ff2726 0.5px,#ff6965 54.5px,#ffd9d2 128.5px,#b7b7ff 130.5px,#3838ff 203.5px,#5151ff 205.5px,#c1c1ff 210.5px,#ffc1ba 211.5px,#ff7672 214.5px,#ff2725 217.5px,#ff0808 219.5px,#f00 224.5px,#f00 590.5px)"></i><i style="top:408px;height:2px;background:linear-gradient(90deg,#ff2625 0.5px,#ff6763 54.5px,#ffdad3 130.5px,#b8b8ff 131.5px,#3a3aff 202.5px,#4c4cff 204.5px,#bbf 209.5px,#ffc5bf 210.5px,#ff9994 212.5px,#ff2d2c 216.5px,#ff0b0b 218.5px,#f00 221.5px,#f00 590.5px)"></i><i style="top:410px;height:2px;background:linear-gradient(90deg,#ff2624 0.5px,#ff5b58 47.5px,#ffdad2 131.5px,#b8b8ff 132.5px,#3d3dff 201.5px,#4949ff 203.5px,#8787ff 206.5px,#b5b5ff 208.5px,#e3c7df 209.5px,#ffb7b1 210.5px,#ff1d1c 216.5px,#ff0505 218.5px,#f00 228.5px,#f00 590.5px)"></i><i style="top:412px;height:2px;background:linear-gradient(90deg,#ff2524 0.5px,#ff5956 47.5px,#ffdad2 132.5px,#b7b7ff 134.5px,#4141ff 201.5px,#4646ff 202.5px,#6a6aff 204.5px,#c5c5ff 208.5px,#ffbdb6 209.5px,#ff706c 212.5px,#ff2221 215.5px,#ff0707 217.5px,#f00 221.5px,#f00 590.5px)"></i><i style="top:414px;height:2px;background:linear-gradient(90deg,#ff2423 0.5px,#ff5653 46.5px,#ffd9d2 133.5px,#b7b7ff 135.5px,#4343ff 200.5px,#5151ff 202.5px,#bfbfff 207.5px,#ffc2bb 208.5px,#ff7773 211.5px,#ff2826 214.5px,#ff0908 216.5px,#f00 220.5px,#f00 590.5px)"></i><i style="top:416px;height:2px;background:linear-gradient(90deg,#ff2422 0.5px,#ff4f4d 42.5px,#ffc3bc 120.5px,#ffd9d2 134.5px,#b7b7ff 136.5px,#4747ff 200.5px,#4e4eff 201.5px,#7474ff 203.5px,#b9b9ff 206.5px,#ffc6bf 207.5px,#ff9a95 209.5px,#ff2d2c 213.5px,#ff0b0b 215.5px,#f00 218.5px,#f00 590.5px)"></i><i style="top:418px;height:2px;background:linear-gradient(90deg,#ff2322 0.5px,#ff514f 45.5px,#ffc6bf 123.5px,#ffd9d2 135.5px,#b7b7ff 137.5px,#4949ff 199.5px,#4d4dff 200.5px,#6d6dff 202.5px,#b3b3ff 205.5px,#e2c6e0 206.5px,#ffb8b2 207.5px,#ff1d1c 213.5px,#ff0505 215.5px,#f00 225.5px,#f00 590.5px)"></i><i style="top:420px;height:2px;background:linear-gradient(90deg,#ff2221 0.5px,#ff4e4c 44.5px,#ffb8b2 116.5px,#ffd9d2 136.5px,#b7b7ff 138.5px,#4c4cff 198.5px,#5656ff 200.5px,#9595ff 203.5px,#c4c4ff 205.5px,#ffbeb7 206.5px,#ff716d 209.5px,#ff2221 212.5px,#ff0707 214.5px,#f00 218.5px,#f00 590.5px)"></i><i style="top:422px;height:2px;background:linear-gradient(90deg,#ff2120 0.5px,#ff504e 47.5px,#ffbeb8 121.5px,#ffd9d2 137.5px,#b7b7ff 139.5px,#4f4fff 198.5px,#5454ff 199.5px,#77f 201.5px,#bebeff 204.5px,#ffc2bc 205.5px,#ff948f 207.5px,#ff2826 211.5px,#ff0908 213.5px,#f00 217.5px,#f00 590.5px)"></i><i style="top:424px;height:2px;background:linear-gradient(90deg,#ff2120 0.5px,#ff4542 39.5px,#ffa49e 106.5px,#ffd9d2 138.5px,#b7b7ff 140.5px,#5252ff 197.5px,#5e5eff 199.5px,#b7b7ff 203.5px,#e5c7de 204.5px,#ffb4ae 205.5px,#ff2d2c 210.5px,#ff0b0b 212.5px,#f00 215.5px,#f00 590.5px)"></i><i style="top:426px;height:2px;background:linear-gradient(90deg,#ff201f 0.5px,#ff4442 40.5px,#ffa7a1 109.5px,#ffd9d2 139.5px,#b7b7ff 141.5px,#5656ff 197.5px,#5c5cff 198.5px,#8181ff 200.5px,#b1b1ff 202.5px,#e2c6e0 203.5px,#ffb9b3 204.5px,#ff1d1c 210.5px,#ff0505 212.5px,#f00 222.5px,#f00 590.5px)"></i><i style="top:428px;height:2px;background:linear-gradient(90deg,#ff1f1e 0.5px,#ff4340 40.5px,#ff9e99 105.5px,#ffdad3 141.5px,#b8b8ff 142.5px,#5858ff 196.5px,#66f 198.5px,#c1c1ff 202.5px,#ffc0ba 203.5px,#ff7470 206.5px,#ff2422 209.5px,#ff0707 211.5px,#f00 215.5px,#f00 590.5px)"></i><i style="top:430px;height:2px;background:linear-gradient(90deg,#ff1f1e 0.5px,#ff3e3c 37.5px,#ff918c 98.5px,#ffdad3 142.5px,#b8b8ff 143.5px,#5b5bff 196.5px,#6161ff 197.5px,#8686ff 199.5px,#b7b7ff 201.5px,#e5c8df 202.5px,#ffb4ae 203.5px,#ff2d2b 208.5px,#ff0a0a 210.5px,#f00 213.5px,#f00 590.5px)"></i><i style="top:432px;height:2px;background:linear-gradient(90deg,#ff1e1d 0.5px,#ff3e3c 39.5px,#ff9792 103.5px,#ffdad2 143.5px,#b8b8ff 144.5px,#5d5dff 195.5px,#6969ff 197.5px,#ababff 200.5px,#c3c3ff 201.5px,#ffbeb7 202.5px,#ff706c 205.5px,#ff201f 208.5px,#ff0606 210.5px,#f00 216.5px,#f00 590.5px)"></i><i style="top:434px;height:2px;background:linear-gradient(90deg,#ff1d1c 0.5px,#ff3d3b 39.5px,#ff908b 100.5px,#ffdad2 144.5px,#b8b8ff 145.5px,#6060ff 195.5px,#6464ff 196.5px,#88f 198.5px,#b8b8ff 200.5px,#ffc6bf 201.5px,#ff9994 203.5px,#ff2a29 207.5px,#ff0909 209.5px,#f00 213.5px,#f00 590.5px)"></i><i style="top:436px;height:2px;background:linear-gradient(90deg,#ff1d1c 0.5px,#ff3a38 38.5px,#ff8e89 100.5px,#ffdad2 145.5px,#b8b8ff 146.5px,#6363ff 195.5px,#6b6bff 196.5px,#adadff 199.5px,#c5c5ff 200.5px,#ffbcb6 201.5px,#ff1e1d 207.5px,#ff0505 209.5px,#f00 219.5px,#f00 590.5px)"></i><i style="top:438px;height:2px;background:linear-gradient(90deg,#ff1c1b 0.5px,#ff3836 37.5px,#ff827e 94.5px,#ffd9d2 146.5px,#b7b7ff 148.5px,#6565ff 194.5px,#7575ff 196.5px,#babaff 199.5px,#ffc5be 200.5px,#ff7a76 203.5px,#ff2826 206.5px,#ff0808 208.5px,#f00 213.5px,#f00 590.5px)"></i><i style="top:440px;height:2px;background:linear-gradient(90deg,#ff1b1a 0.5px,#ff3937 40.5px,#ff8985 100.5px,#ffd9d2 147.5px,#b7b7ff 149.5px,#6969ff 194.5px,#6f6fff 195.5px,#9595ff 197.5px,#c7c7ff 199.5px,#ffbab4 200.5px,#ff6a67 203.5px,#ff1c1b 206.5px,#ff0504 208.5px,#f00 218.5px,#f00 590.5px)"></i><i style="top:442px;height:2px;background:linear-gradient(90deg,#ff1a1a 0.5px,#ff3634 38.5px,#ff7f7b 95.5px,#ffdad2 149.5px,#b8b8ff 150.5px,#6b6bff 193.5px,#77f 195.5px,#bbf 198.5px,#ffc3bd 199.5px,#ff7873 202.5px,#ff2624 205.5px,#ff0707 207.5px,#f00 211.5px,#f00 590.5px)"></i><i style="top:444px;height:2px;background:linear-gradient(90deg,#ff1a19 0.5px,#ff3432 38.5px,#ff7d79 95.5px,#ffd9d2 150.5px,#b8b8ff 151.5px,#6e6eff 193.5px,#7373ff 194.5px,#9797ff 196.5px,#b0b0ff 197.5px,#e2c7e0 198.5px,#ffb9b2 199.5px,#ff302e 204.5px,#ff0c0b 206.5px,#f00 209.5px,#f00 590.5px)"></i><i style="top:446px;height:2px;background:linear-gradient(90deg,#ff1918 0.5px,#ff3331 38.5px,#ff7672 92.5px,#ffd9d2 151.5px,#b7b7ff 153.5px,#7272ff 193.5px,#7a7aff 194.5px,#a4a4ff 196.5px,#bdbdff 197.5px,#ffc2bb 198.5px,#ff7571 201.5px,#ff2322 204.5px,#ff0706 206.5px,#f00 210.5px,#f00 590.5px)"></i><i style="top:448px;height:2px;background:linear-gradient(90deg,#ff1818 0.5px,#ff302f 37.5px,#ff7470 92.5px,#ffd9d1 152.5px,#b7b7ff 154.5px,#7575ff 192.5px,#7878ff 193.5px,#8484ff 194.5px,#b1b1ff 196.5px,#e3c7e0 197.5px,#ffb7b1 198.5px,#ff2d2c 203.5px,#ff0b0a 205.5px,#f00 208.5px,#f00 590.5px)"></i><i style="top:450px;height:2px;background:linear-gradient(90deg,#ff1817 0.5px,#ff312f 39.5px,#ff726e 92.5px,#ffdad2 154.5px,#b8b8ff 155.5px,#7878ff 192.5px,#7f7fff 193.5px,#a7a7ff 195.5px,#c0c0ff 196.5px,#ffbfb8 197.5px,#ff8d89 199.5px,#ff201f 203.5px,#ff0606 205.5px,#f00 211.5px,#f00 590.5px)"></i><i style="top:452px;height:2px;background:linear-gradient(90deg,#ff1717 0.5px,#ff312f 40.5px,#ff736f 94.5px,#ffd9d2 155.5px,#b7b7ff 157.5px,#7b7bff 191.5px,#7e7eff 192.5px,#8a8aff 193.5px,#b8b8ff 195.5px,#ffc5be 196.5px,#ff7a76 199.5px,#ff2726 202.5px,#ff0808 204.5px,#f00 209.5px,#f00 590.5px)"></i><i style="top:454px;height:2px;background:linear-gradient(90deg,#ff1716 0.5px,#ff302e 40.5px,#ff716d 94.5px,#ffd9d2 156.5px,#b7b7ff 158.5px,#7f7fff 191.5px,#8787ff 192.5px,#b0b0ff 194.5px,#e2c6df 195.5px,#ffb7b0 196.5px,#ff2e2c 201.5px,#ff0b0a 203.5px,#f00 206.5px,#f00 590.5px)"></i><i style="top:456px;height:2px;background:linear-gradient(90deg,#ff1716 0.5px,#ff2d2c 38.5px,#ff6a66 90.5px,#ffcec7 151.5px,#ffd9d1 157.5px,#b7b7ff 159.5px,#8282ff 190.5px,#8686ff 191.5px,#9393ff 192.5px,#c2c2ff 194.5px,#ffbcb6 195.5px,#ff6d69 198.5px,#ff3432 200.5px,#ff0e0d 202.5px,#ff0101 204.5px,#f00 590.5px)"></i><i style="top:458px;height:2px;background:linear-gradient(90deg,#ff1716 0.5px,#ff2c2b 38.5px,#ff6b67 92.5px,#ffd3cc 155.5px,#ffdad2 159.5px,#b8b8ff 160.5px,#8686ff 190.5px,#9090ff 191.5px,#bbf 193.5px,#ffc2bb 194.5px,#ff7571 197.5px,#ff2322 200.5px,#ff0707 202.5px,#f00 206.5px,#f00 590.5px)"></i><i style="top:460px;height:2px;background:linear-gradient(90deg,#ff1616 0.5px,#ff2b2a 38.5px,#ff6864 91.5px,#ffcbc4 152.5px,#ffd9d2 160.5px,#b7b7ff 162.5px,#88f 189.5px,#8e8eff 190.5px,#b4b4ff 192.5px,#e4c6de 193.5px,#ffb3ad 194.5px,#ff2928 199.5px,#ff0909 201.5px,#f00 205.5px,#f00 590.5px)"></i><i style="top:462px;height:2px;background:linear-gradient(90deg,#ff1615 0.5px,#ff2d2c 41.5px,#ff6965 93.5px,#ffcec7 155.5px,#ffd9d2 161.5px,#b7b7ff 163.5px,#8b8bff 188.5px,#99f 190.5px,#c6c6ff 192.5px,#ffb9b3 193.5px,#ff2f2e 198.5px,#ff0c0b 200.5px,#f00 203.5px,#f00 590.5px)"></i><i style="top:464px;height:2px;background:linear-gradient(90deg,#ff1615 0.5px,#ff2c2b 41.5px,#ff6a66 95.5px,#ffcec7 156.5px,#ffd9d1 162.5px,#b7b7ff 164.5px,#8f8fff 188.5px,#9696ff 189.5px,#bfbfff 191.5px,#ffbfb8 192.5px,#ff6f6b 195.5px,#ff1f1e 198.5px,#ff0505 200.5px,#f00 210.5px,#f00 590.5px)"></i><i style="top:466px;height:2px;background:linear-gradient(90deg,#ff1615 0.5px,#ff2a28 39.5px,#ff6461 92.5px,#ffc4bd 152.5px,#ffd9d2 164.5px,#b8b8ff 165.5px,#9292ff 187.5px,#9696ff 188.5px,#a3a3ff 189.5px,#b9b9ff 190.5px,#ffc4bd 191.5px,#ff948f 193.5px,#ff2423 197.5px,#ff0707 199.5px,#f00 203.5px,#f00 590.5px)"></i><i style="top:468px;height:2px;background:linear-gradient(90deg,#ff1515 0.5px,#ff2b2a 42.5px,#ff6864 96.5px,#ffc7c0 155.5px,#ffd9d1 165.5px,#b7b7ff 167.5px,#9797ff 187.5px,#9f9fff 188.5px,#b2b2ff 189.5px,#e2c6df 190.5px,#ffb5af 191.5px,#ff2a29 196.5px,#ff0909 198.5px,#f00 202.5px,#f00 590.5px)"></i><i style="top:470px;height:2px;background:linear-gradient(90deg,#ff1514 0.5px,#ff2b2a 43.5px,#ff6561 95.5px,#ffc2bc 154.5px,#ffd9d2 167.5px,#b8b8ff 168.5px,#99f 186.5px,#9e9eff 187.5px,#c4c4ff 189.5px,#ffbbb5 190.5px,#ff312f 195.5px,#ff0c0c 197.5px,#f00 200.5px,#f00 590.5px)"></i><i style="top:472px;height:2px;background:linear-gradient(90deg,#ff1514 0.5px,#ff2b2a 44.5px,#ff6763 98.5px,#ffc3bc 156.5px,#ffd9d1 168.5px,#b7b7ff 170.5px,#9f9fff 186.5px,#a9a9ff 187.5px,#bdbdff 188.5px,#ffc0ba 189.5px,#ff8f8a 191.5px,#ff201f 195.5px,#ff0606 197.5px,#f00 203.5px,#f00 590.5px)"></i><i style="top:474px;height:2px;background:linear-gradient(90deg,#ff1414 0.5px,#ff2928 43.5px,#ff6561 98.5px,#ffbeb8 155.5px,#ffd9d1 170.5px,#b6b6ff 172.5px,#a2a2ff 185.5px,#a8a8ff 186.5px,#b9b9ff 187.5px,#e5c4db 188.5px,#ffaea8 189.5px,#ff2524 194.5px,#ff0808 196.5px,#f00 201.5px,#f00 590.5px)"></i><i style="top:476px;height:2px;background:linear-gradient(90deg,#ff1413 0.5px,#ff2827 43.5px,#ff6461 100.5px,#ffc2bb 160.5px,#ffd6ce 171.5px,#b7b7ff 173.5px,#a7a7ff 184.5px,#aeaeff 185.5px,#bebeff 186.5px,#e5c1d8 187.5px,#ffaaa4 188.5px,#ff2827 193.5px,#ff0d0c 195.5px,#ff0202 200.5px,#f00 590.5px)"></i><i style="top:478px;height:2px;background:linear-gradient(90deg,#ff1313 0.5px,#ff2625 43.5px,#ff6966 107.5px,#ffcac3 168.5px,#ffd2cb 173.5px,#b7b7ff 175.5px,#acacff 182.5px,#b9b9ff 184.5px,#e0bfdb 185.5px,#ffb3ad 186.5px,#ff3a38 191.5px,#ff1a19 193.5px,#ff0b0b 196.5px,#f00 208.5px,#f00 590.5px)"></i><i style="top:480px;height:2px;background:linear-gradient(90deg,#ff1312 0.5px,#ff2625 45.5px,#ff6a67 111.5px,#ffcdc6 174.5px,#b8b8ff 176.5px,#b1b1ff 181.5px,#c4c4ff 183.5px,#ffb8b1 184.5px,#ff7975 187.5px,#ff3735 190.5px,#ff1f1e 192.5px,#ff0404 202.5px,#f00 590.5px)"></i><i style="top:482px;height:2px;background:linear-gradient(90deg,#ff1212 0.5px,#ff2726 50.5px,#ff706d 119.5px,#ffc9c2 176.5px,#b7b7ff 178.5px,#b8b8ff 180.5px,#c1c1ff 181.5px,#e4bfd7 182.5px,#ffada7 183.5px,#ff4946 188.5px,#ff2827 191.5px,#f00 205.5px,#f00 590.5px)"></i><i style="top:484px;height:2px;background:linear-gradient(90deg,#ff1211 0.5px,#ff2625 51.5px,#ff6d6a 120.5px,#ffc4be 178.5px,#ddbedd 179.5px,#e2c0da 180.5px,#ffb6b0 181.5px,#ff5855 188.5px,#ff201f 196.5px,#ff0202 204.5px,#f00 590.5px)"></i><i style="top:486px;height:2px;background:linear-gradient(90deg,#ff1211 0.5px,#ff2524 51.5px,#ff6f6b 124.5px,#ffbeb8 178.5px,#ff9e98 184.5px,#ff918c 188.5px,#ff5d59 192.5px,#ff3331 195.5px,#ff0909 202.5px,#f00 208.5px,#f00 590.5px)"></i><i style="top:488px;height:2px;background:linear-gradient(90deg,#f11 0.5px,#ff2524 53.5px,#ff6c68 124.5px,#ffbab3 178.5px,#ffa7a1 183.5px,#ffb4ad 187.5px,#ffa59f 189.5px,#ff3e3c 195.5px,#ff1d1c 199.5px,#ff0302 204.5px,#f00 590.5px)"></i><i style="top:490px;height:2px;background:linear-gradient(90deg,#ff1110 0.5px,#ff2524 54.5px,#ff4e4b 99.5px,#ff8c88 150.5px,#ffb5af 178.5px,#ffa6a1 183.5px,#ffb6b0 187.5px,#ffaca6 189.5px,#ff7e79 192.5px,#ff3b39 196.5px,#ff0707 203.5px,#f00 210.5px,#f00 590.5px)"></i><i style="top:492px;height:2px;background:linear-gradient(90deg,#ff1110 0.5px,#ff2524 55.5px,#ff4643 91.5px,#ff6f6c 131.5px,#ffb1ab 178.5px,#ffa5a0 183.5px,#ffb5af 188.5px,#ffa5a0 190.5px,#ff4341 196.5px,#ff0807 203.5px,#f00 208.5px,#f00 590.5px)"></i><i style="top:494px;height:2px;background:linear-gradient(90deg,#ff1010 0.5px,#ff2423 55.5px,#ff403d 84.5px,#ff615e 122.5px,#ffaca6 179.5px,#ffa49e 183.5px,#ffb5af 188.5px,#ffaaa4 190.5px,#ff3f3d 197.5px,#ff0908 203.5px,#f00 207.5px,#f00 590.5px)"></i><i style="top:496px;height:2px;background:linear-gradient(90deg,#ff1010 0.5px,#ff2322 55.5px,#ff3f3c 84.5px,#ff5d5a 121.5px,#ffa8a2 179.5px,#ffa39d 183.5px,#ffb4ad 189.5px,#ffa29c 191.5px,#ff4644 197.5px,#ff0909 203.5px,#f00 207.5px,#f00 590.5px)"></i><i style="top:498px;height:2px;background:linear-gradient(90deg,#ff100f 0.5px,#ff2322 56.5px,#ff3c3a 81.5px,#ff5653 117.5px,#ffa49f 179.5px,#ffa49e 184.5px,#ffb4ae 189.5px,#ffa6a0 191.5px,#ff403e 198.5px,#ff0a0a 203.5px,#f00 207.5px,#f00 590.5px)"></i><i style="top:500px;height:2px;background:linear-gradient(90deg,#ff100f 0.5px,#ff2221 56.5px,#ff3b39 81.5px,#ff524f 115.5px,#ff9e99 176.5px,#ffa39e 184.5px,#ffb4ae 189.5px,#ffa9a3 191.5px,#ff201f 201.5px,#ff0505 204.5px,#f00 214.5px,#f00 590.5px)"></i><i style="top:502px;height:2px;background:linear-gradient(90deg,#ff0f0f 0.5px,#ff1f1e 55.5px,#ff3937 79.5px,#ff4f4c 115.5px,#ff9d97 181.5px,#ffb4ad 189.5px,#ffaba6 191.5px,#ff1616 202.5px,#ff0202 205.5px,#f00 590.5px)"></i><i style="top:504px;height:2px;background:linear-gradient(90deg,#ff0f0f 0.5px,#ff1e1d 55.5px,#ff3836 78.5px,#ff4a47 112.5px,#ff948f 175.5px,#ffa19c 184.5px,#ffb2ac 190.5px,#ff9792 193.5px,#ff0d0d 203.5px,#f00 206.5px,#f00 590.5px)"></i><i style="top:506px;height:2px;background:linear-gradient(90deg,#ff0f0e 0.5px,#ff1d1c 55.5px,#ff3735 77.5px,#ff4846 113.5px,#ff908b 175.5px,#ffa49e 185.5px,#ffb2ac 190.5px,#ff9994 193.5px,#ff3735 200.5px,#ff0e0e 203.5px,#ff0100 206.5px,#f00 590.5px)"></i><i style="top:508px;height:2px;background:linear-gradient(90deg,#ff0f0e 0.5px,#ff1c1b 55.5px,#ff3634 77.5px,#ff4543 112.5px,#ff8984 173.5px,#ff9c97 183.5px,#ffb1ab 190.5px,#ff9b96 193.5px,#ff4b48 199.5px,#ff0f0e 203.5px,#ff0101 206.5px,#f00 590.5px)"></i><i style="top:510px;height:2px;background:linear-gradient(90deg,#ff0e0e 0.5px,#ff1b1a 55.5px,#ff3533 76.5px,#ff4240 111.5px,#ff8580 173.5px,#ff9a95 183.5px,#ffafaa 190.5px,#ff9b96 193.5px,#ff5e5a 198.5px,#ff100f 203.5px,#ff0101 206.5px,#f00 590.5px)"></i><i style="top:512px;height:2px;background:linear-gradient(90deg,#ff0e0e 0.5px,#ff1b1a 55.5px,#ff3433 77.5px,#ff413f 112.5px,#ff837f 175.5px,#ff9792 183.5px,#ffada7 190.5px,#ff9a95 193.5px,#ff5f5c 198.5px,#ff1110 203.5px,#ff0101 206.5px,#f00 590.5px)"></i><i style="top:514px;height:2px;background:linear-gradient(90deg,#ff0e0d 0.5px,#ff1a19 55.5px,#ff3432 76.5px,#ff3f3d 111.5px,#ff7d78 173.5px,#ff908b 182.5px,#ffaaa4 190.5px,#ff9893 193.5px,#ff5f5c 198.5px,#ff1211 203.5px,#ff0101 206.5px,#f00 590.5px)"></i><i style="top:516px;height:2px;background:linear-gradient(90deg,#ff0e0d 0.5px,#ff1a19 55.5px,#ff3331 77.5px,#ff3d3b 110.5px,#ff7672 171.5px,#ff8c87 182.5px,#ffa6a1 190.5px,#ff9691 193.5px,#ff5f5c 198.5px,#ff1312 203.5px,#ff0101 206.5px,#f00 590.5px)"></i><i style="top:518px;height:2px;background:linear-gradient(90deg,#ff0d0d 0.5px,#ff1918 55.5px,#ff3231 76.5px,#ff3b39 109.5px,#ff6f6c 169.5px,#ff8480 181.5px,#ffa39d 190.5px,#ff948f 193.5px,#ff5f5c 198.5px,#ff1413 203.5px,#ff0101 206.5px,#f00 590.5px)"></i><i style="top:520px;height:2px;background:linear-gradient(90deg,#ff0d0d 0.5px,#ff1918 55.5px,#ff3230 77.5px,#ff3a38 110.5px,#ff6b68 169.5px,#ff807c 181.5px,#ff9f9a 190.5px,#ff938e 193.5px,#ff524f 199.5px,#ff1515 203.5px,#ff0101 206.5px,#f00 590.5px)"></i><i style="top:522px;height:2px;background:linear-gradient(90deg,#ff0d0c 0.5px,#ff1817 55.5px,#ff312f 76.5px,#ff3836 109.5px,#ff6764 169.5px,#ff7c78 181.5px,#ff9c97 190.5px,#ff918c 193.5px,#ff5f5c 198.5px,#ff0c0b 204.5px,#f00 208.5px,#f00 590.5px)"></i><i style="top:524px;height:2px;background:linear-gradient(90deg,#ff0c0c 0.5px,#ff1817 55.5px,#ff302f 76.5px,#ff3735 109.5px,#ff6360 169.5px,#ff7874 181.5px,#ff9993 190.5px,#ff8f8a 193.5px,#ff5350 199.5px,#ff0c0c 204.5px,#f00 208.5px,#f00 590.5px)"></i><i style="top:526px;height:2px;background:linear-gradient(90deg,#ff0c0c 0.5px,#ff1716 55.5px,#ff302e 76.5px,#ff3533 108.5px,#ff5e5b 168.5px,#ff7470 181.5px,#ff9590 190.5px,#ff8d88 193.5px,#ff605c 198.5px,#ff0d0d 204.5px,#f00 207.5px,#f00 590.5px)"></i><i style="top:528px;height:2px;background:linear-gradient(90deg,#ff0c0c 0.5px,#ff1716 55.5px,#ff2f2e 76.5px,#ff3432 108.5px,#ff5956 167.5px,#ff716d 181.5px,#ff928d 191.5px,#ff837f 194.5px,#ff5350 199.5px,#ff0e0e 204.5px,#ff0101 207.5px,#f00 590.5px)"></i><i style="top:530px;height:2px;background:linear-gradient(90deg,#ff0c0c 0.5px,#ff1616 55.5px,#ff2f2d 76.5px,#ff3231 108.5px,#ff5855 168.5px,#ff6e6a 181.5px,#ff8f8a 191.5px,#ff7975 195.5px,#ff5350 199.5px,#ff0f0e 204.5px,#ff0101 207.5px,#f00 590.5px)"></i><i style="top:532px;height:2px;background:linear-gradient(90deg,#ff0c0c 0.5px,#ff1616 55.5px,#ff2e2c 76.5px,#ff312f 108.5px,#ff5552 167.5px,#ff6b67 181.5px,#ff8b86 191.5px,#ff7773 195.5px,#ff524f 199.5px,#ff0f0f 204.5px,#ff0101 207.5px,#f00 590.5px)"></i><i style="top:534px;height:2px;background:linear-gradient(90deg,#ff0c0c 0.5px,#ff1615 55.5px,#ff2d2c 76.5px,#ff302e 108.5px,#ff5451 168.5px,#ff6864 181.5px,#ff8782 191.5px,#ff7571 195.5px,#ff514e 199.5px,#ff100f 204.5px,#ff0101 207.5px,#f00 590.5px)"></i><i style="top:536px;height:2px;background:linear-gradient(90deg,#ff0c0c 0.5px,#ff1615 55.5px,#ff2d2b 76.5px,#ff2f2e 109.5px,#ff514f 168.5px,#ff6561 181.5px,#ff837f 191.5px,#ff726f 195.5px,#ff504d 199.5px,#ff0808 205.5px,#f00 210.5px,#f00 590.5px)"></i><i style="top:538px;height:2px;background:linear-gradient(90deg,#ff0c0c 0.5px,#ff1615 55.5px,#ff2c2b 77.5px,#ff2d2c 108.5px,#ff4f4c 168.5px,#ff6561 182.5px,#ff7f7b 191.5px,#ff706c 195.5px,#ff4f4c 199.5px,#f11 204.5px,#ff0101 207.5px,#f00 590.5px)"></i><i style="top:540px;height:2px;background:linear-gradient(90deg,#ff0c0c 0.5px,#ff1716 56.5px,#ff2b2a 76.5px,#ff2d2b 109.5px,#ff4f4c 170.5px,#ff625e 182.5px,#ff7b77 191.5px,#ff6864 196.5px,#ff4240 200.5px,#ff0909 205.5px,#f00 209.5px,#f00 590.5px)"></i><i style="top:542px;height:2px;background:linear-gradient(90deg,#ff0c0c 0.5px,#ff1716 56.5px,#ff2b29 76.5px,#ff2c2a 109.5px,#ff4c49 169.5px,#ff5f5b 182.5px,#ff7874 191.5px,#ff605c 197.5px,#ff0a09 205.5px,#f00 209.5px,#f00 590.5px)"></i><i style="top:544px;height:2px;background:linear-gradient(90deg,#ff0c0c 0.5px,#ff1716 56.5px,#ff2a29 76.5px,#ff2b2a 110.5px,#ff4b48 170.5px,#ff5c59 182.5px,#ff7571 191.5px,#ff6561 196.5px,#ff413f 200.5px,#ff0a0a 205.5px,#f00 209.5px,#f00 590.5px)"></i></div>
<svg width="1803" height="666" viewBox="0 0 1803 666">
<defs>
<style>.f1{font-family:"Liberation Sans", Arial, sans-serif;fill:#000}.f2{font-family:Carlito, Calibri, "Liberation Sans", sans-serif;fill:#000}</style>
<radialGradient id="ball" cx="0.5" cy="0.5" r="0.5" fx="0.45" fy="0.42">
<stop offset="0" stop-color="#f0f0f0"/><stop offset="0.18" stop-color="#8a8a8a"/>
<stop offset="0.5" stop-color="#2e2e2e"/><stop offset="0.85" stop-color="#080808"/><stop offset="1" stop-color="#000"/>
</radialGradient>
<linearGradient id="cb" x1="0" y1="0" x2="0" y2="1">
<stop offset="0" stop-color="#0000ff"/><stop offset="0.25" stop-color="#2040f2"/>
<stop offset="0.5" stop-color="#3a74f0"/><stop offset="0.75" stop-color="#4aaaf4"/>
<stop offset="0.998" stop-color="#62f2fc"/><stop offset="0.999" stop-color="#ffe4f2"/>
<stop offset="1" stop-color="#ffe4f2"/>
</linearGradient>
<linearGradient id="cr" x1="0" y1="0" x2="0" y2="1">
<stop offset="0" stop-color="#ffe6f4"/><stop offset="0.25" stop-color="#ff98a8"/><stop offset="0.5" stop-color="#ff5862"/><stop offset="0.75" stop-color="#ff2a30"/><stop offset="1" stop-color="#ff0000"/>
</linearGradient>
</defs>
<rect x="173.2" y="20.2" width="547.6" height="535.2" fill="none" stroke="#000" stroke-width="2.4"/>
<path d="M249.0 19.0 L251.0 30.0 L256.5 58.0 L262.5 87.0 L268.5 112.0 L274.0 133.0 L279.0 150.0 L283.3 170.0 L287.0 182.0 L292.0 198.0 L297.0 209.0 L303.0 219.0 L309.0 227.0 L315.0 233.0 L322.0 238.0 L334.0 242.0 L346.0 241.5 L357.0 237.5 L367.0 233.5 L380.0 225.5 L392.0 214.0 L402.0 201.0 L410.0 191.0 L417.0 180.0 L426.0 165.0 L438.0 149.0 L449.0 133.0 L464.0 112.5 L479.0 91.5 L490.0 79.0 L500.0 69.5 L510.0 65.0 L520.0 62.0 L530.0 57.0 L539.0 53.0 L546.0 45.0 L550.0 38.0 L554.0 30.0 L558.0 23.0 L561.5 19.0" fill="none" stroke="#000" stroke-width="3" stroke-dasharray="11 19" stroke-dashoffset="-2" stroke-linejoin="round"/>
<polygon points="379.5,195.1 380.3,202.6 387.3,205.4 380.4,208.4 379.9,216.0 374.9,210.3 367.5,212.2 371.4,205.7 367.3,199.3 374.7,200.9" fill="#000"/>
<polygon points="174,234 223,224.5 223,244" fill="#000"/>
<rect x="753.5" y="21.5" width="36" height="267" fill="url(#cb)"/>
<rect x="753.5" y="288.5" width="36" height="267" fill="url(#cr)"/>
<rect x="753.5" y="21.5" width="36.0" height="534.0" fill="url(#none)" stroke="#111" stroke-width="1.6"/><path d="M753.5 88.2h4.5M789.5 88.2h-4.5M753.5 155.0h4.5M789.5 155.0h-4.5M753.5 221.8h4.5M789.5 221.8h-4.5M753.5 288.5h4.5M789.5 288.5h-4.5M753.5 355.2h4.5M789.5 355.2h-4.5M753.5 422.0h4.5M789.5 422.0h-4.5M753.5 488.8h4.5M789.5 488.8h-4.5" stroke="#111" stroke-width="1.6"/>
<text class="f1" x="158.4" y="47.7" font-size="30.5" textLength="50.0" lengthAdjust="spacingAndGlyphs" text-anchor="end">290</text>
<text class="f1" x="158.4" y="82.3" font-size="30.5" textLength="50.0" lengthAdjust="spacingAndGlyphs" text-anchor="end">270</text>
<text class="f1" x="158.4" y="119.8" font-size="30.5" textLength="50.0" lengthAdjust="spacingAndGlyphs" text-anchor="end">250</text>
<text class="f1" x="158.4" y="160.3" font-size="30.5" textLength="50.0" lengthAdjust="spacingAndGlyphs" text-anchor="end">230</text>
<text class="f1" x="158.4" y="202.7" font-size="30.5" textLength="50.0" lengthAdjust="spacingAndGlyphs" text-anchor="end">210</text>
<text class="f1" x="158.4" y="252.3" font-size="30.5" textLength="50.0" lengthAdjust="spacingAndGlyphs" text-anchor="end">190</text>
<text class="f1" x="158.4" y="305.0" font-size="30.5" textLength="50.0" lengthAdjust="spacingAndGlyphs" text-anchor="end">170</text>
<text class="f1" x="158.4" y="367.3" font-size="30.5" textLength="50.0" lengthAdjust="spacingAndGlyphs" text-anchor="end">150</text>
<text class="f1" x="158.4" y="436.3" font-size="30.5" textLength="50.0" lengthAdjust="spacingAndGlyphs" text-anchor="end">130</text>
<text class="f1" x="158.4" y="515.7" font-size="30.5" textLength="50.0" lengthAdjust="spacingAndGlyphs" text-anchor="end">110</text>
<text class="f1" x="140.4" y="593.6" font-size="34.0" textLength="52.8" lengthAdjust="spacingAndGlyphs">990</text>
<text class="f1" x="269.0" y="593.6" font-size="34.0" textLength="68.1" lengthAdjust="spacingAndGlyphs">1010</text>
<text class="f1" x="407.0" y="593.6" font-size="34.0" textLength="68.2" lengthAdjust="spacingAndGlyphs">1030</text>
<text class="f1" x="543.2" y="593.6" font-size="34.0" textLength="68.2" lengthAdjust="spacingAndGlyphs">1050</text>
<text class="f1" x="680.6" y="593.6" font-size="34.0" textLength="67.1" lengthAdjust="spacingAndGlyphs">1070</text>
<text class="f1" x="328.5" y="632.5" font-size="33.0" textLength="228.0" lengthAdjust="spacingAndGlyphs">wavelength (nm)</text>
<g transform="translate(83.5 400.5) rotate(-90)"><text class="f1" x="0.0" y="0.0" font-size="32.5" textLength="219.0" lengthAdjust="spacingAndGlyphs">temperature (K)</text></g>
<text class="f1" x="2.1" y="53.0" font-size="53.0" textLength="27.3" lengthAdjust="spacingAndGlyphs">a</text>
<text class="f1" x="34.9" y="53.2" font-size="54.2" textLength="16.5" lengthAdjust="spacingAndGlyphs">)</text>
<text class="f1" x="795.5" y="34.6" font-size="34.8" textLength="60.9" lengthAdjust="spacingAndGlyphs">0.02</text>
<text class="f1" x="794.8" y="167.0" font-size="34.8" textLength="56.6" lengthAdjust="spacingAndGlyphs">0.01</text>
<text class="f1" x="795.6" y="300.3" font-size="34.8" textLength="18.0" lengthAdjust="spacingAndGlyphs">0</text>
<text class="f1" x="796.7" y="433.1" font-size="34.8" textLength="68.4" lengthAdjust="spacingAndGlyphs">-0.01</text>
<text class="f1" x="796.7" y="565.1" font-size="34.8" textLength="69.8" lengthAdjust="spacingAndGlyphs">-0.02</text>
<text class="f1" x="851.2" y="298.8" font-size="47.0" textLength="23.7" lengthAdjust="spacingAndGlyphs">&#951;</text>
<text class="f1" x="873.3" y="309.0" font-size="31.0" textLength="13.9" lengthAdjust="spacingAndGlyphs">c</text>
<text class="f2" x="534.8" y="95" font-size="36" textLength="70" lengthAdjust="spacingAndGlyphs">T<tspan font-size="23" dy="6">m</tspan><tspan dy="-6">(&#955;)</tspan></text>
<text class="f2" x="458.5" y="438.0" font-size="33.5" textLength="135.7" lengthAdjust="spacingAndGlyphs">Yb:ZBLAN</text>
<text class="f2" x="458.5" y="479" font-size="33.5" textLength="156" lengthAdjust="spacingAndGlyphs">&#951;<tspan font-size="23" dy="8">ext</tspan><tspan dy="-8"> = 0.995</tspan></text>
<text class="f2" x="458.5" y="520" font-size="33.5" textLength="216.5" lengthAdjust="spacingAndGlyphs">&#945;<tspan font-size="23" dy="8.5">b</tspan><tspan dy="-8.5"> = 2x10</tspan><tspan font-size="20" dy="-10">-4</tspan><tspan dy="10"> cm</tspan><tspan font-size="20" dy="-10">-1</tspan></text>
<polygon points="1274.5,328.7 1275.3,336.2 1282.3,339.0 1275.4,342.0 1274.9,349.6 1269.9,343.9 1262.5,345.8 1266.4,339.3 1262.3,332.9 1269.7,334.5" fill="#000"/>
<polygon points="1240.0,469.4 1240.8,476.9 1247.8,479.7 1240.9,482.7 1240.4,490.3 1235.4,484.6 1228.0,486.5 1231.9,480.0 1227.8,473.6 1235.2,475.2" fill="#000"/>
<polygon points="1052,518.3 1098.5,507.4 1098.5,528.2" fill="#000"/>
<path d="M1123.2 196.1V246.6M1118.0 196.1h10.5M1118.0 246.6h10.5" stroke="#000" stroke-width="2.2" fill="none"/>
<path d="M1368.4 196.2V246.2M1363.2 196.2h10.5M1363.2 246.2h10.5" stroke="#000" stroke-width="2.2" fill="none"/>
<path d="M1324.0 285.8V315.0M1318.8 285.8h10.5M1318.8 315.0h10.5" stroke="#000" stroke-width="2.2" fill="none"/>
<path d="M1277.9 346.4V379.5M1272.7 346.4h10.5M1272.7 379.5h10.5" stroke="#000" stroke-width="2.2" fill="none"/>
<path d="M1259.0 362.6V434.8M1253.8 362.6h10.5M1253.8 434.8h10.5" stroke="#000" stroke-width="2.2" fill="none"/>
<path d="M1232.5 496.0V539.8M1227.2 496.0h10.5M1227.2 539.8h10.5" stroke="#000" stroke-width="2.2" fill="none"/>
<circle cx="1086.7" cy="26.4" r="10.4" fill="url(#ball)"/>
<circle cx="1595.1" cy="27.0" r="10.4" fill="url(#ball)"/>
<circle cx="1123.2" cy="219.7" r="10.4" fill="url(#ball)"/>
<circle cx="1368.4" cy="220.8" r="10.4" fill="url(#ball)"/>
<circle cx="1324.0" cy="300.3" r="10.4" fill="url(#ball)"/>
<circle cx="1277.9" cy="364.5" r="10.4" fill="url(#ball)"/>
<circle cx="1259.0" cy="397.7" r="10.4" fill="url(#ball)"/>
<circle cx="1232.5" cy="517.5" r="10.4" fill="url(#ball)"/>
<rect x="1658" y="22.5" width="36" height="271" fill="url(#cb)"/>
<rect x="1658" y="293.5" width="36" height="270" fill="url(#cr)"/>
<rect x="1658.0" y="22.5" width="36.0" height="541.0" fill="url(#none)" stroke="#111" stroke-width="1.6"/><path d="M1658.0 90.1h4.5M1694.0 90.1h-4.5M1658.0 157.8h4.5M1694.0 157.8h-4.5M1658.0 225.4h4.5M1694.0 225.4h-4.5M1658.0 293.0h4.5M1694.0 293.0h-4.5M1658.0 360.6h4.5M1694.0 360.6h-4.5M1658.0 428.2h4.5M1694.0 428.2h-4.5M1658.0 495.9h4.5M1694.0 495.9h-4.5" stroke="#111" stroke-width="1.6"/>
<text class="f1" x="1040.2" y="30.3" font-size="30.0" textLength="46.5" lengthAdjust="spacingAndGlyphs" text-anchor="end">300</text>
<text class="f1" x="1040.2" y="74.1" font-size="30.0" textLength="46.5" lengthAdjust="spacingAndGlyphs" text-anchor="end">275</text>
<text class="f1" x="1040.2" y="119.1" font-size="30.0" textLength="46.5" lengthAdjust="spacingAndGlyphs" text-anchor="end">250</text>
<text class="f1" x="1040.2" y="173.1" font-size="30.0" textLength="46.5" lengthAdjust="spacingAndGlyphs" text-anchor="end">225</text>
<text class="f1" x="1040.2" y="237.5" font-size="30.0" textLength="46.5" lengthAdjust="spacingAndGlyphs" text-anchor="end">200</text>
<text class="f1" x="1040.2" y="297.0" font-size="30.0" textLength="46.5" lengthAdjust="spacingAndGlyphs" text-anchor="end">175</text>
<text class="f1" x="1040.2" y="374.3" font-size="30.0" textLength="46.5" lengthAdjust="spacingAndGlyphs" text-anchor="end">150</text>
<text class="f1" x="1040.2" y="465.3" font-size="30.0" textLength="46.5" lengthAdjust="spacingAndGlyphs" text-anchor="end">125</text>
<text class="f1" x="1040.2" y="531.0" font-size="30.0" textLength="46.5" lengthAdjust="spacingAndGlyphs" text-anchor="end">110</text>
<text class="f1" x="1023.4" y="603.8" font-size="32.3" textLength="63.3" lengthAdjust="spacingAndGlyphs">1000</text>
<text class="f1" x="1112.8" y="603.8" font-size="32.3" textLength="62.2" lengthAdjust="spacingAndGlyphs">1010</text>
<text class="f1" x="1203.7" y="603.8" font-size="32.3" textLength="62.5" lengthAdjust="spacingAndGlyphs">1020</text>
<text class="f1" x="1293.8" y="603.8" font-size="32.3" textLength="62.6" lengthAdjust="spacingAndGlyphs">1030</text>
<text class="f1" x="1383.9" y="603.8" font-size="32.3" textLength="63.3" lengthAdjust="spacingAndGlyphs">1040</text>
<text class="f1" x="1475.1" y="603.8" font-size="32.3" textLength="62.9" lengthAdjust="spacingAndGlyphs">1050</text>
<text class="f1" x="1566.0" y="603.8" font-size="32.3" textLength="63.2" lengthAdjust="spacingAndGlyphs">1060</text>
<text class="f1" x="1213.7" y="654.2" font-size="36.5" textLength="241.5" lengthAdjust="spacingAndGlyphs">wavelength (nm)</text>
<g transform="translate(955.7 409) rotate(-90)"><text class="f1" x="0.0" y="0.0" font-size="34.5" textLength="229.5" lengthAdjust="spacingAndGlyphs">temperature (K)</text></g>
<text class="f1" x="920.2" y="53.0" font-size="52.2" textLength="29.9" lengthAdjust="spacingAndGlyphs">b</text>
<text class="f1" x="953.8" y="52.9" font-size="53.0" textLength="14.6" lengthAdjust="spacingAndGlyphs">)</text>
<text class="f1" x="1699.9" y="35.3" font-size="34.8" textLength="60.5" lengthAdjust="spacingAndGlyphs">0.02</text>
<text class="f1" x="1698.2" y="169.8" font-size="34.8" textLength="57.6" lengthAdjust="spacingAndGlyphs">0.01</text>
<text class="f1" x="1700.0" y="305.2" font-size="34.8" textLength="17.5" lengthAdjust="spacingAndGlyphs">0</text>
<text class="f1" x="1700.5" y="440.5" font-size="34.8" textLength="69.0" lengthAdjust="spacingAndGlyphs">-0.01</text>
<text class="f1" x="1700.5" y="573.7" font-size="34.8" textLength="70.5" lengthAdjust="spacingAndGlyphs">-0.02</text>
<text class="f1" x="1755.5" y="303.7" font-size="47.0" textLength="23.7" lengthAdjust="spacingAndGlyphs">&#951;</text>
<text class="f1" x="1777.2" y="313.6" font-size="31.0" textLength="13.9" lengthAdjust="spacingAndGlyphs">c</text>
<text class="f2" x="1384.6" y="446.7" font-size="34.0" textLength="91.8" lengthAdjust="spacingAndGlyphs">Yb:YLF</text>
<text class="f2" x="1385.6" y="488" font-size="34" textLength="155.5" lengthAdjust="spacingAndGlyphs">&#951;<tspan font-size="23" dy="8">ext</tspan><tspan dy="-8"> = 0.995</tspan></text>
<text class="f2" x="1385.6" y="529" font-size="34" textLength="216" lengthAdjust="spacingAndGlyphs">&#945;<tspan font-size="23" dy="8.5">b</tspan><tspan dy="-8.5"> = 4x10</tspan><tspan font-size="20" dy="-10">-4</tspan><tspan dy="10"> cm</tspan><tspan font-size="20" dy="-10">-1</tspan></text>
</svg>
</body></html>
